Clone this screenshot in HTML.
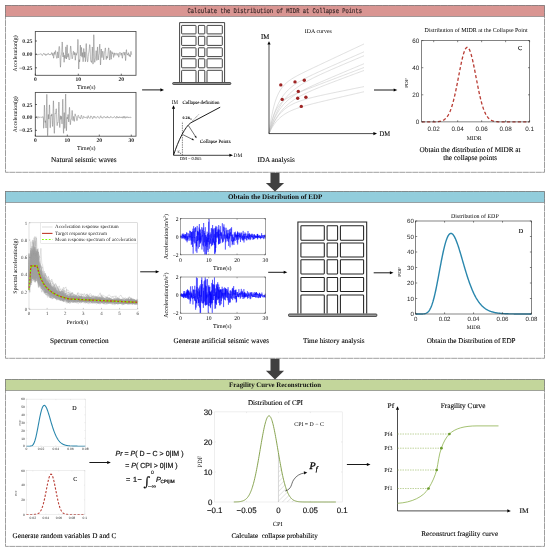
<!DOCTYPE html>
<html><head><meta charset="utf-8"><title>Fragility workflow</title>
<style>html,body{margin:0;padding:0;background:#fff}svg{display:block;text-rendering:geometricPrecision}</style></head>
<body><svg width="550" height="553" viewBox="0 0 550 553">
<rect x="5.5" y="5.5" width="539" height="166.8" fill="#fff" stroke="#8c8c8c" stroke-width="0.85" stroke-dasharray="6 0.5"/>
<rect x="5.5" y="5.5" width="539" height="10.9" fill="#d99592" stroke="#707070" stroke-width="0.6" />
<text x="187.5" y="13.2" font-size="7" font-family="'Liberation Mono', monospace" fill="#2b1f1f" textLength="174.5" lengthAdjust="spacingAndGlyphs" stroke="#2b1f1f" stroke-width="0.15">Calculate the Distribution of MIDR at Collapse Points</text>
<rect x="5.5" y="191.6" width="539" height="166.7" fill="#fff" stroke="#8c8c8c" stroke-width="0.85" stroke-dasharray="6 0.5"/>
<rect x="5.5" y="191.6" width="539" height="10.8" fill="#92cddc" stroke="#707070" stroke-width="0.6" />
<text x="228" y="199.4" font-size="7.05" font-family="'Liberation Serif', serif" font-weight="bold" fill="#111" textLength="94.4" lengthAdjust="spacingAndGlyphs" >Obtain the Distribution of EDP</text>
<rect x="5.5" y="379.6" width="539" height="166.8" fill="#fff" stroke="#8c8c8c" stroke-width="0.85" stroke-dasharray="6 0.5"/>
<rect x="5.5" y="379.6" width="539" height="10.8" fill="#c3d69b" stroke="#707070" stroke-width="0.6" />
<text x="229" y="387.1" font-size="6.87" font-family="'Liberation Serif', serif" font-weight="bold" fill="#111" textLength="92" lengthAdjust="spacingAndGlyphs" >Fragility Curve Reconstruction</text>
<polygon points="270.5,172.8 279.5,172.8 279.5,183 284.1,183 275,191.4 265.9,183 270.5,183" fill="#404040"/>
<polygon points="270.5,358.8 279.5,358.8 279.5,370.8 284.1,370.8 275,379.4 265.9,370.8 270.5,370.8" fill="#404040"/>
<path d="M179.6,82.2 V22.6 H224.6 V82.2" fill="none" stroke="#222" stroke-width="0.85"/>
<rect x="181.6" y="25.4" width="14.4" height="8.5" fill="none" stroke="#222" stroke-width="0.85" rx="0.6"/>
<rect x="198.4" y="25.4" width="6.4" height="8.5" fill="none" stroke="#222" stroke-width="0.85" rx="0.6"/>
<rect x="207" y="25.4" width="15.3" height="8.5" fill="none" stroke="#222" stroke-width="0.85" rx="0.6"/>
<rect x="181.6" y="36.3" width="14.4" height="9.1" fill="none" stroke="#222" stroke-width="0.85" rx="0.6"/>
<rect x="198.4" y="36.3" width="6.4" height="9.1" fill="none" stroke="#222" stroke-width="0.85" rx="0.6"/>
<rect x="207" y="36.3" width="15.3" height="9.1" fill="none" stroke="#222" stroke-width="0.85" rx="0.6"/>
<rect x="181.6" y="47.8" width="14.4" height="8.8" fill="none" stroke="#222" stroke-width="0.85" rx="0.6"/>
<rect x="198.4" y="47.8" width="6.4" height="8.8" fill="none" stroke="#222" stroke-width="0.85" rx="0.6"/>
<rect x="207" y="47.8" width="15.3" height="8.8" fill="none" stroke="#222" stroke-width="0.85" rx="0.6"/>
<rect x="181.6" y="58.8" width="14.4" height="9" fill="none" stroke="#222" stroke-width="0.85" rx="0.6"/>
<rect x="198.4" y="58.8" width="6.4" height="9" fill="none" stroke="#222" stroke-width="0.85" rx="0.6"/>
<rect x="207" y="58.8" width="15.3" height="9" fill="none" stroke="#222" stroke-width="0.85" rx="0.6"/>
<path d="M181.6,82.2 V71.1 Q181.6,70.3 182.4,70.3 H195.2 Q196,70.3 196,71.1 V82.2" fill="none" stroke="#222" stroke-width="0.85"/>
<path d="M198.4,82.2 V71.1 Q198.4,70.3 199.2,70.3 H204 Q204.8,70.3 204.8,71.1 V82.2" fill="none" stroke="#222" stroke-width="0.85"/>
<path d="M207,82.2 V71.1 Q207,70.3 207.8,70.3 H221.5 Q222.3,70.3 222.3,71.1 V82.2" fill="none" stroke="#222" stroke-width="0.85"/>
<rect x="172.7" y="82.6" width="58.1" height="1.8" fill="#a6a6a6" stroke="#2a2a2a" stroke-width="0.85" rx="0.6"/>
<path d="M297.9,313.6 V222 H366.7 V313.6" fill="none" stroke="#222" stroke-width="1.05"/>
<rect x="300.9" y="225.8" width="23.4" height="14.4" fill="none" stroke="#222" stroke-width="1.05" rx="0.6"/>
<rect x="327.1" y="225.8" width="10.5" height="14.4" fill="none" stroke="#222" stroke-width="1.05" rx="0.6"/>
<rect x="340.4" y="225.8" width="23.2" height="14.4" fill="none" stroke="#222" stroke-width="1.05" rx="0.6"/>
<rect x="300.9" y="242.9" width="23.4" height="14.1" fill="none" stroke="#222" stroke-width="1.05" rx="0.6"/>
<rect x="327.1" y="242.9" width="10.5" height="14.1" fill="none" stroke="#222" stroke-width="1.05" rx="0.6"/>
<rect x="340.4" y="242.9" width="23.2" height="14.1" fill="none" stroke="#222" stroke-width="1.05" rx="0.6"/>
<rect x="300.9" y="259.7" width="23.4" height="14.2" fill="none" stroke="#222" stroke-width="1.05" rx="0.6"/>
<rect x="327.1" y="259.7" width="10.5" height="14.2" fill="none" stroke="#222" stroke-width="1.05" rx="0.6"/>
<rect x="340.4" y="259.7" width="23.2" height="14.2" fill="none" stroke="#222" stroke-width="1.05" rx="0.6"/>
<rect x="300.9" y="277.4" width="23.4" height="14.1" fill="none" stroke="#222" stroke-width="1.05" rx="0.6"/>
<rect x="327.1" y="277.4" width="10.5" height="14.1" fill="none" stroke="#222" stroke-width="1.05" rx="0.6"/>
<rect x="340.4" y="277.4" width="23.2" height="14.1" fill="none" stroke="#222" stroke-width="1.05" rx="0.6"/>
<path d="M300.9,313.6 V295.8 Q300.9,295 301.7,295 H323.5 Q324.3,295 324.3,295.8 V313.6" fill="none" stroke="#222" stroke-width="1.05"/>
<path d="M327.1,313.6 V295.8 Q327.1,295 327.9,295 H336.8 Q337.6,295 337.6,295.8 V313.6" fill="none" stroke="#222" stroke-width="1.05"/>
<path d="M340.4,313.6 V295.8 Q340.4,295 341.2,295 H362.8 Q363.6,295 363.6,295.8 V313.6" fill="none" stroke="#222" stroke-width="1.05"/>
<rect x="288.6" y="314" width="88.2" height="2.4" fill="#a6a6a6" stroke="#2a2a2a" stroke-width="0.85" rx="0.6"/>
<polyline points="35.3,54.01 35.52,53.91 35.73,54.07 35.95,54.36 36.16,54.46 36.38,54.25 36.59,53.92 36.8,53.8 37.02,54.03 37.23,54.42 37.45,54.73 37.66,54.84 37.88,54.83 38.09,54.79 38.31,54.66 38.52,54.39 38.74,54.1 38.95,53.98 39.17,54.11 39.38,54.3 39.6,54.29 39.81,54.03 40.03,53.74 40.24,53.69 40.46,53.9 40.67,54.15 40.89,54.22 41.1,54.1 41.32,54.03 41.53,54.21 41.75,54.67 41.96,55.2 42.18,55.53 42.39,55.51 42.61,55.18 42.82,54.71 43.04,54.27 43.25,53.9 43.47,53.55 43.68,53.21 43.9,53.09 44.11,53.32 44.33,53.92 44.54,54.49 44.76,54.61 44.97,54.24 45.19,53.89 45.41,54.09 45.62,54.84 45.83,55.5 46.05,55.49 46.27,54.87 46.48,54.28 46.7,54.25 46.91,54.62 47.12,54.85 47.34,54.6 47.55,54.03 47.77,53.52 47.98,53.27 48.2,53.23 48.41,53.41 48.63,53.87 48.84,54.52 49.06,54.97 49.27,54.94 49.49,54.59 49.7,54.44 49.92,54.7 50.13,55.03 50.35,54.94 50.56,54.47 50.78,54.13 50.99,54.17 51.21,54.15 51.42,53.53 51.64,52.65 51.85,52.53 52.07,53.67 52.28,55.14 52.5,55.44 52.71,54.29 52.93,53.22 53.14,53.99 53.36,56.41 53.57,58.23 53.79,57.48 54,54.66 54.22,52.26 54.44,52.15 54.65,53.63 54.86,54.49 55.08,53.44 55.3,51.42 55.51,50.58 55.72,51.83 55.94,54.02 56.16,55.63 56.37,56.5 56.58,57.43 56.8,58.39 57.02,58.05 57.23,55.66 57.44,52.68 57.66,51.84 57.88,54.11 58.09,57.28 58.3,58 58.52,55.14 58.73,50.7 58.95,47.39 59.16,46.33 59.38,46.54 59.59,47.87 59.81,51.46 60.02,57.66 60.24,64.17 60.45,67.2 60.67,65.06 60.88,60.04 61.1,56.18 61.31,55.1 61.53,54.54 61.74,51.39 61.96,45.85 62.17,41.95 62.39,43.47 62.6,49.68 62.82,55.63 63.03,57.01 63.25,54.47 63.47,52.61 63.68,54.82 63.89,59.57 64.11,62.27 64.32,60.5 64.54,56.72 64.75,55.24 64.97,57 65.19,58.43 65.4,55.8 65.61,50.17 65.83,46.83 66.05,49.49 66.26,55.69 66.47,58.98 66.69,55.63 66.91,48.72 67.12,44.88 67.33,47.46 67.55,53.44 67.77,57.21 67.98,56.49 68.19,53.99 68.41,53.59 68.62,56 68.84,58.79 69.06,59.8 69.27,59.46 69.48,59.35 69.7,59.53 69.91,58.25 70.13,54.42 70.34,49.47 70.56,46.17 70.78,46.02 70.99,48.09 71.2,50.6 71.42,52.75 71.63,54.84 71.85,57.01 72.06,58.58 72.28,58.85 72.5,57.92 72.71,56.4 72.92,54.63 73.14,52.73 73.35,51.28 73.57,51.28 73.78,52.92 74,54.74 74.22,54.99 74.43,53.49 74.64,52.43 74.86,54.08 75.07,57.8 75.29,60.23 75.5,58.91 75.72,55.21 75.94,52.78 76.15,53.34 76.37,55.02 76.58,55.25 76.79,54.07 77.01,53.39 77.22,53.18 77.44,50.72 77.66,44.75 77.87,39.35 78.09,41.18 78.3,51.79 78.52,64.07 78.73,69.03 78.94,65.51 79.16,60.33 79.38,59.67 79.59,61.89 79.81,60.47 80.02,53.18 80.23,45.71 80.45,45.05 80.66,50.91 80.88,55.93 81.09,54.5 81.31,49.28 81.53,47.42 81.74,51.51 81.95,56.69 82.17,57.19 82.38,53.79 82.6,52.56 82.81,56.64 83.03,61.77 83.25,61.32 83.46,54.72 83.67,48.47 83.89,48.63 84.11,53.86 84.32,57.44 84.53,55.64 84.75,51.89 84.97,52.17 85.18,57.33 85.39,61.76 85.61,59.87 85.82,52.29 86.04,45.13 86.25,43.56 86.47,47.35 86.69,52.59 86.9,56.3 87.11,58.52 87.33,60.4 87.54,61.83 87.76,61.68 87.97,59.58 88.19,56.67 88.41,54.43 88.62,53.25 88.84,52.42 89.05,51.09 89.27,48.98 89.48,46.46 89.69,44.61 89.91,44.96 90.12,48.44 90.34,54.05 90.56,59.06 90.77,61.26 90.98,61.11 91.2,61.03 91.41,62.18 91.63,62.52 91.84,59.05 92.06,52.2 92.27,46.97 92.49,48.58 92.7,56.6 92.92,64.11 93.13,63.55 93.35,53.72 93.56,41.2 93.78,34.73 94,38.13 94.21,47.97 94.42,57.5 94.64,62.21 94.86,62.3 95.07,60.67 95.28,59.4 95.5,58.23 95.72,55.9 95.93,52.62 96.14,50.66 96.36,52.27 96.57,56.83 96.79,60.49 97,59.32 97.22,53.46 97.44,47.61 97.65,46.92 97.86,51.98 98.08,57.88 98.29,59.91 98.51,57.89 98.72,55.25 98.94,54.26 99.16,53.42 99.37,50.22 99.58,45.58 99.8,44.12 100.02,49.2 100.23,58.39 100.44,64.94 100.66,63.98 100.88,57.13 101.09,50.56 101.31,49.05 101.52,52.24 101.73,56.19 101.95,57.62 102.16,56.32 102.38,53.79 102.59,51.74 102.81,51.09 103.02,52.2 103.24,54.91 103.45,58.1 103.67,59.86 103.89,58.9 104.1,55.88 104.31,52.97 104.53,51.63 104.75,51.32 104.96,50.47 105.17,48.76 105.39,47.9 105.61,49.73 105.82,53.95 106.03,58.03 106.25,59.54 106.47,58.37 106.68,56.55 106.9,56.06 107.11,57.07 107.32,58.2 107.54,58.08 107.75,56.46 107.97,54 108.18,51.41 108.4,49.17 108.61,47.83 108.83,48.13 109.05,50.59 109.26,54.66 109.47,58.55 109.69,60.06 109.91,58.17 110.12,54.07 110.33,50.65 110.55,50.46 110.77,53.64 110.98,57.63 111.2,59.27 111.41,57.45 111.62,53.97 111.84,51.67 112.06,51.76 112.27,53.07 112.48,53.67 112.7,53.16 112.91,52.81 113.13,53.93 113.34,56.08 113.56,57.41 113.77,56.62 113.99,54.43 114.2,52.8 114.42,52.94 114.63,54.29 114.85,55.35 115.06,55.29 115.28,54.45 115.5,53.67 115.71,53.28 115.92,53.11 116.14,53.04 116.36,53.24 116.57,53.87 116.78,54.71 117,55.32 117.22,55.39 117.43,54.9 117.64,54.1 117.86,53.35 118.07,53.2 118.29,54.1 118.5,55.79 118.72,57.2 118.94,57.19 119.15,55.64 119.36,53.67 119.58,52.57 119.8,52.57 120.01,52.85 120.22,52.77 120.44,52.71 120.66,53.42 120.87,54.7 121.09,55.33 121.3,54.52 121.52,53.12 121.73,52.97 121.95,54.82 122.16,57.31 122.38,58.25 122.59,56.88 122.8,54.45 123.02,52.72 123.23,52.22 123.45,52.31 123.66,52.51 123.88,53.15 124.09,54.35 124.31,55.21 124.52,54.55 124.74,52.78 124.95,52.08 125.17,54.23 125.39,58.22 125.6,60.62 125.81,58.93 126.03,54.24 126.25,50.25 126.46,49.67 126.67,51.84 126.89,54.01 127.11,54.46 127.32,53.93 127.54,54.01 127.75,54.86 127.97,55.19 128.18,54.18 128.39,52.8 128.61,52.73 128.82,54.31 129.04,56.01 129.25,56.26 129.47,55.24 129.69,54.6 129.9,55.38 130.12,56.73 130.33,56.81 130.55,54.91 130.76,52.27 130.97,51.36 131.19,52.32 131.41,53.74 131.62,54.44 131.84,54.41 132.05,54.26" fill="none" stroke="#6a6a6a" stroke-width="0.45" />
<rect x="35.3" y="31.5" width="100.7" height="43.8" fill="none" stroke="#4a4a4a" stroke-width="0.85" />
<line x1="35.3" y1="41" x2="36.9" y2="41" stroke="#111" stroke-width="0.7" />
<text x="32.5" y="43" font-size="5.8" font-family="'Liberation Serif', serif" text-anchor="end" font-weight="bold" fill="#333" >0.25</text>
<line x1="35.3" y1="54.3" x2="36.9" y2="54.3" stroke="#111" stroke-width="0.7" />
<text x="32.5" y="56.3" font-size="5.8" font-family="'Liberation Serif', serif" text-anchor="end" font-weight="bold" fill="#333" >0.00</text>
<line x1="35.3" y1="67.8" x2="36.9" y2="67.8" stroke="#111" stroke-width="0.7" />
<text x="32.5" y="69.8" font-size="5.8" font-family="'Liberation Serif', serif" text-anchor="end" font-weight="bold" fill="#333" >&#8722;0.25</text>
<line x1="35.3" y1="75.3" x2="35.3" y2="73.7" stroke="#111" stroke-width="0.6" />
<text x="35.3" y="81.4" font-size="5.5" font-family="'Liberation Serif', serif" text-anchor="middle" font-weight="bold" fill="#222" >0</text>
<line x1="78.3" y1="75.3" x2="78.3" y2="73.7" stroke="#111" stroke-width="0.6" />
<text x="78.3" y="81.4" font-size="5.5" font-family="'Liberation Serif', serif" text-anchor="middle" font-weight="bold" fill="#222" >10</text>
<line x1="121.3" y1="75.3" x2="121.3" y2="73.7" stroke="#111" stroke-width="0.6" />
<text x="121.3" y="81.4" font-size="5.5" font-family="'Liberation Serif', serif" text-anchor="middle" font-weight="bold" fill="#222" >20</text>
<text x="77" y="89" font-size="5.94" font-family="'Liberation Serif', serif" textLength="18.6" lengthAdjust="spacingAndGlyphs" >Time(s)</text>
<text x="17.4" y="53.4" font-size="5.74" font-family="'Liberation Serif', serif" text-anchor="middle" textLength="36" lengthAdjust="spacingAndGlyphs" transform="rotate(-90 17.4 53.4)" >Acceleration(g)</text>
<polyline points="35.3,117.69 35.46,117.73 35.62,117.73 35.78,117.72 35.94,117.7 36.1,117.61 36.26,117.41 36.42,117.09 36.58,116.71 36.74,116.39 36.9,116.25 37.06,116.37 37.22,116.76 37.38,117.3 37.54,117.85 37.7,118.25 37.86,118.4 38.02,118.28 38.18,117.95 38.34,117.52 38.5,117.09 38.66,116.77 38.82,116.62 38.98,116.65 39.14,116.83 39.3,117.1 39.46,117.37 39.62,117.55 39.78,117.59 39.94,117.5 40.1,117.32 40.26,117.16 40.42,117.09 40.58,117.15 40.74,117.29 40.9,117.44 41.06,117.51 41.22,117.47 41.38,117.36 41.54,117.28 41.7,117.29 41.86,117.4 42.02,117.55 42.18,117.61 42.34,117.49 42.5,117.19 42.66,116.83 42.82,116.57 42.98,116.58 43.14,116.9 43.3,117.42 43.46,117.92 43.62,128.27 43.78,127.77 43.94,122.65 44.1,114.94 44.26,108.09 44.42,105.15 44.58,107.16 44.74,112.63 44.9,118.49 45.06,122 45.22,122.44 45.38,121.43 45.54,120.73 45.7,122.91 45.86,126.22 46.02,127.99 46.18,125.54 46.34,118.06 46.5,107.55 46.66,98.19 46.82,94.33 46.98,98.25 47.14,108.82 47.3,121.93 47.46,132.43 47.62,135.7 47.78,133.82 47.94,126.6 48.1,119.06 48.26,114.64 48.42,114.45 48.58,116.93 48.74,119.09 48.9,118.44 49.06,114.48 49.22,108.99 49.38,104.96 49.54,104.87 49.7,109.28 49.86,116.5 50.02,123.56 50.18,127.71 50.34,127.77 50.5,124.55 50.66,120.17 50.82,116.74 50.98,115.32 51.14,115.53 51.3,116.13 51.46,116 51.62,114.95 51.78,113.88 51.94,114.13 52.1,116.5 52.26,120.56 52.42,124.62 52.58,126.48 52.74,124.59 52.9,118.92 53.06,111.2 53.22,104.25 53.38,100.81 53.54,102.41 53.7,108.68 53.86,117.57 54.02,126.18 54.18,131.9 54.34,133.35 54.5,130.74 54.66,125.58 54.82,119.95 54.98,115.62 55.14,113.39 55.3,112.99 55.46,113.37 55.62,113.36 55.78,112.36 55.94,110.58 56.1,109 56.26,108.78 56.42,110.66 56.58,114.45 56.74,119.1 56.9,123.16 57.06,125.45 57.22,125.68 57.38,124.52 57.54,123.15 57.7,122.51 57.86,122.72 58.02,122.86 58.18,121.6 58.34,118.01 58.5,112.36 58.66,106.3 58.82,102.19 58.98,102.01 59.14,106.24 59.3,113.52 59.46,121.16 59.62,126.37 59.78,127.57 59.94,125.1 60.1,120.84 60.26,117.19 60.42,115.73 60.58,116.53 60.74,118.31 60.9,119.43 61.06,119 61.22,117.5 61.38,116.35 61.54,116.96 61.7,119.5 61.86,122.59 62.02,123.86 62.18,121.38 62.34,114.97 62.5,106.77 62.66,100.4 62.82,99.22 62.98,104.5 63.14,114.55 63.3,125.37 63.46,132.52 63.62,133.29 63.78,128.08 63.94,120.16 64.1,113.93 64.26,112.62 64.42,116.63 64.58,123.29 64.74,128.37 64.9,128.27 65.06,122 65.22,111.75 65.38,101.8 65.54,96.45 65.7,94.08 65.86,103.46 66.02,115.63 66.18,125.79 66.34,130.77 66.5,130.16 66.66,125.96 66.82,121.15 66.98,118.06 67.14,117.34 67.3,118.08 67.46,118.72 67.62,118.2 67.78,116.56 67.94,114.88 68.1,114.46 68.26,115.89 68.42,118.64 68.58,121.21 68.74,121.99 68.9,120.11 69.06,116.01 69.22,111.26 69.38,107.87 69.54,107.31 69.7,109.88 69.86,114.57 70.02,119.6 70.18,123.28 70.34,124.69 70.5,123.98 70.66,122.14 70.82,120.37 70.98,119.45 71.14,119.35 71.3,119.44 71.46,118.87 71.62,117.17 71.78,114.58 71.94,111.96 72.1,110.41 72.26,110.67 72.42,112.75 72.58,115.87 72.74,118.82 72.9,120.52 73.06,120.54 73.22,119.23 73.38,117.54 73.54,116.49 73.7,116.7 73.86,118.09 74.02,119.93 74.18,121.28 74.34,121.41 74.5,120.18 74.66,118.06 74.82,115.86 74.98,114.33 75.14,113.83 75.3,114.21 75.46,115.01 75.62,115.69 75.78,116.02 75.94,116.06 76.1,116.15 76.26,116.62 76.42,117.58 76.58,118.83 76.74,119.99 76.9,120.65 77.06,120.6 77.22,119.88 77.38,118.76 77.54,117.58 77.7,116.59 77.86,115.89 78.02,115.47 78.18,115.27 78.34,115.28 78.5,115.52 78.66,116 78.82,116.67 78.98,117.37 79.14,117.89 79.3,118.09 79.46,117.98 79.62,117.72 79.78,117.56 79.94,117.67 80.1,118.08 80.26,118.6 80.42,118.93 80.58,118.83 80.74,118.22 80.9,117.25 81.06,116.22 81.22,115.46 81.38,115.18 81.54,115.39 81.7,115.93 81.86,116.6 82.02,117.2 82.18,117.67 82.34,118.04 82.5,118.35 82.66,118.59 82.82,118.7 82.98,118.58 83.14,118.19 83.3,117.58 83.46,116.92 83.62,116.4 83.78,116.19 83.94,116.32 84.1,116.69 84.26,117.11 84.42,117.41 84.58,117.51 84.74,117.44 84.9,117.3 85.06,117.23 85.22,117.27 85.38,117.4 85.54,117.54 85.7,117.58 85.86,117.47 86.02,117.23 86.18,116.98 86.34,116.83 86.5,116.9 86.66,117.2 86.82,117.67 86.98,118.16 87.14,118.47 87.3,118.47 87.46,118.1 87.62,117.44 87.78,116.66 87.94,116 88.1,115.67 88.26,115.75 88.42,116.2 88.58,116.84 88.74,117.44 88.9,117.83 89.06,117.96 89.22,117.91 89.38,117.84 89.54,117.88 89.7,118.07 89.86,118.31 90.02,118.41 90.18,118.22 90.34,117.72 90.5,117.02 90.66,116.35 90.82,115.93 90.98,115.86 91.14,116.1 91.3,116.48 91.46,116.82 91.62,117.01 91.78,117.11 91.94,117.25 92.1,117.54 92.26,118.01 92.42,118.5 92.58,118.81 92.74,118.74 92.9,118.27 93.06,117.54 93.22,116.83 93.38,116.43 93.54,116.45 93.7,116.8 93.86,117.25 94.02,117.53 94.18,117.47 94.34,117.12 94.5,116.66 94.66,116.35 94.82,116.34 94.98,116.64 95.14,117.11 95.3,117.55 95.46,117.82 95.62,117.9 95.78,117.86 95.94,117.84 96.1,117.89 96.26,118 96.42,118.07 96.58,117.99 96.74,117.73 96.9,117.34 97.06,116.94 97.22,116.66 97.38,116.53 97.54,116.52 97.7,116.57 97.86,116.59 98.02,116.59 98.18,116.62 98.34,116.76 98.5,117.05 98.66,117.46 98.82,117.88 98.98,118.2 99.14,118.36 99.3,118.37 99.46,118.28 99.62,118.16 99.78,118.01 99.94,117.79 100.1,117.43 100.26,116.92 100.42,116.37 100.58,115.94 100.74,115.78 100.9,115.99 101.06,116.5 101.22,117.11 101.38,117.6 101.54,117.81 101.7,117.74 101.86,117.53 102.02,117.38 102.18,117.44 102.34,117.7 102.5,118.04 102.66,118.26 102.82,118.19 102.98,117.86 103.14,117.37 103.3,116.95 103.46,116.74 103.62,116.77 103.78,116.93 103.94,117.06 104.1,117.04 104.26,116.87 104.42,116.67 104.58,116.61 104.74,116.77 104.9,117.14 105.06,117.58 105.22,117.89 105.38,117.95 105.54,117.79 105.7,117.53 105.86,117.37 106.02,117.41 106.18,117.63 106.34,117.91 106.5,118.03 106.66,117.87 106.82,117.43 106.98,116.86 107.14,116.37 107.3,116.15 107.46,116.27 107.62,116.68 107.78,117.18 107.94,117.6 108.1,117.79 108.26,117.74 108.42,117.52 108.58,117.26 108.74,117.08 108.9,117.04 109.06,117.16 109.22,117.39 109.38,117.67 109.54,117.92 109.7,118.06 109.86,118.05 110.02,117.88 110.18,117.56 110.34,117.16 110.5,116.77 110.66,116.47 110.82,116.34 110.98,116.38 111.14,116.57 111.3,116.85 111.46,117.15 111.62,117.43 111.78,117.67 111.94,117.84 112.1,117.93 112.26,117.91 112.42,117.8 112.58,117.61 112.74,117.42 112.9,117.28 113.06,117.25 113.22,117.33 113.38,117.45 113.54,117.5 113.7,117.41 113.86,117.17 114.02,116.84 114.18,116.58 114.34,116.49 114.5,116.61 114.66,116.89 114.82,117.2 114.98,117.43 115.14,117.53 115.3,117.56 115.46,117.6 115.62,117.75 115.78,117.99 115.94,118.21 116.1,118.23 116.26,117.96 116.42,117.41 116.58,116.75 116.74,116.24 116.9,116.08 117.06,116.34 117.22,116.86 117.38,117.4 117.54,117.71 117.7,117.69 117.86,117.43 118.02,117.13 118.18,117.01 118.34,117.19 118.5,117.57 118.66,117.94 118.82,118.08 118.98,117.89 119.14,117.45 119.3,116.98 119.46,116.7 119.62,116.74 119.78,117.03 119.94,117.38 120.1,117.58 120.26,117.54 120.42,117.3 120.58,117.04 120.74,116.95 120.9,117.09 121.06,117.36 121.22,117.6 121.38,117.63 121.54,117.41 121.7,117.07 121.86,116.84 122.02,116.88 122.18,117.23 122.34,117.73 122.5,118.11 122.66,118.14 122.82,117.75 122.98,117.12 123.14,116.54 123.3,116.31 123.46,116.55 123.62,117.14 123.78,117.79 123.94,118.16 124.1,118.06 124.26,117.56 124.42,116.9 124.58,116.43 124.74,116.38 124.9,116.78 125.06,117.43 125.22,118.02 125.38,118.28 125.54,118.11 125.7,117.63 125.86,117.08 126.02,116.73 126.18,116.71 126.34,116.97 126.5,117.34 126.66,117.61 126.82,117.62 126.98,117.38 127.14,117.03 127.3,116.77 127.46,116.74 127.62,116.98 127.78,117.39 127.94,117.78 128.1,117.98 128.26,117.92 128.42,117.64 128.58,117.28 128.74,117 128.9,116.92 129.06,117.05 129.22,117.28 129.38,117.47 129.54,117.5 129.7,117.35 129.86,117.1 130.02,116.89 130.18,116.85 130.34,117.02 130.5,117.34 130.66,117.64 130.82,117.77 130.98,117.67 131.14,117.37 131.3,117.06" fill="none" stroke="#6a6a6a" stroke-width="0.45" />
<rect x="35.3" y="92.4" width="100.7" height="43.8" fill="none" stroke="#4a4a4a" stroke-width="0.85" />
<line x1="35.3" y1="104.5" x2="36.9" y2="104.5" stroke="#111" stroke-width="0.7" />
<text x="32.5" y="106.5" font-size="5.8" font-family="'Liberation Serif', serif" text-anchor="end" font-weight="bold" fill="#333" >0.25</text>
<line x1="35.3" y1="117.3" x2="36.9" y2="117.3" stroke="#111" stroke-width="0.7" />
<text x="32.5" y="119.3" font-size="5.8" font-family="'Liberation Serif', serif" text-anchor="end" font-weight="bold" fill="#333" >0.00</text>
<line x1="35.3" y1="130.3" x2="36.9" y2="130.3" stroke="#111" stroke-width="0.7" />
<text x="32.5" y="132.3" font-size="5.8" font-family="'Liberation Serif', serif" text-anchor="end" font-weight="bold" fill="#333" >&#8722;0.25</text>
<line x1="35.3" y1="136.2" x2="35.3" y2="134.6" stroke="#111" stroke-width="0.6" />
<text x="35.3" y="142.3" font-size="5.5" font-family="'Liberation Serif', serif" text-anchor="middle" font-weight="bold" fill="#222" >0</text>
<line x1="67.3" y1="136.2" x2="67.3" y2="134.6" stroke="#111" stroke-width="0.6" />
<text x="67.3" y="142.3" font-size="5.5" font-family="'Liberation Serif', serif" text-anchor="middle" font-weight="bold" fill="#222" >10</text>
<line x1="99.3" y1="136.2" x2="99.3" y2="134.6" stroke="#111" stroke-width="0.6" />
<text x="99.3" y="142.3" font-size="5.5" font-family="'Liberation Serif', serif" text-anchor="middle" font-weight="bold" fill="#222" >20</text>
<line x1="131.3" y1="136.2" x2="131.3" y2="134.6" stroke="#111" stroke-width="0.6" />
<text x="131.3" y="142.3" font-size="5.5" font-family="'Liberation Serif', serif" text-anchor="middle" font-weight="bold" fill="#222" >30</text>
<text x="77" y="149.9" font-size="5.94" font-family="'Liberation Serif', serif" textLength="18.6" lengthAdjust="spacingAndGlyphs" >Time(s)</text>
<text x="17.4" y="114.3" font-size="5.74" font-family="'Liberation Serif', serif" text-anchor="middle" textLength="36" lengthAdjust="spacingAndGlyphs" transform="rotate(-90 17.4 114.3)" >Acceleration(g)</text>
<text x="51.1" y="162.3" font-size="7.28" font-family="'Liberation Serif', serif" stroke="#000" stroke-width="0.1" textLength="65.5" lengthAdjust="spacingAndGlyphs" >Natural seismic waves</text>
<line x1="142.1" y1="89.9" x2="160.9" y2="89.9" stroke="#000" stroke-width="0.9" />
<polygon points="164,89.9 160.4,88.35 160.4,91.45" fill="#000"/>
<line x1="173.5" y1="155.3" x2="173.5" y2="108.2" stroke="#000" stroke-width="0.75" />
<polygon points="173.5,105.3 171.9,108.7 175.1,108.7" fill="#000"/>
<line x1="173.5" y1="155.3" x2="229.9" y2="155.3" stroke="#000" stroke-width="0.75" />
<polygon points="233,155.3 229.4,153.75 229.4,156.85" fill="#000"/>
<text x="171.8" y="104.3" font-size="5.6" font-family="'Liberation Serif', serif" textLength="6.1" lengthAdjust="spacingAndGlyphs" >IM</text>
<text x="182.4" y="103.9" font-size="4.9" font-family="'Liberation Serif', serif" stroke="#000" stroke-width="0.08" textLength="37.1" lengthAdjust="spacingAndGlyphs" >Collapse definition</text>
<text x="233.6" y="157.2" font-size="5.4" font-family="'Liberation Serif', serif" >DM</text>
<text x="179.7" y="160.1" font-size="4.63" font-family="'Liberation Serif', serif" textLength="21.8" lengthAdjust="spacingAndGlyphs" >DM = 0.065</text>
<text x="200.1" y="143.4" font-size="4.9" font-family="'Liberation Serif', serif" stroke="#000" stroke-width="0.08" textLength="30.5" lengthAdjust="spacingAndGlyphs" >Collapse Points</text>
<text x="182.4" y="119" font-size="4" font-family="'Liberation Serif', serif" font-weight="bold" >0.2K<tspan font-size="3" dy="0.8">e</tspan></text>
<path d="M173.6,155 C176,148 178.5,141 182.2,134.2 C185,129 187.5,125.2 190.8,122.8 L220.2,107.2" fill="none" stroke="#111" stroke-width="0.95"/>
<path d="M192.6,120.8 L198.8,114.4" fill="none" stroke="#111" stroke-width="0.5" stroke-dasharray="1.1 0.8"/>
<line x1="182.4" y1="155.3" x2="182.4" y2="121.6" stroke="#111" stroke-width="0.5" stroke-dasharray="1.5 0.9"/>
<line x1="188.4" y1="125.5" x2="195.52" y2="136.52" stroke="#111" stroke-width="0.6" />
<polygon points="196.6,138.2 194.46,136.73 196.14,135.64" fill="#111"/>
<line x1="183" y1="134.7" x2="192.41" y2="139.41" stroke="#111" stroke-width="0.6" />
<polygon points="194.2,140.3 191.61,140.12 192.5,138.33" fill="#111"/>
<text x="177.5" y="153.4" font-size="3.4" font-family="'Liberation Serif', serif" >K<tspan font-size="2.6" dy="0.6">e</tspan></text>
<polyline points="269,133.6 270.2,124.86 271.41,117.61 272.61,111.57 273.81,106.52 275.01,102.29 276.22,98.73 277.42,95.71 278.62,93.13 279.82,90.92 281.03,89.01 282.23,87.35 283.43,85.88 284.63,84.58 285.84,83.41 287.04,82.35 288.24,81.38 289.44,80.48 290.65,79.65 291.85,78.86 293.05,78.11 294.25,77.4 295.46,76.71 296.66,76.05 297.86,75.4 299.06,74.77 300.27,74.15 301.47,73.54 302.67,72.94 303.87,72.34 305.08,71.75 306.28,71.17 307.48,70.59 308.68,70.01 309.89,69.43 311.09,68.86 312.29,68.29 313.49,67.72 314.7,67.14 315.9,66.58 317.1,66.01 318.3,65.44 319.51,64.87 320.71,64.3 321.91,63.74 323.11,63.17 324.32,62.61 325.52,62.04 326.72,61.47 327.92,60.91 329.13,60.34 330.33,59.78 331.53,59.21 332.73,58.65 333.94,58.08 335.14,57.52 336.34,56.95 337.54,56.38 338.75,55.82 339.95,55.25 341.15,54.69 342.35,54.12 343.56,53.56 344.76,52.99 345.96,52.43 347.16,51.86 348.37,51.3 349.57,50.73 350.77,50.17 351.97,49.6 353.18,49.04 354.38,48.47 355.58,47.91 356.78,47.34 357.99,46.78 359.19,46.21 360.39,45.65 361.59,45.08 362.8,44.52 364,43.95" fill="none" stroke="#c6c6c6" stroke-width="0.55" />
<polyline points="269,133.6 270.2,128.07 271.41,123.16 272.61,118.8 273.81,114.92 275.01,111.46 276.22,108.37 277.42,105.59 278.62,103.1 279.82,100.86 281.03,98.82 282.23,96.98 283.43,95.3 284.63,93.76 285.84,92.35 287.04,91.05 288.24,89.85 289.44,88.73 290.65,87.69 291.85,86.71 293.05,85.78 294.25,84.91 295.46,84.08 296.66,83.28 297.86,82.52 299.06,81.79 300.27,81.08 301.47,80.4 302.67,79.73 303.87,79.09 305.08,78.45 306.28,77.83 307.48,77.22 308.68,76.63 309.89,76.04 311.09,75.45 312.29,74.88 313.49,74.31 314.7,73.74 315.9,73.18 317.1,72.63 318.3,72.07 319.51,71.52 320.71,70.98 321.91,70.43 323.11,69.89 324.32,69.35 325.52,68.81 326.72,68.27 327.92,67.73 329.13,67.19 330.33,66.66 331.53,66.12 332.73,65.59 333.94,65.06 335.14,64.52 336.34,63.99 337.54,63.46 338.75,62.93 339.95,62.4 341.15,61.87 342.35,61.34 343.56,60.81 344.76,60.27 345.96,59.74 347.16,59.21 348.37,58.68 349.57,58.15 350.77,57.62 351.97,57.1 353.18,56.57 354.38,56.04 355.58,55.51 356.78,54.98 357.99,54.45 359.19,53.92 360.39,53.39 361.59,52.86 362.8,52.33 364,51.8" fill="none" stroke="#c6c6c6" stroke-width="0.55" />
<polyline points="269,133.6 270.2,129.47 271.41,125.69 272.61,122.22 273.81,119.03 275.01,116.1 276.22,113.4 277.42,110.91 278.62,108.61 279.82,106.47 281.03,104.5 282.23,102.66 283.43,100.96 284.63,99.36 285.84,97.87 287.04,96.48 288.24,95.17 289.44,93.93 290.65,92.77 291.85,91.66 293.05,90.62 294.25,89.63 295.46,88.68 296.66,87.77 297.86,86.91 299.06,86.08 300.27,85.28 301.47,84.5 302.67,83.76 303.87,83.03 305.08,82.33 306.28,81.64 307.48,80.98 308.68,80.32 309.89,79.69 311.09,79.06 312.29,78.45 313.49,77.84 314.7,77.25 315.9,76.67 317.1,76.09 318.3,75.52 319.51,74.95 320.71,74.39 321.91,73.84 323.11,73.29 324.32,72.75 325.52,72.2 326.72,71.67 327.92,71.13 329.13,70.6 330.33,70.07 331.53,69.54 332.73,69.02 333.94,68.5 335.14,67.98 336.34,67.46 337.54,66.94 338.75,66.42 339.95,65.9 341.15,65.39 342.35,64.88 343.56,64.36 344.76,63.85 345.96,63.34 347.16,62.83 348.37,62.32 349.57,61.81 350.77,61.3 351.97,60.79 353.18,60.28 354.38,59.77 355.58,59.26 356.78,58.76 357.99,58.25 359.19,57.74 360.39,57.23 361.59,56.73 362.8,56.22 364,55.71" fill="none" stroke="#c6c6c6" stroke-width="0.55" />
<polyline points="269,133.6 270.2,129.7 271.41,126.18 272.61,123 273.81,120.12 275.01,117.52 276.22,115.15 277.42,112.99 278.62,111.02 279.82,109.22 281.03,107.56 282.23,106.04 283.43,104.63 284.63,103.32 285.84,102.1 287.04,100.96 288.24,99.9 289.44,98.9 290.65,97.95 291.85,97.06 293.05,96.21 294.25,95.39 295.46,94.62 296.66,93.87 297.86,93.15 299.06,92.46 300.27,91.78 301.47,91.13 302.67,90.49 303.87,89.87 305.08,89.26 306.28,88.66 307.48,88.08 308.68,87.5 309.89,86.93 311.09,86.37 312.29,85.81 313.49,85.26 314.7,84.72 315.9,84.18 317.1,83.64 318.3,83.11 319.51,82.58 320.71,82.05 321.91,81.53 323.11,81.01 324.32,80.49 325.52,79.97 326.72,79.45 327.92,78.93 329.13,78.42 330.33,77.91 331.53,77.39 332.73,76.88 333.94,76.37 335.14,75.86 336.34,75.35 337.54,74.84 338.75,74.33 339.95,73.83 341.15,73.32 342.35,72.81 343.56,72.3 344.76,71.8 345.96,71.29 347.16,70.78 348.37,70.28 349.57,69.77 350.77,69.26 351.97,68.76 353.18,68.25 354.38,67.75 355.58,67.24 356.78,66.74 357.99,66.23 359.19,65.72 360.39,65.22 361.59,64.71 362.8,64.21 364,63.7" fill="none" stroke="#c6c6c6" stroke-width="0.55" />
<polyline points="269,133.6 270.2,127.69 271.41,122.78 272.61,118.67 273.81,115.23 275.01,112.33 276.22,109.87 277.42,107.78 278.62,105.98 279.82,104.43 281.03,103.07 282.23,101.88 283.43,100.82 284.63,99.88 285.84,99.02 287.04,98.23 288.24,97.5 289.44,96.83 290.65,96.19 291.85,95.58 293.05,95.01 294.25,94.45 295.46,93.91 296.66,93.39 297.86,92.88 299.06,92.38 300.27,91.88 301.47,91.4 302.67,90.91 303.87,90.44 305.08,89.96 306.28,89.49 307.48,89.03 308.68,88.56 309.89,88.1 311.09,87.63 312.29,87.17 313.49,86.71 314.7,86.25 315.9,85.79 317.1,85.33 318.3,84.87 319.51,84.41 320.71,83.96 321.91,83.5 323.11,83.04 324.32,82.58 325.52,82.13 326.72,81.67 327.92,81.21 329.13,80.75 330.33,80.3 331.53,79.84 332.73,79.38 333.94,78.92 335.14,78.47 336.34,78.01 337.54,77.55 338.75,77.1 339.95,76.64 341.15,76.18 342.35,75.73 343.56,75.27 344.76,74.81 345.96,74.35 347.16,73.9 348.37,73.44 349.57,72.98 350.77,72.53 351.97,72.07 353.18,71.61 354.38,71.16 355.58,70.7 356.78,70.24 357.99,69.78 359.19,69.33 360.39,68.87 361.59,68.41 362.8,67.96 364,67.5" fill="none" stroke="#c6c6c6" stroke-width="0.55" />
<polyline points="269,133.6 270.2,130.46 271.41,127.62 272.61,125.05 273.81,122.72 275.01,120.61 276.22,118.69 277.42,116.94 278.62,115.35 279.82,113.9 281.03,112.58 282.23,111.37 283.43,110.25 284.63,109.23 285.84,108.29 287.04,107.42 288.24,106.62 289.44,105.88 290.65,105.18 291.85,104.54 293.05,103.93 294.25,103.37 295.46,102.84 296.66,102.33 297.86,101.86 299.06,101.41 300.27,100.98 301.47,100.57 302.67,100.18 303.87,99.8 305.08,99.44 306.28,99.09 307.48,98.75 308.68,98.42 309.89,98.1 311.09,97.79 312.29,97.49 313.49,97.19 314.7,96.9 315.9,96.61 317.1,96.33 318.3,96.06 319.51,95.78 320.71,95.51 321.91,95.25 323.11,94.98 324.32,94.72 325.52,94.46 326.72,94.2 327.92,93.95 329.13,93.69 330.33,93.44 331.53,93.19 332.73,92.94 333.94,92.69 335.14,92.44 336.34,92.19 337.54,91.95 338.75,91.7 339.95,91.45 341.15,91.21 342.35,90.96 343.56,90.72 344.76,90.48 345.96,90.23 347.16,89.99 348.37,89.75 349.57,89.5 350.77,89.26 351.97,89.02 353.18,88.78 354.38,88.54 355.58,88.29 356.78,88.05 357.99,87.81 359.19,87.57 360.39,87.33 361.59,87.09 362.8,86.85 364,86.6" fill="none" stroke="#c6c6c6" stroke-width="0.55" />
<polyline points="269,133.6 270.2,131.06 271.41,128.77 272.61,126.71 273.81,124.86 275.01,123.18 276.22,121.66 277.42,120.28 278.62,119.03 279.82,117.89 281.03,116.84 282.23,115.89 283.43,115.01 284.63,114.19 285.84,113.44 287.04,112.74 288.24,112.09 289.44,111.49 290.65,110.92 291.85,110.38 293.05,109.87 294.25,109.39 295.46,108.93 296.66,108.5 297.86,108.08 299.06,107.67 300.27,107.29 301.47,106.91 302.67,106.55 303.87,106.19 305.08,105.84 306.28,105.51 307.48,105.18 308.68,104.85 309.89,104.53 311.09,104.22 312.29,103.91 313.49,103.6 314.7,103.3 315.9,103 317.1,102.7 318.3,102.4 319.51,102.11 320.71,101.82 321.91,101.53 323.11,101.24 324.32,100.96 325.52,100.67 326.72,100.39 327.92,100.1 329.13,99.82 330.33,99.54 331.53,99.26 332.73,98.98 333.94,98.69 335.14,98.41 336.34,98.14 337.54,97.86 338.75,97.58 339.95,97.3 341.15,97.02 342.35,96.74 343.56,96.46 344.76,96.19 345.96,95.91 347.16,95.63 348.37,95.35 349.57,95.08 350.77,94.8 351.97,94.52 353.18,94.24 354.38,93.97 355.58,93.69 356.78,93.41 357.99,93.14 359.19,92.86 360.39,92.58 361.59,92.31 362.8,92.03 364,91.75" fill="none" stroke="#c6c6c6" stroke-width="0.55" />
<polyline points="269,133.6 270.2,130.49 271.41,127.62 272.61,124.99 273.81,122.57 275.01,120.34 276.22,118.28 277.42,116.37 278.62,114.6 279.82,112.96 281.03,111.43 282.23,110 283.43,108.67 284.63,107.43 285.84,106.26 287.04,105.15 288.24,104.12 289.44,103.13 290.65,102.2 291.85,101.32 293.05,100.47 294.25,99.67 295.46,98.9 296.66,98.16 297.86,97.45 299.06,96.76 300.27,96.1 301.47,95.46 302.67,94.83 303.87,94.23 305.08,93.64 306.28,93.06 307.48,92.5 308.68,91.94 309.89,91.4 311.09,90.87 312.29,90.34 313.49,89.82 314.7,89.31 315.9,88.81 317.1,88.31 318.3,87.82 319.51,87.33 320.71,86.84 321.91,86.36 323.11,85.89 324.32,85.41 325.52,84.94 326.72,84.47 327.92,84 329.13,83.54 330.33,83.08 331.53,82.62 332.73,82.16 333.94,81.7 335.14,81.24 336.34,80.79 337.54,80.33 338.75,79.88 339.95,79.42 341.15,78.97 342.35,78.52 343.56,78.07 344.76,77.62 345.96,77.17 347.16,76.72 348.37,76.27 349.57,75.82 350.77,75.38 351.97,74.93 353.18,74.48 354.38,74.03 355.58,73.59 356.78,73.14 357.99,72.69 359.19,72.24 360.39,71.8 361.59,71.35 362.8,70.91 364,70.46" fill="none" stroke="#c6c6c6" stroke-width="0.55" />
<line x1="269" y1="133.6" x2="269" y2="44.1" stroke="#000" stroke-width="0.7" />
<polygon points="269,41.2 267.4,44.6 270.6,44.6" fill="#000"/>
<line x1="269" y1="133.6" x2="373.9" y2="133.6" stroke="#000" stroke-width="0.7" />
<polygon points="377,133.6 373.4,132.05 373.4,135.15" fill="#000"/>
<text x="261.1" y="38.9" font-size="6.71" font-family="'Liberation Serif', serif" stroke="#000" stroke-width="0.1" textLength="8.2" lengthAdjust="spacingAndGlyphs" >IM</text>
<text x="379.6" y="135.7" font-size="7.2" font-family="'Liberation Serif', serif" stroke="#000" stroke-width="0.1" textLength="10.6" lengthAdjust="spacingAndGlyphs" >DM</text>
<text x="304.8" y="33.2" font-size="5.89" font-family="'Liberation Serif', serif" textLength="27" lengthAdjust="spacingAndGlyphs" >IDA curves</text>
<circle cx="280.8" cy="84.9" r="1.7" fill="#9e2424"/>
<circle cx="295" cy="81.9" r="1.7" fill="#9e2424"/>
<circle cx="304.3" cy="80.3" r="1.7" fill="#9e2424"/>
<circle cx="298.3" cy="91.4" r="1.7" fill="#9e2424"/>
<circle cx="282.2" cy="99.4" r="1.7" fill="#9e2424"/>
<circle cx="297.7" cy="98.3" r="1.7" fill="#9e2424"/>
<circle cx="305.9" cy="97.2" r="1.7" fill="#9e2424"/>
<circle cx="301.3" cy="106.4" r="1.7" fill="#9e2424"/>
<line x1="374" y1="90" x2="394.2" y2="90" stroke="#000" stroke-width="0.9" />
<polygon points="397.3,90 393.7,88.45 393.7,91.55" fill="#000"/>
<text x="257.4" y="161.7" font-size="7.18" font-family="'Liberation Serif', serif" stroke="#000" stroke-width="0.1" textLength="37.3" lengthAdjust="spacingAndGlyphs" >IDA analysis</text>
<polyline points="421.7,121.9 422.24,121.9 422.78,121.9 423.33,121.9 423.87,121.9 424.41,121.9 424.95,121.9 425.5,121.9 426.04,121.9 426.58,121.9 427.12,121.9 427.66,121.9 428.21,121.9 428.75,121.9 429.29,121.89 429.83,121.89 430.38,121.89 430.92,121.89 431.46,121.88 432,121.88 432.54,121.87 433.09,121.87 433.63,121.86 434.17,121.85 434.71,121.83 435.26,121.82 435.8,121.79 436.34,121.77 436.88,121.73 437.42,121.69 437.97,121.65 438.51,121.59 439.05,121.51 439.59,121.43 440.14,121.33 440.68,121.21 441.22,121.06 441.76,120.89 442.3,120.69 442.85,120.46 443.39,120.18 443.93,119.87 444.47,119.5 445.02,119.08 445.56,118.6 446.1,118.05 446.64,117.42 447.18,116.72 447.73,115.93 448.27,115.04 448.81,114.06 449.35,112.97 449.89,111.76 450.44,110.44 450.98,108.99 451.52,107.42 452.06,105.72 452.61,103.89 453.15,101.93 453.69,99.85 454.23,97.64 454.77,95.31 455.32,92.88 455.86,90.34 456.4,87.72 456.94,85.02 457.49,82.27 458.03,79.47 458.57,76.65 459.11,73.84 459.65,71.04 460.2,68.29 460.74,65.62 461.28,63.04 461.82,60.58 462.37,58.26 462.91,56.11 463.45,54.16 463.99,52.42 464.53,50.91 465.08,49.65 465.62,48.65 466.16,47.93 466.7,47.49 467.25,47.34 467.79,47.48 468.33,47.9 468.87,48.61 469.41,49.6 469.96,50.85 470.5,52.35 471.04,54.08 471.58,56.02 472.13,58.16 472.67,60.47 473.21,62.92 473.75,65.5 474.29,68.17 474.84,70.92 475.38,73.71 475.92,76.53 476.46,79.35 477.01,82.14 477.55,84.9 478.09,87.6 478.63,90.23 479.17,92.77 479.72,95.21 480.26,97.54 480.8,99.75 481.34,101.84 481.89,103.81 482.43,105.64 482.97,107.35 483.51,108.92 484.05,110.38 484.6,111.7 485.14,112.91 485.68,114.01 486.22,115 486.77,115.89 487.31,116.69 487.85,117.39 488.39,118.02 488.93,118.57 489.48,119.06 490.02,119.48 490.56,119.85 491.1,120.17 491.65,120.44 492.19,120.68 492.73,120.88 493.27,121.05 493.81,121.2 494.36,121.32 494.9,121.43 495.44,121.51 495.98,121.58 496.53,121.64 497.07,121.69 497.61,121.73 498.15,121.77 498.69,121.79 499.24,121.81 499.78,121.83 500.32,121.85 500.86,121.86 501.41,121.87 501.95,121.87 502.49,121.88 503.03,121.88 503.57,121.89 504.12,121.89 504.66,121.89 505.2,121.89 505.74,121.9 506.28,121.9 506.83,121.9 507.37,121.9 507.91,121.9 508.45,121.9 509,121.9 509.54,121.9 510.08,121.9 510.62,121.9 511.16,121.9 511.71,121.9 512.25,121.9 512.79,121.9 513.33,121.9 513.88,121.9 514.42,121.9 514.96,121.9 515.5,121.9 516.04,121.9 516.59,121.9 517.13,121.9 517.67,121.9 518.21,121.9 518.76,121.9 519.3,121.9 519.84,121.9 520.38,121.9 520.92,121.9 521.47,121.9 522.01,121.9 522.55,121.9 523.09,121.9 523.64,121.9 524.18,121.9 524.72,121.9 525.26,121.9 525.8,121.9 526.35,121.9 526.89,121.9 527.43,121.9 527.97,121.9 528.52,121.9 529.06,121.9 529.6,121.9" fill="none" stroke="#b83a32" stroke-width="1.3" stroke-dasharray="3.2 2.2" stroke-linejoin="round"/>
<rect x="421.7" y="40.6" width="107.9" height="81.3" fill="none" stroke="#333" stroke-width="0.6" />
<line x1="421.7" y1="121.9" x2="423.3" y2="121.9" stroke="#333" stroke-width="0.6" />
<line x1="529.6" y1="121.9" x2="528" y2="121.9" stroke="#333" stroke-width="0.6" />
<text x="419.3" y="124.17" font-size="6.3" font-family="'Liberation Sans', sans-serif" text-anchor="end" fill="#222" >0</text>
<line x1="421.7" y1="94.8" x2="423.3" y2="94.8" stroke="#333" stroke-width="0.6" />
<line x1="529.6" y1="94.8" x2="528" y2="94.8" stroke="#333" stroke-width="0.6" />
<text x="419.3" y="97.07" font-size="6.3" font-family="'Liberation Sans', sans-serif" text-anchor="end" fill="#222" >20</text>
<line x1="421.7" y1="67.7" x2="423.3" y2="67.7" stroke="#333" stroke-width="0.6" />
<line x1="529.6" y1="67.7" x2="528" y2="67.7" stroke="#333" stroke-width="0.6" />
<text x="419.3" y="69.97" font-size="6.3" font-family="'Liberation Sans', sans-serif" text-anchor="end" fill="#222" >40</text>
<line x1="421.7" y1="40.6" x2="423.3" y2="40.6" stroke="#333" stroke-width="0.6" />
<line x1="529.6" y1="40.6" x2="528" y2="40.6" stroke="#333" stroke-width="0.6" />
<text x="419.3" y="42.87" font-size="6.3" font-family="'Liberation Sans', sans-serif" text-anchor="end" fill="#222" >60</text>
<line x1="433.69" y1="121.9" x2="433.69" y2="120.3" stroke="#333" stroke-width="0.6" />
<line x1="433.69" y1="40.6" x2="433.69" y2="42.2" stroke="#333" stroke-width="0.6" />
<text x="433.69" y="130.9" font-size="6.3" font-family="'Liberation Sans', sans-serif" text-anchor="middle" fill="#222" >0.02</text>
<line x1="457.67" y1="121.9" x2="457.67" y2="120.3" stroke="#333" stroke-width="0.6" />
<line x1="457.67" y1="40.6" x2="457.67" y2="42.2" stroke="#333" stroke-width="0.6" />
<text x="457.67" y="130.9" font-size="6.3" font-family="'Liberation Sans', sans-serif" text-anchor="middle" fill="#222" >0.04</text>
<line x1="481.64" y1="121.9" x2="481.64" y2="120.3" stroke="#333" stroke-width="0.6" />
<line x1="481.64" y1="40.6" x2="481.64" y2="42.2" stroke="#333" stroke-width="0.6" />
<text x="481.64" y="130.9" font-size="6.3" font-family="'Liberation Sans', sans-serif" text-anchor="middle" fill="#222" >0.06</text>
<line x1="505.62" y1="121.9" x2="505.62" y2="120.3" stroke="#333" stroke-width="0.6" />
<line x1="505.62" y1="40.6" x2="505.62" y2="42.2" stroke="#333" stroke-width="0.6" />
<text x="505.62" y="130.9" font-size="6.3" font-family="'Liberation Sans', sans-serif" text-anchor="middle" fill="#222" >0.08</text>
<line x1="529.6" y1="121.9" x2="529.6" y2="120.3" stroke="#333" stroke-width="0.6" />
<line x1="529.6" y1="40.6" x2="529.6" y2="42.2" stroke="#333" stroke-width="0.6" />
<text x="529.6" y="130.9" font-size="6.3" font-family="'Liberation Sans', sans-serif" text-anchor="middle" fill="#222" >0.1</text>
<text x="424.6" y="31.8" font-size="5.94" font-family="'Liberation Serif', serif" textLength="103" lengthAdjust="spacingAndGlyphs" >Distribution of MIDR at the Collapse Point</text>
<text x="520" y="50.4" font-size="6" font-family="'Liberation Serif', serif" stroke="#000" stroke-width="0.15" text-anchor="middle" >C</text>
<text x="466.8" y="140" font-size="5.63" font-family="'Liberation Serif', serif" textLength="14.7" lengthAdjust="spacingAndGlyphs" >MIDR</text>
<text x="407.8" y="83" font-size="4.4" font-family="'Liberation Serif', serif" text-anchor="middle" textLength="9.7" lengthAdjust="spacingAndGlyphs" transform="rotate(-90 407.8 83)" >PDF</text>
<text x="419.6" y="151.9" font-size="7.23" font-family="'Liberation Serif', serif" stroke="#000" stroke-width="0.1" textLength="101" lengthAdjust="spacingAndGlyphs" >Obtain the distribution of MIDR at</text>
<text x="443.2" y="159.9" font-size="7.23" font-family="'Liberation Serif', serif" stroke="#000" stroke-width="0.1" textLength="53.8" lengthAdjust="spacingAndGlyphs" >the collapse points</text>
<polygon points="29,255.96 29.31,282.73 29.62,276.48 29.94,271.1 30.25,266.07 30.56,259.61 30.87,258.5 31.19,260.03 31.5,259.16 31.81,258.62 32.12,256.56 32.44,258.41 32.75,255.77 33.06,259.03 33.37,256.91 33.69,255.81 34,255.38 34.31,255.67 34.62,256.18 34.93,257.34 35.25,258 35.56,257.26 35.87,257.12 36.18,258.78 36.5,256.64 36.81,257.06 37.12,257.04 37.43,260.06 37.75,262.89 38.06,261.69 38.42,261.61 39.25,266.3 40.09,268.52 40.92,270.92 41.76,272.93 42.59,276.81 43.43,277.22 44.26,277.86 45.09,278.66 45.93,280.02 46.76,282.21 47.6,283.23 48.43,282.85 49.27,284.83 50.1,284.75 50.93,286.52 51.77,287.33 52.6,287.88 53.44,288.86 54.27,289.63 55.11,289.01 55.94,290.5 56.77,290.68 57.61,292.39 58.44,292.62 59.28,292.39 60.11,292.76 60.95,292.87 61.78,293.88 62.61,293 63.45,293.46 64.28,294.47 65.12,295.03 65.95,295.44 66.79,295.95 67.62,296.37 68.45,296.49 69.29,296.16 70.12,296.14 70.96,295.54 71.79,296.44 72.63,296.42 73.46,296.51 74.29,296.61 75.13,296.86 75.96,296.97 76.8,296.7 77.63,297.24 78.47,297.38 79.3,296.65 80.13,297.35 80.97,296.74 81.8,296.96 82.64,298 83.47,298.14 84.31,298.16 85.14,297.88 85.97,297.74 86.81,297.45 87.64,297.34 88.48,297.42 89.31,297.86 90.15,297.93 90.98,297.99 91.81,298.29 92.65,298.14 93.48,298.35 94.32,298.49 95.15,298.25 95.99,298.18 96.82,298.04 97.65,298.4 98.49,298.52 99.32,298.21 100.16,298.48 100.99,298.07 101.83,298.31 102.66,298.67 103.49,299 104.33,299.02 105.16,299.4 106,298.83 106.83,299.04 107.67,298.93 108.5,299.19 109.33,298.93 110.17,298.96 111,299.32 111.84,299.74 112.67,299.89 113.51,299.82 114.34,299.92 115.17,300.01 116.01,299.79 116.84,299.32 117.68,299.44 118.51,299.73 119.35,299.69 120.18,299.94 121.01,300.04 121.85,300.29 122.68,300.34 123.52,300.25 124.35,300.57 125.19,300.03 126.02,300.09 126.85,300 127.69,300.02 128.52,299.65 129.36,300.11 130.19,299.67 131.03,299.81 131.86,299.73 132.69,300.52 133.53,300.29 134.36,300.24 135.2,300.8 136.03,300.85 136.87,300.55 137.7,300.81 137.7,303.81 136.87,303.46 136.03,303.59 135.2,303.45 134.36,303.25 133.53,303.5 132.69,303.24 131.86,303.18 131.03,303.08 130.19,303.2 129.36,303.26 128.52,303.24 127.69,303.27 126.85,303 126.02,303.06 125.19,303.06 124.35,303.08 123.52,303.15 122.68,303.13 121.85,302.81 121.01,303.04 120.18,302.94 119.35,302.76 118.51,302.93 117.68,302.98 116.84,302.88 116.01,302.73 115.17,302.93 114.34,302.86 113.51,302.59 112.67,302.71 111.84,302.51 111,302.36 110.17,302.43 109.33,302.59 108.5,302.55 107.67,302.34 106.83,302.56 106,302.31 105.16,302.45 104.33,302.28 103.49,302.02 102.66,302.12 101.83,301.99 100.99,302.05 100.16,301.85 99.32,302.07 98.49,302.07 97.65,302.21 96.82,301.99 95.99,301.88 95.15,301.7 94.32,301.74 93.48,301.58 92.65,301.64 91.81,302.09 90.98,301.47 90.15,301.53 89.31,301.4 88.48,301.53 87.64,301.35 86.81,301.37 85.97,301.58 85.14,301.72 84.31,300.96 83.47,301.08 82.64,301.1 81.8,301.28 80.97,301.25 80.13,301.14 79.3,301.25 78.47,300.95 77.63,301.14 76.8,300.98 75.96,301.08 75.13,301.15 74.29,301.22 73.46,301.24 72.63,301.06 71.79,300.82 70.96,300.82 70.12,300.83 69.29,301.45 68.45,301.5 67.62,300.78 66.79,300.59 65.95,299.78 65.12,299.7 64.28,299.68 63.45,300.4 62.61,300.03 61.78,299.6 60.95,299.26 60.11,299.09 59.28,298.17 58.44,297.93 57.61,297.5 56.77,297.78 55.94,297.78 55.11,296.77 54.27,296.97 53.44,296.48 52.6,296.36 51.77,295.52 50.93,295.83 50.1,294.86 49.27,294.13 48.43,293.64 47.6,292.21 46.76,291.89 45.93,292.32 45.09,291.16 44.26,289.56 43.43,288.1 42.59,287.66 41.76,286.53 40.92,285.16 40.09,283.73 39.25,281.47 38.42,281.13 38.06,278.63 37.75,273.56 37.43,275.59 37.12,273.09 36.81,273.45 36.5,274.3 36.18,273.69 35.87,274.28 35.56,271.78 35.25,275.83 34.93,275.05 34.62,271.82 34.31,274.19 34,274.14 33.69,274.55 33.37,274.16 33.06,273.88 32.75,275.47 32.44,272.47 32.12,276.24 31.81,274.49 31.5,274.58 31.19,274.25 30.87,273.98 30.56,275.85 30.25,279.24 29.94,282.66 29.62,285.79 29.31,289 29,285.13" fill="#9d9d9d" stroke="none"/>
<polyline points="29,277.24 29.31,284.39 29.62,275.32 29.94,270.22 30.25,257.53 30.56,252.63 30.87,241.41 31.19,270.72 31.5,257.67 31.81,262.49 32.12,259.38 32.44,252.34 32.75,249.03 33.06,248.26 33.37,250.71 33.69,240.2 34,254.73 34.31,253.9 34.62,247.36 34.93,254.24 35.25,240.74 35.56,246.51 35.87,236.62 36.18,253.01 36.5,259.63 36.81,254.33 37.12,249.32 37.43,260.1 37.75,253.43 38.06,263.36 38.42,257.14 39.25,272.49 40.09,279.48 40.92,282.22 41.76,275.53 42.59,280.92 43.43,282.64 44.26,280.29 45.09,282.36 45.93,282.06 46.76,280.61 47.6,278.83 48.43,277.36 49.27,278.92 50.1,284.97 50.93,286.1 51.77,286.16 52.6,289.14 53.44,290.63 54.27,289.44 55.11,294.2 55.94,294.49 56.77,294.06 57.61,295.43 58.44,295.96 59.28,294.61 60.11,294.89 60.95,297.78 61.78,297.38 62.61,297.03 63.45,295.09 64.28,298.26 65.12,297.09 65.95,296.1 66.79,297.64 67.62,297.47 68.45,296.77 69.29,296.14 70.12,297.64 70.96,295.67 71.79,297.36 72.63,296.6 73.46,298.57 74.29,296.18 75.13,296.8 75.96,296.18 76.8,294.83 77.63,292.73 78.47,295.19 79.3,296.65 80.13,297.95 80.97,297.82 81.8,299.18 82.64,299.19 83.47,298.9 84.31,298.21 85.14,298.83 85.97,298.72 86.81,299.54 87.64,299.37 88.48,298.73 89.31,298.65 90.15,297.59 90.98,296.48 91.81,296.28 92.65,297.55 93.48,297.55 94.32,298.37 95.15,298.08 95.99,298.43 96.82,297.89 97.65,298.39 98.49,295.69 99.32,294.44 100.16,292.81 100.99,295.51 101.83,296.09 102.66,298.67 103.49,299.39 104.33,301.64 105.16,299.84 106,298.95 106.83,299.47 107.67,300.46 108.5,299.58 109.33,300.34 110.17,300.63 111,298.49 111.84,297.97 112.67,296.76 113.51,296.73 114.34,295.81 115.17,297.01 116.01,295.7 116.84,297.36 117.68,297.69 118.51,299.59 119.35,299.13 120.18,299.65 121.01,299.19 121.85,299.41 122.68,298.57 123.52,300.1 124.35,301.07 125.19,300.67 126.02,298.85 126.85,299.41 127.69,299.36 128.52,299.58 129.36,300.74 130.19,301.82 131.03,301.3 131.86,301.03 132.69,300.2 133.53,299.33 134.36,299.64 135.2,301.11 136.03,301.41 136.87,301.57 137.7,302.06" fill="none" stroke="#a0a0a0" stroke-width="0.3" />
<polyline points="29,278.34 29.31,280.4 29.62,274.94 29.94,271.15 30.25,268.14 30.56,271.23 30.87,261.75 31.19,273.23 31.5,268.52 31.81,268.11 32.12,270.83 32.44,258.73 32.75,250.33 33.06,259.44 33.37,258.92 33.69,246.89 34,249.51 34.31,263.64 34.62,258.53 34.93,257.84 35.25,265.31 35.56,260.13 35.87,262.01 36.18,254.89 36.5,256.45 36.81,255.82 37.12,252.13 37.43,253.64 37.75,260.9 38.06,265.88 38.42,251.79 39.25,266.21 40.09,265.17 40.92,265.8 41.76,275.11 42.59,275.69 43.43,275.73 44.26,271.16 45.09,276.2 45.93,277.94 46.76,278.96 47.6,282.36 48.43,287.29 49.27,287.3 50.1,284.25 50.93,287.64 51.77,287.84 52.6,292.73 53.44,294.49 54.27,294.5 55.11,294.95 55.94,296.01 56.77,294.92 57.61,293.56 58.44,295.53 59.28,296.4 60.11,295.26 60.95,293.88 61.78,294.02 62.61,295.3 63.45,292.02 64.28,292.73 65.12,293.55 65.95,295.35 66.79,295.19 67.62,296.4 68.45,297.3 69.29,296.36 70.12,295.34 70.96,293.53 71.79,293.64 72.63,293.45 73.46,296.84 74.29,297.24 75.13,297.73 75.96,298.27 76.8,297.85 77.63,296.73 78.47,297.34 79.3,298.7 80.13,297.86 80.97,298.21 81.8,298.27 82.64,298.99 83.47,298.48 84.31,298.46 85.14,298.29 85.97,298.5 86.81,296.35 87.64,294.95 88.48,295.45 89.31,295.2 90.15,293.36 90.98,294.35 91.81,295.06 92.65,296.71 93.48,296.15 94.32,297 95.15,295.76 95.99,298.15 96.82,297.04 97.65,297.51 98.49,298.01 99.32,299.19 100.16,297.15 100.99,297.31 101.83,298.53 102.66,298.43 103.49,298.06 104.33,297.71 105.16,298.13 106,297.71 106.83,297.49 107.67,297.53 108.5,299.29 109.33,300.25 110.17,300.26 111,301.06 111.84,301.95 112.67,301.4 113.51,300.42 114.34,301.15 115.17,300.08 116.01,300.83 116.84,300.61 117.68,301.77 118.51,301.91 119.35,302.02 120.18,301.36 121.01,302.08 121.85,301.55 122.68,300.64 123.52,301.08 124.35,300.91 125.19,299.85 126.02,300.07 126.85,300.68 127.69,300.99 128.52,300.34 129.36,300.42 130.19,299.2 131.03,298.95 131.86,298.75 132.69,299.03 133.53,300 134.36,300.33 135.2,299.91 136.03,300.3 136.87,300.89 137.7,300.79" fill="none" stroke="#a0a0a0" stroke-width="0.3" />
<polyline points="29,280.5 29.31,284.73 29.62,281.65 29.94,281.82 30.25,279.3 30.56,261.02 30.87,260.33 31.19,269.37 31.5,259.07 31.81,262.01 32.12,259.33 32.44,261.87 32.75,265.79 33.06,264 33.37,262.36 33.69,268.11 34,275.58 34.31,280.24 34.62,270.06 34.93,274.23 35.25,264.96 35.56,260.52 35.87,266.95 36.18,271.58 36.5,270.16 36.81,266.59 37.12,275.41 37.43,268.49 37.75,269.03 38.06,274.81 38.42,263.95 39.25,267.22 40.09,265.78 40.92,268.16 41.76,271.45 42.59,281.42 43.43,285.58 44.26,291.98 45.09,293.5 45.93,292.59 46.76,288.86 47.6,287.52 48.43,286.21 49.27,285.08 50.1,288.66 50.93,290.59 51.77,292.69 52.6,290.86 53.44,288.2 54.27,285.84 55.11,283.6 55.94,283.73 56.77,286.67 57.61,289.33 58.44,288.55 59.28,293.22 60.11,293.73 60.95,295.37 61.78,297.25 62.61,298.27 63.45,298.1 64.28,298.89 65.12,299.08 65.95,298.82 66.79,299.1 67.62,298.74 68.45,298.24 69.29,298.33 70.12,297.2 70.96,298.04 71.79,298.72 72.63,298.36 73.46,299.14 74.29,300.36 75.13,300.45 75.96,300.17 76.8,299.82 77.63,298.03 78.47,299.33 79.3,299.51 80.13,299.66 80.97,300.44 81.8,301.46 82.64,301.4 83.47,300.95 84.31,300.91 85.14,301.04 85.97,301.31 86.81,299.28 87.64,301.39 88.48,301.78 89.31,300.68 90.15,299.76 90.98,300.73 91.81,299.73 92.65,298.59 93.48,300.81 94.32,300.61 95.15,300.71 95.99,300.67 96.82,300.98 97.65,301.08 98.49,301.62 99.32,301.73 100.16,301.44 100.99,301.69 101.83,300.44 102.66,300.24 103.49,300.59 104.33,300.69 105.16,301.2 106,301.3 106.83,301.29 107.67,300.81 108.5,300.6 109.33,300.92 110.17,300.93 111,301.41 111.84,301.66 112.67,300.85 113.51,301.03 114.34,301.56 115.17,301.87 116.01,302.16 116.84,303.48 117.68,303.22 118.51,303.44 119.35,302.76 120.18,301.82 121.01,300.91 121.85,300.36 122.68,300.11 123.52,300.39 124.35,301.76 125.19,302.78 126.02,303.06 126.85,302.36 127.69,302.05 128.52,301.95 129.36,300.08 130.19,300.43 131.03,301.72 131.86,302.56 132.69,302.79 133.53,303.6 134.36,302.63 135.2,302.48 136.03,302.43 136.87,302.31 137.7,302.33" fill="none" stroke="#a0a0a0" stroke-width="0.3" />
<polyline points="29,282.41 29.31,280.3 29.62,272.73 29.94,272.82 30.25,256.99 30.56,258.75 30.87,247.97 31.19,250.29 31.5,251.06 31.81,256.16 32.12,251.93 32.44,253.66 32.75,263.02 33.06,264.23 33.37,251.34 33.69,254.81 34,268 34.31,265.9 34.62,257.56 34.93,262.79 35.25,259.15 35.56,264.67 35.87,259.18 36.18,267.27 36.5,258.28 36.81,251.05 37.12,259.54 37.43,249.58 37.75,252.8 38.06,248.53 38.42,254.56 39.25,256.41 40.09,263.15 40.92,268.14 41.76,268.23 42.59,266.89 43.43,273.21 44.26,276.51 45.09,277.61 45.93,283.04 46.76,283.62 47.6,285.55 48.43,288.72 49.27,284.74 50.1,284.98 50.93,287.93 51.77,289.68 52.6,287.65 53.44,290.01 54.27,289.9 55.11,288.19 55.94,290.04 56.77,292.08 57.61,294.35 58.44,295.01 59.28,295.78 60.11,296.66 60.95,293.01 61.78,293.88 62.61,293.81 63.45,293.74 64.28,290.14 65.12,294.39 65.95,296.88 66.79,298.44 67.62,298.71 68.45,300.28 69.29,301.31 70.12,301.06 70.96,299.46 71.79,299.69 72.63,299.72 73.46,299.04 74.29,297.21 75.13,299.02 75.96,299.59 76.8,298.86 77.63,298.42 78.47,297.43 79.3,296.54 80.13,296.76 80.97,296.69 81.8,297.71 82.64,299.56 83.47,298.85 84.31,298.84 85.14,299.08 85.97,298.21 86.81,298.15 87.64,298.57 88.48,298 89.31,298.22 90.15,298.45 90.98,298.24 91.81,300.21 92.65,300.69 93.48,301.18 94.32,300.95 95.15,300.4 95.99,299.38 96.82,299.2 97.65,297.59 98.49,297.43 99.32,297.4 100.16,296.67 100.99,297 101.83,298.22 102.66,298.67 103.49,299.06 104.33,299.2 105.16,299.8 106,300.77 106.83,302.02 107.67,302.21 108.5,301.74 109.33,300.52 110.17,300.15 111,300.11 111.84,299.37 112.67,299.97 113.51,301.48 114.34,300.37 115.17,299.31 116.01,299 116.84,299.14 117.68,297.52 118.51,298.15 119.35,299.02 120.18,300.09 121.01,300.74 121.85,300.82 122.68,301.58 123.52,301.91 124.35,301.49 125.19,300.51 126.02,300.19 126.85,298.87 127.69,298.91 128.52,299.88 129.36,300.94 130.19,301.77 131.03,303.27 131.86,302.68 132.69,302.27 133.53,302.49 134.36,302.47 135.2,300.8 136.03,300.81 136.87,300.41 137.7,299.21" fill="none" stroke="#a0a0a0" stroke-width="0.3" />
<polyline points="29,279.56 29.31,282.34 29.62,276.21 29.94,269.34 30.25,268.17 30.56,270.26 30.87,265.01 31.19,271.51 31.5,270.06 31.81,270.47 32.12,266.69 32.44,260.64 32.75,261.4 33.06,263.05 33.37,265.04 33.69,267.84 34,270.16 34.31,270.1 34.62,257.67 34.93,264.22 35.25,264.34 35.56,268.45 35.87,270.07 36.18,267.96 36.5,270.22 36.81,271.62 37.12,269.91 37.43,266.65 37.75,265.62 38.06,263.28 38.42,261.82 39.25,275.84 40.09,279.36 40.92,279.71 41.76,279.94 42.59,279.66 43.43,277.19 44.26,275.45 45.09,273.3 45.93,279.6 46.76,280.52 47.6,285.44 48.43,291.62 49.27,293.33 50.1,292.61 50.93,294.66 51.77,292.45 52.6,291.97 53.44,294.51 54.27,293.73 55.11,292.2 55.94,293.38 56.77,294.86 57.61,294.96 58.44,295.85 59.28,295.42 60.11,295.36 60.95,292.82 61.78,290.63 62.61,291.27 63.45,293.59 64.28,294.4 65.12,296.68 65.95,298.08 66.79,297.51 67.62,299.08 68.45,299.02 69.29,297.72 70.12,296.87 70.96,298.16 71.79,297.11 72.63,296.52 73.46,296.54 74.29,298.43 75.13,297.72 75.96,296.69 76.8,297.97 77.63,298.33 78.47,295.6 79.3,295.89 80.13,297.26 80.97,298.04 81.8,298.84 82.64,299.62 83.47,299.73 84.31,300.43 85.14,300.43 85.97,300.06 86.81,300.54 87.64,300.93 88.48,299.83 89.31,299.58 90.15,299.4 90.98,299.61 91.81,298.73 92.65,299.56 93.48,299.4 94.32,299.35 95.15,300.53 95.99,300.83 96.82,300.32 97.65,299.6 98.49,300 99.32,299.32 100.16,299.39 100.99,300.24 101.83,301.01 102.66,300.8 103.49,300.58 104.33,301.28 105.16,301.1 106,302.12 106.83,301.97 107.67,302.39 108.5,301.81 109.33,302.23 110.17,301.24 111,301.47 111.84,300.68 112.67,301.6 113.51,300.57 114.34,300.66 115.17,301.39 116.01,301.69 116.84,301.17 117.68,301.81 118.51,302.11 119.35,301.65 120.18,301.91 121.01,301.89 121.85,302.25 122.68,302.2 123.52,302.15 124.35,301.57 125.19,301.54 126.02,300.25 126.85,299.99 127.69,300.92 128.52,301.32 129.36,301.85 130.19,302.37 131.03,301.89 131.86,301.54 132.69,301.94 133.53,300.09 134.36,300.24 135.2,300.76 136.03,300.17 136.87,300.22 137.7,301.7" fill="none" stroke="#a0a0a0" stroke-width="0.3" />
<polyline points="29,270.42 29.31,283.54 29.62,280.98 29.94,276.76 30.25,274.77 30.56,271.12 30.87,268.69 31.19,264.22 31.5,265.03 31.81,274.4 32.12,251.51 32.44,261.93 32.75,266.39 33.06,261.19 33.37,254.03 33.69,260.12 34,256.35 34.31,260.33 34.62,259.87 34.93,270.01 35.25,268.49 35.56,266.49 35.87,265.09 36.18,258.59 36.5,260.89 36.81,267.46 37.12,262.98 37.43,269.24 37.75,272.63 38.06,279.16 38.42,270.25 39.25,280.18 40.09,281.12 40.92,281.52 41.76,283.55 42.59,286.25 43.43,286.3 44.26,288.59 45.09,287.57 45.93,287.45 46.76,285.07 47.6,284.5 48.43,282.67 49.27,285.45 50.1,290.2 50.93,292.6 51.77,292.68 52.6,291.22 53.44,294.18 54.27,293.33 55.11,294.2 55.94,297.22 56.77,298.84 57.61,296.8 58.44,296.89 59.28,296.89 60.11,297.7 60.95,298.97 61.78,299.92 62.61,299.04 63.45,300.45 64.28,299.64 65.12,298.44 65.95,297.92 66.79,298.22 67.62,297.56 68.45,297.18 69.29,297.28 70.12,295.07 70.96,295.22 71.79,292.75 72.63,293.36 73.46,294.4 74.29,295.85 75.13,296.03 75.96,296.09 76.8,295.51 77.63,293.55 78.47,292.72 79.3,294.29 80.13,293.9 80.97,294.24 81.8,295.87 82.64,298 83.47,296.8 84.31,299.1 85.14,299.91 85.97,300.69 86.81,300.49 87.64,300.4 88.48,299.26 89.31,298.54 90.15,298.46 90.98,299.89 91.81,300.25 92.65,300.64 93.48,300.68 94.32,299.47 95.15,298.41 95.99,298.89 96.82,300.52 97.65,300.44 98.49,301.31 99.32,301.64 100.16,301.36 100.99,300.7 101.83,301.35 102.66,300.24 103.49,299.33 104.33,299 105.16,297.74 106,296.84 106.83,298.29 107.67,297.15 108.5,298 109.33,298.06 110.17,298.75 111,299.18 111.84,301.97 112.67,302.86 113.51,302.53 114.34,301.75 115.17,301.83 116.01,300.56 116.84,298.99 117.68,300.66 118.51,300.54 119.35,300.93 120.18,301.35 121.01,302.99 121.85,301.88 122.68,302.72 123.52,301.47 124.35,301.66 125.19,299.94 126.02,300.85 126.85,300.82 127.69,300.6 128.52,298.52 129.36,297.8 130.19,298.22 131.03,297.76 131.86,298.37 132.69,299.61 133.53,300.18 134.36,299.68 135.2,300.82 136.03,301.47 136.87,300.94 137.7,301.82" fill="none" stroke="#a0a0a0" stroke-width="0.3" />
<polyline points="29,279.44 29.31,283.07 29.62,278.29 29.94,275.63 30.25,272.75 30.56,270.98 30.87,273.09 31.19,264.2 31.5,267.4 31.81,266.5 32.12,262.8 32.44,265.2 32.75,268.11 33.06,270.82 33.37,272.69 33.69,273.1 34,270.16 34.31,271.69 34.62,271.82 34.93,267.44 35.25,254.82 35.56,253.84 35.87,262.77 36.18,258.77 36.5,259.53 36.81,264.46 37.12,265.98 37.43,264.15 37.75,264.39 38.06,268.68 38.42,272.74 39.25,266.53 40.09,275.34 40.92,278.8 41.76,281.92 42.59,279.34 43.43,283.32 44.26,284.18 45.09,283.25 45.93,283.57 46.76,287.05 47.6,287.56 48.43,286.14 49.27,289.91 50.1,290.24 50.93,287.63 51.77,287.26 52.6,290.72 53.44,292.06 54.27,293.01 55.11,297.09 55.94,299.16 56.77,299.42 57.61,299.6 58.44,299.28 59.28,299.71 60.11,297.26 60.95,297.54 61.78,296.65 62.61,297.13 63.45,295.7 64.28,296.88 65.12,297.36 65.95,299.62 66.79,300.45 67.62,301.84 68.45,302.7 69.29,301.75 70.12,300.52 70.96,300.82 71.79,300.48 72.63,300.32 73.46,301.11 74.29,301.63 75.13,301.19 75.96,301.19 76.8,300.95 77.63,301.14 78.47,299.63 79.3,299.3 80.13,298.59 80.97,298.87 81.8,298.27 82.64,298.02 83.47,297.9 84.31,297.82 85.14,297.53 85.97,296.62 86.81,298.99 87.64,299.38 88.48,300.09 89.31,299.45 90.15,300.76 90.98,299.88 91.81,300.88 92.65,300.38 93.48,300.74 94.32,299.42 95.15,300.19 95.99,299.82 96.82,297.02 97.65,296.94 98.49,298.3 99.32,296.93 100.16,298.69 100.99,300.25 101.83,300.74 102.66,301.56 103.49,301.25 104.33,300.1 105.16,301.63 106,301.47 106.83,300.48 107.67,301.43 108.5,301.17 109.33,301.37 110.17,302.39 111,302.19 111.84,301.32 112.67,301.09 113.51,300.12 114.34,299.5 115.17,300.2 116.01,301.52 116.84,300.83 117.68,301.39 118.51,300.99 119.35,300.96 120.18,301.26 121.01,301.2 121.85,301.14 122.68,301.8 123.52,301.78 124.35,301.56 125.19,302.53 126.02,302.82 126.85,302.25 127.69,302.32 128.52,302.57 129.36,302.14 130.19,301.6 131.03,302.45 131.86,302.35 132.69,301.5 133.53,301.1 134.36,301.7 135.2,300.68 136.03,300.98 136.87,300.92 137.7,302.08" fill="none" stroke="#a0a0a0" stroke-width="0.3" />
<polyline points="29,276.24 29.31,284.5 29.62,280.39 29.94,275.25 30.25,280.77 30.56,277.7 30.87,272.58 31.19,283.03 31.5,278.44 31.81,270.49 32.12,277.96 32.44,275.01 32.75,268.12 33.06,270.53 33.37,271.04 33.69,268.36 34,271.04 34.31,266.7 34.62,266.03 34.93,255 35.25,263.85 35.56,271.31 35.87,268.34 36.18,267.92 36.5,274.43 36.81,271.59 37.12,258.19 37.43,273.24 37.75,273.56 38.06,269.49 38.42,268.92 39.25,278.57 40.09,283.19 40.92,278.55 41.76,278.79 42.59,281.88 43.43,283.05 44.26,287.45 45.09,293.26 45.93,294.98 46.76,293.73 47.6,296.1 48.43,294.49 49.27,290.7 50.1,289.99 50.93,291.9 51.77,287.5 52.6,287.2 53.44,291.16 54.27,291.63 55.11,291.53 55.94,294.87 56.77,293.29 57.61,295.53 58.44,297.3 59.28,295.33 60.11,295.05 60.95,296.32 61.78,295.84 62.61,295.74 63.45,299.48 64.28,299.6 65.12,299.8 65.95,297.72 66.79,296.82 67.62,294.63 68.45,295.03 69.29,294.37 70.12,295.87 70.96,295.38 71.79,297.45 72.63,297.24 73.46,297.38 74.29,297.81 75.13,298.79 75.96,299.02 76.8,298.97 77.63,299.61 78.47,299.58 79.3,300.05 80.13,299.88 80.97,299.58 81.8,300.61 82.64,300.53 83.47,300.24 84.31,300.17 85.14,301.8 85.97,302.08 86.81,303.01 87.64,303.28 88.48,303.69 89.31,302.58 90.15,301.8 90.98,301.44 91.81,302.21 92.65,300.95 93.48,301.35 94.32,301.14 95.15,301.39 95.99,300.27 96.82,300.73 97.65,300.47 98.49,300.29 99.32,300.03 100.16,298.75 100.99,300.48 101.83,300.97 102.66,301 103.49,301.08 104.33,302.35 105.16,302.33 106,301.5 106.83,302.9 107.67,302.6 108.5,302.34 109.33,301.03 110.17,300.92 111,300.27 111.84,301.08 112.67,301.4 113.51,302.69 114.34,303 115.17,302.91 116.01,302.51 116.84,302.91 117.68,302.16 118.51,302.86 119.35,302.75 120.18,303.31 121.01,302.42 121.85,302.76 122.68,303.58 123.52,303.33 124.35,303.04 125.19,303.82 126.02,302.58 126.85,301.39 127.69,302.42 128.52,302.6 129.36,302.05 130.19,303.29 131.03,302.79 131.86,301.69 132.69,301.82 133.53,302.03 134.36,301.64 135.2,302.48 136.03,303.18 136.87,302.49 137.7,302.34" fill="none" stroke="#a0a0a0" stroke-width="0.3" />
<polyline points="29,261.21 29.31,286.54 29.62,282.3 29.94,281.42 30.25,277.59 30.56,261.86 30.87,258.64 31.19,257.18 31.5,260.76 31.81,260.26 32.12,264.32 32.44,259.96 32.75,260.83 33.06,250.65 33.37,254.47 33.69,264.02 34,259.54 34.31,264.33 34.62,262.13 34.93,270.71 35.25,265.24 35.56,259.27 35.87,266.91 36.18,265.51 36.5,263.99 36.81,273.58 37.12,268.25 37.43,271.59 37.75,273.55 38.06,270.74 38.42,272.74 39.25,275.63 40.09,279.8 40.92,279.7 41.76,280.14 42.59,281.98 43.43,287.36 44.26,287.6 45.09,291.99 45.93,292.62 46.76,290.05 47.6,290.41 48.43,290.74 49.27,288.74 50.1,289.02 50.93,291.96 51.77,290.71 52.6,291.62 53.44,289.5 54.27,289.74 55.11,288.47 55.94,291 56.77,291.6 57.61,295.18 58.44,296.38 59.28,296.91 60.11,294.79 60.95,294.82 61.78,294.11 62.61,294.42 63.45,293.4 64.28,295.88 65.12,296.71 65.95,295.73 66.79,296.13 67.62,296.91 68.45,295.29 69.29,293.23 70.12,293.73 70.96,295.49 71.79,296.43 72.63,297.08 73.46,298.2 74.29,298.84 75.13,296.06 75.96,295.1 76.8,296.52 77.63,297.78 78.47,299.6 79.3,299.75 80.13,300.56 80.97,299.98 81.8,300.61 82.64,299.66 83.47,300.53 84.31,300.75 85.14,300.95 85.97,300.45 86.81,298.94 87.64,299.67 88.48,300.39 89.31,300.52 90.15,300.41 90.98,301.63 91.81,301.52 92.65,301.39 93.48,301.27 94.32,300.91 95.15,301.67 95.99,300.47 96.82,298.66 97.65,299.82 98.49,300.34 99.32,298.79 100.16,299.28 100.99,299.27 101.83,299.34 102.66,299.87 103.49,300.84 104.33,301.32 105.16,302.76 106,301.7 106.83,300.88 107.67,300.18 108.5,301.28 109.33,300.59 110.17,300.83 111,301.35 111.84,301.06 112.67,300.51 113.51,299.76 114.34,300.22 115.17,298.83 116.01,298.62 116.84,299.04 117.68,299.82 118.51,299.25 119.35,300.96 120.18,301.47 121.01,300.71 121.85,301.42 122.68,301.56 123.52,300.54 124.35,301.12 125.19,301.85 126.02,300.5 126.85,301.16 127.69,301.49 128.52,300.81 129.36,299.93 130.19,301.94 131.03,301.64 131.86,301.91 132.69,302.58 133.53,302.68 134.36,301.55 135.2,301.34 136.03,301.15 136.87,300.48 137.7,300.14" fill="none" stroke="#a0a0a0" stroke-width="0.3" />
<polyline points="29,288.56 29.31,288.34 29.62,281.34 29.94,280 30.25,273.92 30.56,281.85 30.87,268.64 31.19,260.83 31.5,258.27 31.81,267.85 32.12,245.88 32.44,259.01 32.75,259.2 33.06,267.46 33.37,266.61 33.69,273.92 34,263.84 34.31,261.24 34.62,268.35 34.93,265.96 35.25,267.7 35.56,262.47 35.87,264.11 36.18,278.59 36.5,268.57 36.81,267.66 37.12,272.62 37.43,270.68 37.75,269.86 38.06,275 38.42,262.37 39.25,268.29 40.09,273.67 40.92,274.38 41.76,277.69 42.59,283.57 43.43,281.2 44.26,280.52 45.09,284.82 45.93,282.43 46.76,283.12 47.6,287.13 48.43,289.84 49.27,290.6 50.1,294.79 50.93,296.61 51.77,297.59 52.6,296.47 53.44,295.64 54.27,294.9 55.11,294.8 55.94,295.22 56.77,297.37 57.61,298.77 58.44,297.96 59.28,297.38 60.11,295.93 60.95,295 61.78,297.74 62.61,297.65 63.45,297.07 64.28,297.01 65.12,296.03 65.95,291.46 66.79,289.07 67.62,291.03 68.45,290.38 69.29,290.86 70.12,291.69 70.96,295.38 71.79,296.17 72.63,298.81 73.46,299.04 74.29,299.72 75.13,300.44 75.96,300.73 76.8,300.8 77.63,300.21 78.47,300.2 79.3,299.37 80.13,299.72 80.97,299.66 81.8,300.06 82.64,300.09 83.47,300.05 84.31,297.9 85.14,295.17 85.97,295.58 86.81,294.93 87.64,294.97 88.48,297 89.31,297.11 90.15,298.68 90.98,299.14 91.81,300.6 92.65,301.21 93.48,302.11 94.32,301.25 95.15,301.05 95.99,300.11 96.82,299.79 97.65,300.43 98.49,300.97 99.32,300.56 100.16,299.45 100.99,298.67 101.83,298.72 102.66,299.17 103.49,299.75 104.33,300.86 105.16,302.12 106,301.14 106.83,300.63 107.67,301.04 108.5,301.44 109.33,300.94 110.17,301.25 111,301.79 111.84,301.61 112.67,300.8 113.51,299.07 114.34,299.33 115.17,298.73 116.01,299.17 116.84,299.06 117.68,299.69 118.51,300.4 119.35,300.06 120.18,299.91 121.01,301.44 121.85,302.5 122.68,301.93 123.52,301.52 124.35,301.1 125.19,300.3 126.02,300.16 126.85,300.38 127.69,301.09 128.52,302.34 129.36,301.95 130.19,301.99 131.03,301.96 131.86,301.89 132.69,300.62 133.53,300.42 134.36,299.55 135.2,300.7 136.03,301.63 136.87,301.5 137.7,301.86" fill="none" stroke="#a0a0a0" stroke-width="0.3" />
<polyline points="29,271.68 29.31,287.2 29.62,279.64 29.94,268.2 30.25,262.98 30.56,259.04 30.87,263.53 31.19,264.15 31.5,270.17 31.81,265.39 32.12,263.55 32.44,267.54 32.75,262.35 33.06,265.17 33.37,259.68 33.69,261.92 34,271.3 34.31,270.51 34.62,266.81 34.93,258.93 35.25,269.17 35.56,270.43 35.87,272.4 36.18,266.91 36.5,269.25 36.81,272.78 37.12,275.07 37.43,271.34 37.75,266.36 38.06,279.32 38.42,270.72 39.25,269.79 40.09,273.01 40.92,274.83 41.76,271.62 42.59,277.73 43.43,282.82 44.26,285.87 45.09,286.57 45.93,288.54 46.76,287.82 47.6,289.95 48.43,290.4 49.27,292.44 50.1,293.57 50.93,294.59 51.77,292.81 52.6,294.54 53.44,293.04 54.27,293.22 55.11,293.03 55.94,291.89 56.77,291.9 57.61,294.72 58.44,294.92 59.28,295.4 60.11,296.7 60.95,297.78 61.78,298.57 62.61,299.64 63.45,301.1 64.28,301.07 65.12,300.39 65.95,298.55 66.79,298 67.62,295.58 68.45,296.49 69.29,296.2 70.12,297.64 70.96,297.17 71.79,297.77 72.63,297.08 73.46,296.38 74.29,297.13 75.13,297.17 75.96,296.68 76.8,297.18 77.63,298.36 78.47,298.12 79.3,298.89 80.13,299.98 80.97,299.27 81.8,298.87 82.64,298.77 83.47,299 84.31,299.91 85.14,299.29 85.97,299.95 86.81,299.91 87.64,299.75 88.48,298.9 89.31,300.76 90.15,300.46 90.98,299.65 91.81,299.86 92.65,299.67 93.48,299.48 94.32,299.11 95.15,300.54 95.99,299.87 96.82,300.84 97.65,301.83 98.49,302.83 99.32,302.99 100.16,303.64 100.99,303.42 101.83,302.17 102.66,302.13 103.49,301.45 104.33,300.79 105.16,301.06 106,302.16 106.83,301.4 107.67,301.43 108.5,301.73 109.33,301.48 110.17,301.02 111,301.98 111.84,302.2 112.67,301.91 113.51,300.93 114.34,301.66 115.17,301.47 116.01,301.52 116.84,302.01 117.68,303.04 118.51,302.5 119.35,302.27 120.18,302.36 121.01,301.9 121.85,302.52 122.68,302.29 123.52,303.19 124.35,302.47 125.19,302.27 126.02,301.81 126.85,301.62 127.69,300.49 128.52,301.26 129.36,301.39 130.19,300.9 131.03,301.5 131.86,301.13 132.69,301.5 133.53,302.12 134.36,302.75 135.2,303.53 136.03,303.18 136.87,302.8 137.7,303.27" fill="none" stroke="#a0a0a0" stroke-width="0.3" />
<polyline points="29,263.29 29.31,291.25 29.62,286.35 29.94,281.26 30.25,277.7 30.56,271.82 30.87,280.29 31.19,282.87 31.5,284.93 31.81,281.05 32.12,275.78 32.44,265.08 32.75,278.09 33.06,276.74 33.37,275.5 33.69,280.49 34,276.15 34.31,277.75 34.62,276.99 34.93,273.16 35.25,277.56 35.56,281.12 35.87,272.92 36.18,277.28 36.5,277.2 36.81,275.9 37.12,271.63 37.43,278.27 37.75,276.06 38.06,278.87 38.42,281.86 39.25,280.84 40.09,283.77 40.92,284.91 41.76,285.04 42.59,286.77 43.43,286.96 44.26,288.4 45.09,288.56 45.93,289.17 46.76,290.22 47.6,291.01 48.43,292.01 49.27,295.5 50.1,296.13 50.93,298.58 51.77,298.74 52.6,298.92 53.44,297.71 54.27,297.67 55.11,296.25 55.94,298.55 56.77,298.24 57.61,297.42 58.44,298.21 59.28,296.97 60.11,296.5 60.95,298.92 61.78,299.2 62.61,300.49 63.45,301.65 64.28,300.59 65.12,298.1 65.95,299.95 66.79,299.42 67.62,299.84 68.45,300.59 69.29,301.89 70.12,300.56 70.96,299.78 71.79,299.9 72.63,301.06 73.46,299.37 74.29,301.29 75.13,302.06 75.96,301.58 76.8,300.99 77.63,302.53 78.47,302.28 79.3,302.32 80.13,302.51 80.97,303.25 81.8,302.06 82.64,301.23 83.47,300.45 84.31,300.7 85.14,300.01 85.97,300.41 86.81,300.88 87.64,300.93 88.48,300.63 89.31,301.01 90.15,300.96 90.98,301.08 91.81,301.66 92.65,302 93.48,301.14 94.32,300.9 95.15,301.72 95.99,301.19 96.82,301.59 97.65,302.58 98.49,303.39 99.32,302.86 100.16,303.24 100.99,303.18 101.83,302.98 102.66,303.37 103.49,303.78 104.33,304.02 105.16,304.34 106,304.24 106.83,304.23 107.67,303.85 108.5,303.43 109.33,302.69 110.17,302.97 111,302.02 111.84,302.04 112.67,301.99 113.51,302 114.34,302.72 115.17,303.04 116.01,302.38 116.84,302.48 117.68,302.95 118.51,301.39 119.35,301.58 120.18,301.76 121.01,302.95 121.85,302.83 122.68,303.82 123.52,303.75 124.35,303.79 125.19,302.94 126.02,303.11 126.85,304.03 127.69,303.91 128.52,303.89 129.36,303.81 130.19,303.93 131.03,302.69 131.86,302.61 132.69,302.95 133.53,302.11 134.36,302.19 135.2,303 136.03,303.26 136.87,303.04 137.7,304.04" fill="none" stroke="#a0a0a0" stroke-width="0.3" />
<polyline points="29,261.78 29.31,287.29 29.62,281.87 29.94,273.12 30.25,268.93 30.56,258.91 30.87,259.88 31.19,262.91 31.5,261.04 31.81,264.75 32.12,264.64 32.44,269.17 32.75,269.33 33.06,273.88 33.37,273.57 33.69,252.45 34,261.06 34.31,275.14 34.62,265.76 34.93,274.56 35.25,280.82 35.56,275.47 35.87,274.56 36.18,271.27 36.5,270.87 36.81,278.14 37.12,273.09 37.43,275.02 37.75,276.95 38.06,282.63 38.42,286.49 39.25,287.37 40.09,282.48 40.92,284.36 41.76,284.18 42.59,278.29 43.43,279.72 44.26,283.53 45.09,282.07 45.93,282 46.76,286.49 47.6,288.41 48.43,289.87 49.27,291.01 50.1,292.15 50.93,292.93 51.77,294.9 52.6,294.34 53.44,294.4 54.27,294.04 55.11,294.96 55.94,293.97 56.77,295.91 57.61,298.23 58.44,299.03 59.28,297.86 60.11,298.06 60.95,296.97 61.78,294.59 62.61,293.64 63.45,295.33 64.28,295.51 65.12,296.64 65.95,297.82 66.79,298.28 67.62,298.23 68.45,300.21 69.29,300.28 70.12,300.86 70.96,301.34 71.79,301.57 72.63,301.37 73.46,302.25 74.29,301.43 75.13,300.97 75.96,300.54 76.8,299.91 77.63,297.41 78.47,297.45 79.3,298.09 80.13,297.78 80.97,297.84 81.8,298.8 82.64,299.11 83.47,298.78 84.31,299.34 85.14,299.63 85.97,299.79 86.81,299.27 87.64,300.23 88.48,300.62 89.31,301.01 90.15,300.83 90.98,301.59 91.81,300.64 92.65,300.82 93.48,299.7 94.32,300.62 95.15,300.79 95.99,301.03 96.82,300.84 97.65,301.63 98.49,300.88 99.32,300.69 100.16,300.32 100.99,298.43 101.83,298.45 102.66,299.35 103.49,300.31 104.33,301.69 105.16,302.63 106,302.27 106.83,302.01 107.67,301.02 108.5,300.87 109.33,302.09 110.17,301.74 111,301.79 111.84,301.49 112.67,301.09 113.51,299.69 114.34,300.7 115.17,300.89 116.01,301.62 116.84,301.45 117.68,301.15 118.51,300.53 119.35,302.1 120.18,302.1 121.01,302.31 121.85,302.61 122.68,302.87 123.52,301.9 124.35,302.26 125.19,302.45 126.02,303.14 126.85,302.63 127.69,302.06 128.52,301.69 129.36,301.04 130.19,299.36 131.03,300.43 131.86,300.84 132.69,301.08 133.53,302.23 134.36,303.45 135.2,303.76 136.03,303.6 136.87,303.34 137.7,302.49" fill="none" stroke="#a0a0a0" stroke-width="0.3" />
<polyline points="29,273.61 29.31,288.63 29.62,285.03 29.94,279.64 30.25,274.89 30.56,272.03 30.87,270.18 31.19,256.82 31.5,261.33 31.81,258.89 32.12,262.07 32.44,266.52 32.75,277.03 33.06,270.21 33.37,259.1 33.69,270.46 34,270.86 34.31,269.97 34.62,264.91 34.93,276.88 35.25,261.57 35.56,266.41 35.87,265.19 36.18,273.62 36.5,263.85 36.81,271.03 37.12,264.19 37.43,267.7 37.75,271.02 38.06,261.6 38.42,251.87 39.25,264.22 40.09,269.65 40.92,270.66 41.76,276.25 42.59,283.07 43.43,283.43 44.26,286.14 45.09,289.69 45.93,295.09 46.76,294.9 47.6,293.48 48.43,292.11 49.27,291.13 50.1,286.12 50.93,288.39 51.77,291.06 52.6,292.52 53.44,294.03 54.27,294.4 55.11,294.61 55.94,295.4 56.77,295.14 57.61,294.24 58.44,294.74 59.28,293.49 60.11,293.81 60.95,297.22 61.78,299.88 62.61,300.33 63.45,301.74 64.28,301.67 65.12,301.26 65.95,300.45 66.79,300.85 67.62,300.77 68.45,301.64 69.29,300.99 70.12,300.77 70.96,300.79 71.79,300.2 72.63,299.42 73.46,299.59 74.29,300.11 75.13,300.23 75.96,300.65 76.8,301.26 77.63,301.15 78.47,299.17 79.3,297.94 80.13,297.59 80.97,296.74 81.8,296.35 82.64,297.55 83.47,297.36 84.31,298.15 85.14,296.93 85.97,298.09 86.81,298.95 87.64,300.41 88.48,300.86 89.31,302.83 90.15,301.55 90.98,300.84 91.81,300.95 92.65,300.66 93.48,298.63 94.32,300.53 95.15,301.14 95.99,299.39 96.82,298.13 97.65,298.17 98.49,297.32 99.32,298.95 100.16,300.76 100.99,302.11 101.83,302.67 102.66,303.33 103.49,302.61 104.33,302.51 105.16,302.04 106,301.99 106.83,301.62 107.67,302.12 108.5,301.42 109.33,301.12 110.17,302.16 111,301.38 111.84,301.72 112.67,302.13 113.51,301.89 114.34,301.32 115.17,302.35 116.01,301.87 116.84,302.19 117.68,302.95 118.51,302.5 119.35,302.43 120.18,302.65 121.01,301.89 121.85,301.75 122.68,302.88 123.52,302.69 124.35,302.4 125.19,303.01 126.02,301.77 126.85,301.32 127.69,300.58 128.52,300.11 129.36,299.25 130.19,300.64 131.03,300.55 131.86,301.43 132.69,301.76 133.53,302.03 134.36,301.18 135.2,301.96 136.03,301.36 136.87,301.36 137.7,301.87" fill="none" stroke="#a0a0a0" stroke-width="0.3" />
<polyline points="29,253.3 29.31,285.12 29.62,280.67 29.94,280.18 30.25,279.21 30.56,278.2 30.87,280.22 31.19,278.74 31.5,276.42 31.81,277.01 32.12,268.87 32.44,265.96 32.75,273.13 33.06,270.97 33.37,256.68 33.69,268.34 34,253.18 34.31,256.73 34.62,267.43 34.93,264.3 35.25,262.61 35.56,268.65 35.87,266.64 36.18,262.24 36.5,256.96 36.81,263.2 37.12,260.13 37.43,266.47 37.75,272.29 38.06,274.89 38.42,267.75 39.25,273.25 40.09,276.08 40.92,279.61 41.76,279.39 42.59,281.97 43.43,279.52 44.26,278.87 45.09,275.28 45.93,275.33 46.76,277.61 47.6,283.4 48.43,286.66 49.27,291.9 50.1,297.39 50.93,295.27 51.77,293.8 52.6,293.19 53.44,292.32 54.27,287.45 55.11,290.01 55.94,291.05 56.77,290.23 57.61,292.6 58.44,293.81 59.28,296.25 60.11,295.12 60.95,297.62 61.78,297.93 62.61,300.07 63.45,299.25 64.28,299.09 65.12,298.72 65.95,299.22 66.79,299.6 67.62,297.19 68.45,299.59 69.29,301.15 70.12,300.09 70.96,298.01 71.79,299.12 72.63,298.86 73.46,298.26 74.29,298.08 75.13,299.13 75.96,299.97 76.8,299.77 77.63,298.66 78.47,299.65 79.3,299.6 80.13,299.69 80.97,299.54 81.8,301.07 82.64,301.16 83.47,300.72 84.31,301.13 85.14,300.11 85.97,298.69 86.81,297.15 87.64,297.41 88.48,297.08 89.31,298.79 90.15,298.59 90.98,299.72 91.81,298.63 92.65,299.25 93.48,298.67 94.32,299.27 95.15,299.34 95.99,299.38 96.82,298.2 97.65,299.1 98.49,299.83 99.32,299.08 100.16,300.64 100.99,300.93 101.83,301.36 102.66,300.92 103.49,301.86 104.33,301.58 105.16,301.02 106,299.45 106.83,299.87 107.67,299.53 108.5,300.5 109.33,301.31 110.17,301.67 111,301.9 111.84,302.24 112.67,301.25 113.51,301.74 114.34,302.24 115.17,301.04 116.01,300.27 116.84,300.12 117.68,298.51 118.51,298.52 119.35,299.18 120.18,299.49 121.01,300.44 121.85,300.65 122.68,301.59 123.52,301.94 124.35,302.55 125.19,302.62 126.02,303.83 126.85,303.43 127.69,303.31 128.52,302.27 129.36,302.78 130.19,302.12 131.03,302.23 131.86,302.76 132.69,303.39 133.53,302.54 134.36,302.72 135.2,302.58 136.03,301.22 136.87,301.15 137.7,301.11" fill="none" stroke="#a0a0a0" stroke-width="0.3" />
<polyline points="29,256.82 29.31,286.83 29.62,282.88 29.94,281.95 30.25,274.69 30.56,275.72 30.87,265.21 31.19,268.52 31.5,277.76 31.81,260.98 32.12,276.39 32.44,268.35 32.75,263.04 33.06,268.32 33.37,258.05 33.69,263.17 34,264.44 34.31,252.53 34.62,256.31 34.93,263.07 35.25,258.94 35.56,261.64 35.87,269.29 36.18,266.47 36.5,252.04 36.81,252.44 37.12,274.64 37.43,266.16 37.75,268.09 38.06,272.98 38.42,275.18 39.25,274.85 40.09,281.58 40.92,288.09 41.76,292.19 42.59,289.51 43.43,289.82 44.26,293.55 45.09,292.64 45.93,291.53 46.76,294.75 47.6,297.35 48.43,296.18 49.27,295.15 50.1,297.3 50.93,296.58 51.77,297.41 52.6,296.7 53.44,297.25 54.27,295.09 55.11,294.86 55.94,292.04 56.77,294.65 57.61,295.24 58.44,295.83 59.28,296.29 60.11,300.32 60.95,299.09 61.78,299.5 62.61,298.35 63.45,298.76 64.28,295.88 65.12,297.41 65.95,296.5 66.79,301.01 67.62,301.73 68.45,302.47 69.29,302.93 70.12,302.86 70.96,301.3 71.79,299.45 72.63,300.26 73.46,299.72 74.29,300.01 75.13,300.36 75.96,300.87 76.8,299.65 77.63,299.64 78.47,300.01 79.3,299.37 80.13,299.79 80.97,300.36 81.8,300.23 82.64,300.47 83.47,300.24 84.31,299.09 85.14,299.93 85.97,300.29 86.81,300.29 87.64,300.04 88.48,301.72 89.31,299.58 90.15,297.2 90.98,298.93 91.81,299.5 92.65,298.52 93.48,300.38 94.32,302.58 95.15,301.29 95.99,301.88 96.82,301.61 97.65,301.11 98.49,300.62 99.32,299.6 100.16,298.06 100.99,297.85 101.83,298.28 102.66,296.83 103.49,298.34 104.33,300 105.16,301.93 106,301.85 106.83,303.2 107.67,302.98 108.5,303.34 109.33,302.47 110.17,302.75 111,302.41 111.84,303.2 112.67,302.9 113.51,302.36 114.34,302.07 115.17,301.67 116.01,300.69 116.84,301.08 117.68,302.63 118.51,303.22 119.35,302.7 120.18,303.22 121.01,302.71 121.85,301.99 122.68,301.8 123.52,301.74 124.35,301.26 125.19,301.82 126.02,302.42 126.85,302.29 127.69,303.28 128.52,303.61 129.36,303 130.19,302.56 131.03,302.49 131.86,302.34 132.69,302.74 133.53,303.52 134.36,303.04 135.2,303.47 136.03,303.27 136.87,302.92 137.7,302.3" fill="none" stroke="#a0a0a0" stroke-width="0.3" />
<polyline points="29,289.36 29.31,290.58 29.62,287.63 29.94,284.46 30.25,277.53 30.56,275.02 30.87,268.1 31.19,266.83 31.5,269.14 31.81,266.36 32.12,267.3 32.44,264.43 32.75,272.91 33.06,273.57 33.37,274.41 33.69,280.05 34,274.05 34.31,278.44 34.62,275.86 34.93,274.87 35.25,260.63 35.56,270.99 35.87,256.89 36.18,273.63 36.5,266.34 36.81,256.87 37.12,264.17 37.43,267.04 37.75,275.26 38.06,277.2 38.42,278.12 39.25,278.62 40.09,279.91 40.92,278.08 41.76,280.42 42.59,279.23 43.43,285.32 44.26,287.71 45.09,287.87 45.93,289.01 46.76,288.3 47.6,287.69 48.43,285.74 49.27,288.02 50.1,286.52 50.93,289.23 51.77,292.03 52.6,293.6 53.44,294.99 54.27,296.69 55.11,295.13 55.94,293.16 56.77,292.7 57.61,293.69 58.44,293.52 59.28,295.07 60.11,295.64 60.95,296.55 61.78,296.45 62.61,297.11 63.45,298.2 64.28,299.76 65.12,299.78 65.95,299.67 66.79,299.18 67.62,298.66 68.45,299.1 69.29,298.34 70.12,296.98 70.96,298.92 71.79,299.56 72.63,297.79 73.46,298.87 74.29,301.03 75.13,299.73 75.96,299.32 76.8,299.79 77.63,299.19 78.47,298.67 79.3,299.97 80.13,299.65 80.97,299.3 81.8,300.03 82.64,298.88 83.47,298.09 84.31,297.81 85.14,299.13 85.97,299.39 86.81,299.5 87.64,300.35 88.48,301.45 89.31,300.98 90.15,301.05 90.98,302.12 91.81,302.52 92.65,301.51 93.48,301.59 94.32,300.71 95.15,300.72 95.99,299.72 96.82,300.69 97.65,300.71 98.49,302.3 99.32,301.28 100.16,301.51 100.99,301.35 101.83,301.95 102.66,300.3 103.49,301.84 104.33,300.72 105.16,301.11 106,300.8 106.83,302.01 107.67,300.49 108.5,302 109.33,302.27 110.17,302.58 111,302.07 111.84,302.51 112.67,302.48 113.51,301.86 114.34,300.57 115.17,300.49 116.01,300.62 116.84,300.84 117.68,300.27 118.51,300.82 119.35,301.97 120.18,302.54 121.01,303.31 121.85,303.74 122.68,304.43 123.52,304.08 124.35,303.32 125.19,302.81 126.02,302.7 126.85,302.32 127.69,302.73 128.52,302.82 129.36,302.02 130.19,302.78 131.03,302.45 131.86,302.27 132.69,303.24 133.53,303.58 134.36,302.95 135.2,303.81 136.03,304.1 136.87,303.49 137.7,303.91" fill="none" stroke="#a0a0a0" stroke-width="0.3" />
<polyline points="29,270.77 29.31,284.31 29.62,281.84 29.94,277.77 30.25,270.54 30.56,271.93 30.87,265.94 31.19,268.1 31.5,267.25 31.81,259.58 32.12,249.63 32.44,255.55 32.75,263.99 33.06,261.8 33.37,267.7 33.69,264.04 34,259.36 34.31,266.27 34.62,254.87 34.93,258.45 35.25,253.61 35.56,263.71 35.87,259.5 36.18,265.79 36.5,256.51 36.81,265.39 37.12,258.64 37.43,258.08 37.75,262.51 38.06,259.77 38.42,265.78 39.25,271.99 40.09,275.61 40.92,277.2 41.76,270.43 42.59,271.66 43.43,274.83 44.26,276.96 45.09,280.67 45.93,285.49 46.76,286.18 47.6,284.08 48.43,286.64 49.27,286.89 50.1,286.42 50.93,286.92 51.77,287.57 52.6,288.35 53.44,288.07 54.27,290.37 55.11,292.08 55.94,293.53 56.77,293.65 57.61,295.23 58.44,296.06 59.28,293.78 60.11,292.77 60.95,292.05 61.78,291.6 62.61,291.37 63.45,292.93 64.28,294.64 65.12,295.55 65.95,297.06 66.79,296.03 67.62,295.92 68.45,294.76 69.29,293.65 70.12,295.65 70.96,296.83 71.79,297.04 72.63,297.64 73.46,299.87 74.29,297.81 75.13,297.41 75.96,298.62 76.8,299.77 77.63,299.19 78.47,301.19 79.3,301.45 80.13,301.65 80.97,301.27 81.8,301.09 82.64,299.43 83.47,298.59 84.31,298.65 85.14,298.65 85.97,299.99 86.81,300.39 87.64,302.26 88.48,301.52 89.31,301.46 90.15,300.69 90.98,299.81 91.81,299.28 92.65,299.93 93.48,300.45 94.32,300.68 95.15,301.32 95.99,301.13 96.82,301.15 97.65,301.33 98.49,301.69 99.32,300.88 100.16,300.35 100.99,300.52 101.83,299.76 102.66,299.44 103.49,300.09 104.33,301.17 105.16,300.75 106,300.69 106.83,300.18 107.67,300.01 108.5,299.16 109.33,298.36 110.17,298.21 111,299.27 111.84,300.38 112.67,299.35 113.51,300.75 114.34,300.94 115.17,300.42 116.01,298.86 116.84,299.28 117.68,298.38 118.51,298.96 119.35,298.83 120.18,298.96 121.01,300.07 121.85,301.73 122.68,300.71 123.52,300 124.35,301.54 125.19,301.14 126.02,299.57 126.85,300.43 127.69,300.07 128.52,298.42 129.36,299.2 130.19,299.73 131.03,299.32 131.86,299.82 132.69,300.81 133.53,299.71 134.36,300.18 135.2,300.29 136.03,301.81 136.87,301.44 137.7,300.99" fill="none" stroke="#a0a0a0" stroke-width="0.3" />
<polyline points="29,278.82 29.31,284.33 29.62,281.65 29.94,279.64 30.25,277.5 30.56,273.53 30.87,273.15 31.19,282.39 31.5,271.64 31.81,274.52 32.12,276.17 32.44,268.56 32.75,271.18 33.06,265.79 33.37,271.98 33.69,265.4 34,266.63 34.31,263.77 34.62,271.02 34.93,262.95 35.25,273.56 35.56,268.46 35.87,269.91 36.18,261.94 36.5,261.48 36.81,267.28 37.12,267.46 37.43,263 37.75,267.73 38.06,274.49 38.42,275.71 39.25,277.41 40.09,283.64 40.92,287.98 41.76,289.14 42.59,284.5 43.43,282.91 44.26,280.16 45.09,279.77 45.93,278.99 46.76,282.16 47.6,284.25 48.43,285.9 49.27,287.59 50.1,291.36 50.93,291.11 51.77,292.31 52.6,292.59 53.44,291.7 54.27,292.58 55.11,294.14 55.94,295.48 56.77,295.39 57.61,296.79 58.44,296.01 59.28,297.16 60.11,297.23 60.95,298.13 61.78,297.85 62.61,297.59 63.45,297.53 64.28,296.83 65.12,297.58 65.95,299.12 66.79,301.47 67.62,302.32 68.45,302.42 69.29,301.99 70.12,300.41 70.96,300.14 71.79,299.89 72.63,300.41 73.46,301.15 74.29,302.69 75.13,302.59 75.96,302.1 76.8,302.81 77.63,301.99 78.47,300.36 79.3,299.99 80.13,300.43 80.97,299.45 81.8,300.03 82.64,299.71 83.47,298.87 84.31,298.39 85.14,298.14 85.97,298.28 86.81,299.16 87.64,300.72 88.48,301.77 89.31,301.89 90.15,302.71 90.98,302.85 91.81,302.37 92.65,302.08 93.48,302.22 94.32,301.7 95.15,300.61 95.99,301.64 96.82,301.97 97.65,302.77 98.49,302.36 99.32,302.93 100.16,301.17 100.99,301.22 101.83,299.83 102.66,300.63 103.49,301.22 104.33,301.86 105.16,302.26 106,302.68 106.83,302.6 107.67,302.44 108.5,302.4 109.33,302.43 110.17,302.44 111,302.81 111.84,303.9 112.67,304.57 113.51,304.34 114.34,304.71 115.17,304.65 116.01,303.42 116.84,302.95 117.68,302.19 118.51,300.85 119.35,300.12 120.18,299.31 121.01,299.11 121.85,299.76 122.68,301.12 123.52,301.42 124.35,302.53 125.19,302.72 126.02,302.7 126.85,302.2 127.69,302.7 128.52,303.23 129.36,303.46 130.19,303.79 131.03,304.41 131.86,304.01 132.69,304.07 133.53,303.6 134.36,303.74 135.2,303.16 136.03,303.93 136.87,303.7 137.7,303.74" fill="none" stroke="#a0a0a0" stroke-width="0.3" />
<polyline points="29,280.41 29.31,282.6 29.62,275.96 29.94,268.19 30.25,263.32 30.56,257.96 30.87,263.58 31.19,270.95 31.5,264.05 31.81,264.98 32.12,262.23 32.44,254.12 32.75,260.1 33.06,261.71 33.37,264.73 33.69,259.13 34,268.79 34.31,266.3 34.62,258.78 34.93,272.36 35.25,261.64 35.56,259.77 35.87,268.05 36.18,272.71 36.5,268.23 36.81,273.08 37.12,269.08 37.43,264.13 37.75,263.28 38.06,275.02 38.42,268.2 39.25,272.63 40.09,275.9 40.92,282.94 41.76,286.77 42.59,285.34 43.43,284.27 44.26,284.55 45.09,280.88 45.93,286.81 46.76,289.15 47.6,290.18 48.43,289.64 49.27,289.82 50.1,286.22 50.93,285.45 51.77,289.62 52.6,292.52 53.44,292.58 54.27,294.84 55.11,296.01 55.94,293.05 56.77,293.78 57.61,294.72 58.44,292.53 59.28,292.85 60.11,295.13 60.95,294.28 61.78,295.25 62.61,298.38 63.45,298.09 64.28,297.66 65.12,299.49 65.95,298.4 66.79,298.34 67.62,299.03 68.45,298.87 69.29,297.53 70.12,299.75 70.96,300.79 71.79,301.24 72.63,301.42 73.46,302.11 74.29,301.22 75.13,299 75.96,299.35 76.8,296.47 77.63,295.06 78.47,295.86 79.3,296.67 80.13,296.05 80.97,298.31 81.8,299.5 82.64,298.2 83.47,299.34 84.31,298.98 85.14,298.88 85.97,297.88 86.81,297.39 87.64,296.78 88.48,296.31 89.31,298.14 90.15,298.49 90.98,299.47 91.81,300.27 92.65,301.38 93.48,301.39 94.32,300.3 95.15,300.26 95.99,300.1 96.82,300.32 97.65,300.06 98.49,301.73 99.32,301.75 100.16,301.76 100.99,301.72 101.83,301.26 102.66,301.69 103.49,300.56 104.33,300.39 105.16,300.68 106,300.86 106.83,299.01 107.67,299.72 108.5,298.88 109.33,298.35 110.17,298.95 111,299.64 111.84,299.96 112.67,299.72 113.51,298.8 114.34,298.09 115.17,299.82 116.01,300.73 116.84,300.66 117.68,301.36 118.51,301.89 119.35,301.12 120.18,300.93 121.01,301.95 121.85,302.73 122.68,302.56 123.52,302.05 124.35,302.46 125.19,303.11 126.02,302.4 126.85,303.17 127.69,302.97 128.52,302.74 129.36,302.59 130.19,302.81 131.03,301.35 131.86,302.03 132.69,302.37 133.53,301.77 134.36,302.06 135.2,302.58 136.03,303.16 136.87,302.57 137.7,301.98" fill="none" stroke="#a0a0a0" stroke-width="0.3" />
<polyline points="29,254 29.31,285.53 29.62,279.25 29.94,283.12 30.25,275.28 30.56,267.49 30.87,268.28 31.19,266.69 31.5,268.36 31.81,268.63 32.12,263.83 32.44,265.18 32.75,264.37 33.06,266.57 33.37,256.04 33.69,261.89 34,255.01 34.31,258.61 34.62,259.79 34.93,264.34 35.25,272.76 35.56,268.28 35.87,269.18 36.18,269.46 36.5,265.24 36.81,271.2 37.12,263.22 37.43,255.06 37.75,269.51 38.06,278.01 38.42,267.81 39.25,266.95 40.09,264.05 40.92,267.41 41.76,270.95 42.59,278.46 43.43,279.75 44.26,282.99 45.09,278 45.93,278.36 46.76,282.35 47.6,283.16 48.43,284.99 49.27,288.37 50.1,285.38 50.93,284.97 51.77,290.26 52.6,289.05 53.44,290.09 54.27,293.12 55.11,291.38 55.94,285.49 56.77,289.39 57.61,287.5 58.44,287.36 59.28,285.85 60.11,289.89 60.95,288.69 61.78,291.83 62.61,291.49 63.45,294.11 64.28,295.15 65.12,296.62 65.95,296.13 66.79,297.12 67.62,298.07 68.45,297.51 69.29,296.4 70.12,297.35 70.96,298.22 71.79,298.57 72.63,298.95 73.46,298.83 74.29,299.5 75.13,297.99 75.96,297.5 76.8,298.1 77.63,299.7 78.47,298.18 79.3,299.39 80.13,298.32 80.97,296.13 81.8,296.48 82.64,298.51 83.47,299.47 84.31,300.05 85.14,301.77 85.97,301.68 86.81,301.45 87.64,299.63 88.48,299.59 89.31,298.59 90.15,299.42 90.98,299.51 91.81,300.46 92.65,300.96 93.48,301.17 94.32,299.12 95.15,298.05 95.99,297.42 96.82,297.49 97.65,298.11 98.49,299.65 99.32,300.2 100.16,301.65 100.99,301.91 101.83,301.73 102.66,301.77 103.49,301.78 104.33,301.91 105.16,301.94 106,301.98 106.83,301.15 107.67,301.1 108.5,300.18 109.33,300.24 110.17,300.27 111,301.29 111.84,300.99 112.67,301.21 113.51,300.54 114.34,300.98 115.17,301.56 116.01,302.67 116.84,302.01 117.68,302.64 118.51,302.61 119.35,300.54 120.18,300.42 121.01,301.02 121.85,301.5 122.68,301.61 123.52,302.64 124.35,302.28 125.19,301.33 126.02,301.14 126.85,301.22 127.69,302.26 128.52,302.14 129.36,303.36 130.19,303.07 131.03,303.15 131.86,302.36 132.69,302.7 133.53,302.34 134.36,302.37 135.2,302.37 136.03,302.62 136.87,302.35 137.7,302.18" fill="none" stroke="#a0a0a0" stroke-width="0.3" />
<polyline points="29,273.5 29.31,289 29.62,283.46 29.94,281.19 30.25,278.01 30.56,280.97 30.87,273.11 31.19,280.96 31.5,273.05 31.81,268.87 32.12,277.21 32.44,266.26 32.75,269.02 33.06,269.92 33.37,272.33 33.69,266.19 34,266.82 34.31,263.67 34.62,258.48 34.93,267.08 35.25,264.46 35.56,269.42 35.87,276.28 36.18,277.6 36.5,273.34 36.81,273.8 37.12,281.2 37.43,268.79 37.75,272.7 38.06,268.44 38.42,271.93 39.25,275.62 40.09,279.63 40.92,283.61 41.76,283.21 42.59,283.71 43.43,284.34 44.26,281.59 45.09,279.47 45.93,285.59 46.76,288.56 47.6,289.53 48.43,293.78 49.27,293.74 50.1,291.79 50.93,289.83 51.77,288.63 52.6,286.87 53.44,292.36 54.27,295.46 55.11,297.76 55.94,298.56 56.77,299.42 57.61,296.42 58.44,293.74 59.28,290.96 60.11,293.01 60.95,293.76 61.78,295.11 62.61,297.84 63.45,299.77 64.28,297.92 65.12,296.01 65.95,298.86 66.79,298.19 67.62,298.86 68.45,301.76 69.29,303.47 70.12,302.39 70.96,302.03 71.79,301.16 72.63,298.76 73.46,298.81 74.29,299.63 75.13,299.09 75.96,298.79 76.8,300.24 77.63,300.52 78.47,300.37 79.3,301.17 80.13,301.45 80.97,301.14 81.8,300.4 82.64,300.83 83.47,301.02 84.31,301.58 85.14,302.17 85.97,302.2 86.81,302.32 87.64,302.69 88.48,302.15 89.31,301.36 90.15,300.38 90.98,298.76 91.81,298.49 92.65,299.13 93.48,299.84 94.32,301.76 95.15,301.87 95.99,301.35 96.82,301.54 97.65,300.17 98.49,298.84 99.32,299.42 100.16,300.19 100.99,301.28 101.83,301.91 102.66,302.63 103.49,303.6 104.33,303.23 105.16,301.9 106,302.7 106.83,302.4 107.67,301.45 108.5,301.76 109.33,302.37 110.17,301.15 111,301.32 111.84,300.98 112.67,301.08 113.51,300.96 114.34,301.13 115.17,301.36 116.01,301.81 116.84,301.54 117.68,300.77 118.51,301.55 119.35,302.05 120.18,303.04 121.01,303.97 121.85,304.77 122.68,304.82 123.52,304.46 124.35,304.07 125.19,303.48 126.02,303.36 126.85,303.36 127.69,303.23 128.52,302.07 129.36,302.19 130.19,301.98 131.03,302.14 131.86,302.61 132.69,303.22 133.53,303.67 134.36,302.76 135.2,303.34 136.03,303.06 136.87,303.01 137.7,302.21" fill="none" stroke="#a0a0a0" stroke-width="0.3" />
<polyline points="29,276.38 29.31,289.29 29.62,285.63 29.94,277 30.25,277.73 30.56,271.73 30.87,263.99 31.19,264.04 31.5,266.01 31.81,268.3 32.12,273.99 32.44,271.83 32.75,281.17 33.06,274.54 33.37,264.24 33.69,264.05 34,261.55 34.31,255.58 34.62,258.6 34.93,274.17 35.25,275.21 35.56,274.71 35.87,274.56 36.18,265.95 36.5,272.93 36.81,263.9 37.12,265.96 37.43,265.23 37.75,281.04 38.06,280.08 38.42,283.23 39.25,283.51 40.09,281.48 40.92,281.66 41.76,278.71 42.59,283.27 43.43,285.52 44.26,284.57 45.09,284.95 45.93,289.33 46.76,283.66 47.6,288.39 48.43,291.96 49.27,294.19 50.1,293.29 50.93,297.97 51.77,295.6 52.6,295.38 53.44,294.12 54.27,297.15 55.11,296.87 55.94,297.82 56.77,297.44 57.61,297.03 58.44,293.36 59.28,293.81 60.11,293.15 60.95,294.94 61.78,297.33 62.61,299.66 63.45,299.18 64.28,299.64 65.12,299.26 65.95,299.57 66.79,296.92 67.62,298.82 68.45,299.41 69.29,300.44 70.12,300.3 70.96,301.42 71.79,300.37 72.63,297.42 73.46,296.53 74.29,296.13 75.13,297.02 75.96,297.6 76.8,298.05 77.63,298.98 78.47,300.88 79.3,301.28 80.13,300.79 80.97,301.42 81.8,301.14 82.64,300.46 83.47,299.88 84.31,299.53 85.14,300.93 85.97,300.64 86.81,300.85 87.64,300.79 88.48,300.98 89.31,299.91 90.15,298.93 90.98,298.94 91.81,299.86 92.65,300.11 93.48,300.72 94.32,301.7 95.15,301 95.99,300.4 96.82,299.97 97.65,299.99 98.49,300.11 99.32,301.11 100.16,300.85 100.99,301.34 101.83,300.72 102.66,300.33 103.49,300.18 104.33,300.5 105.16,300.63 106,301.43 106.83,302.46 107.67,302.16 108.5,302.27 109.33,302.81 110.17,302.66 111,301.88 111.84,302.56 112.67,303.11 113.51,302.52 114.34,302.34 115.17,302.42 116.01,302.75 116.84,302.77 117.68,302.69 118.51,303.46 119.35,303.19 120.18,301.94 121.01,301.85 121.85,302.04 122.68,301.21 123.52,301.56 124.35,302.36 125.19,302.11 126.02,302.3 126.85,301.92 127.69,301.87 128.52,301.07 129.36,300.87 130.19,300.55 131.03,301.01 131.86,301.49 132.69,302.45 133.53,302.42 134.36,302.88 135.2,303.49 136.03,303.75 136.87,304.01 137.7,304.14" fill="none" stroke="#a0a0a0" stroke-width="0.3" />
<polyline points="29,288.85 29.31,280.58 29.62,275.68 29.94,274.7 30.25,261.54 30.56,259.53 30.87,258.48 31.19,259.91 31.5,263.21 31.81,253.01 32.12,261.52 32.44,263.45 32.75,250.62 33.06,272.98 33.37,271.54 33.69,255.83 34,269.47 34.31,264.4 34.62,259.91 34.93,269.09 35.25,259.68 35.56,264.85 35.87,263.21 36.18,267.41 36.5,269.32 36.81,267.16 37.12,256.76 37.43,266.48 37.75,264.37 38.06,264.61 38.42,274.38 39.25,273.35 40.09,278.36 40.92,282.39 41.76,281.83 42.59,278.33 43.43,276.12 44.26,277.55 45.09,282.32 45.93,287.09 46.76,289.49 47.6,292.7 48.43,293.8 49.27,292.36 50.1,289.95 50.93,291.02 51.77,290.18 52.6,285.43 53.44,287 54.27,288.33 55.11,290.66 55.94,292.82 56.77,295.81 57.61,294.34 58.44,295.44 59.28,294.7 60.11,293.28 60.95,291.43 61.78,291.29 62.61,292.99 63.45,291.87 64.28,293.74 65.12,294.98 65.95,295.66 66.79,296.19 67.62,294.82 68.45,296.5 69.29,297.26 70.12,299.77 70.96,299.35 71.79,299.83 72.63,297.19 73.46,295.47 74.29,294.57 75.13,295.06 75.96,297.3 76.8,296 77.63,296.81 78.47,297.37 79.3,296.61 80.13,295.89 80.97,297.58 81.8,298.81 82.64,299.4 83.47,299.94 84.31,299.58 85.14,300.17 85.97,300.19 86.81,299.94 87.64,298.67 88.48,298.67 89.31,299.36 90.15,299.4 90.98,297.17 91.81,298.37 92.65,297.87 93.48,297.37 94.32,297.09 95.15,298.87 95.99,298.28 96.82,298.93 97.65,299.45 98.49,298.18 99.32,298.18 100.16,299.04 100.99,298.6 101.83,298.56 102.66,299.89 103.49,299.5 104.33,298.55 105.16,300.41 106,300.57 106.83,301.8 107.67,301.7 108.5,302.06 109.33,300.98 110.17,300.31 111,299.25 111.84,299.28 112.67,300.19 113.51,301.11 114.34,301.49 115.17,300.64 116.01,301.71 116.84,299.42 117.68,299.34 118.51,300.18 119.35,300.73 120.18,300.53 121.01,301.82 121.85,301.04 122.68,300.78 123.52,300.63 124.35,300.5 125.19,300.78 126.02,301.56 126.85,301.14 127.69,301.28 128.52,300.19 129.36,300.65 130.19,299.94 131.03,298.88 131.86,299.69 132.69,299.96 133.53,299.94 134.36,300.25 135.2,300.93 136.03,300.66 136.87,300.48 137.7,299.56" fill="none" stroke="#a0a0a0" stroke-width="0.3" />
<polyline points="29,276.7 29.31,285.79 29.62,281.8 29.94,271.85 30.25,266.82 30.56,267.53 30.87,270.92 31.19,264.22 31.5,274.82 31.81,268.42 32.12,271.69 32.44,274.36 32.75,273.26 33.06,267.92 33.37,264.3 33.69,269.05 34,265.86 34.31,273.64 34.62,262.08 34.93,267.63 35.25,272.26 35.56,264.43 35.87,266.72 36.18,271.87 36.5,270.37 36.81,263.52 37.12,268.34 37.43,276.04 37.75,269.85 38.06,275.46 38.42,287.68 39.25,283.73 40.09,285.38 40.92,284.4 41.76,282.52 42.59,277.53 43.43,277.5 44.26,277.52 45.09,283.83 45.93,286.78 46.76,288.42 47.6,288.15 48.43,291.21 49.27,293.18 50.1,292.1 50.93,291.23 51.77,293.65 52.6,291.77 53.44,290.61 54.27,291.52 55.11,293.91 55.94,293.81 56.77,295.58 57.61,297.29 58.44,296.49 59.28,295.55 60.11,297.44 60.95,298.74 61.78,299.19 62.61,300.16 63.45,300.27 64.28,299.69 65.12,296.65 65.95,296.22 66.79,297.68 67.62,298.51 68.45,297.89 69.29,299.4 70.12,299.16 70.96,297.18 71.79,296.08 72.63,295.45 73.46,296.39 74.29,296.87 75.13,297.73 75.96,298.42 76.8,298.19 77.63,297.48 78.47,297.41 79.3,298.48 80.13,298.79 80.97,299.7 81.8,299.94 82.64,300.82 83.47,299.77 84.31,299.64 85.14,299.32 85.97,299 86.81,297.58 87.64,298.72 88.48,299.16 89.31,299.28 90.15,297.67 90.98,297.9 91.81,296.73 92.65,296.49 93.48,295.44 94.32,297.64 95.15,298.19 95.99,298.33 96.82,298.43 97.65,299.42 98.49,299.55 99.32,299.68 100.16,300.82 100.99,301.21 101.83,301.79 102.66,302.93 103.49,303.27 104.33,302.75 105.16,302.33 106,301.14 106.83,301.1 107.67,300.8 108.5,301.08 109.33,300.97 110.17,302.26 111,301.72 111.84,301.57 112.67,301.56 113.51,300.61 114.34,300.7 115.17,300.01 116.01,299.6 116.84,299.17 117.68,300.65 118.51,300.54 119.35,300.95 120.18,301.92 121.01,302.13 121.85,301.26 122.68,300.44 123.52,300.86 124.35,299.9 125.19,300 126.02,301.07 126.85,301.99 127.69,301.15 128.52,302.08 129.36,302.52 130.19,301.92 131.03,302.65 131.86,303.26 132.69,302.74 133.53,302.42 134.36,303.11 135.2,301.48 136.03,300.51 136.87,300.6 137.7,300" fill="none" stroke="#a0a0a0" stroke-width="0.3" />
<polyline points="29,285.05 29.31,285.84 29.62,279.19 29.94,277.38 30.25,273.9 30.56,268 30.87,264.05 31.19,267.32 31.5,255.36 31.81,259.96 32.12,256.23 32.44,262.15 32.75,262.38 33.06,264.52 33.37,263.14 33.69,268.93 34,268.77 34.31,261.93 34.62,253.9 34.93,251.26 35.25,257.75 35.56,253.99 35.87,253.38 36.18,260.29 36.5,260.81 36.81,263.84 37.12,259.22 37.43,261.34 37.75,266.31 38.06,260.35 38.42,261.46 39.25,256.78 40.09,256.85 40.92,267.92 41.76,271 42.59,273.36 43.43,278.55 44.26,282.11 45.09,282.96 45.93,285.79 46.76,285.52 47.6,287.04 48.43,291 49.27,292.3 50.1,290.55 50.93,291.32 51.77,290.35 52.6,287.7 53.44,288.7 54.27,293.04 55.11,295.51 55.94,296.54 56.77,297.39 57.61,296.81 58.44,296.24 59.28,292.34 60.11,293.78 60.95,291.99 61.78,293.04 62.61,290.76 63.45,291.59 64.28,287.92 65.12,288.12 65.95,286.91 66.79,291.75 67.62,296.36 68.45,298.06 69.29,298.75 70.12,300.35 70.96,298.26 71.79,296.7 72.63,298.01 73.46,298.66 74.29,295.59 75.13,297.2 75.96,297.02 76.8,295.8 77.63,296.4 78.47,297.43 79.3,295.68 80.13,295.42 80.97,294.32 81.8,293.8 82.64,294.22 83.47,296.66 84.31,296.28 85.14,297.74 85.97,299.22 86.81,299.85 87.64,300.17 88.48,301.53 89.31,301.1 90.15,299.66 90.98,300.36 91.81,300.93 92.65,299.99 93.48,301.25 94.32,301.33 95.15,300.37 95.99,298.62 96.82,297.55 97.65,295.91 98.49,296.74 99.32,297.79 100.16,298.18 100.99,299.47 101.83,300.82 102.66,300.96 103.49,300.73 104.33,301.63 105.16,302.5 106,301.75 106.83,302.36 107.67,301.8 108.5,300.71 109.33,299.73 110.17,300.39 111,300.18 111.84,300.83 112.67,300.95 113.51,300.57 114.34,301.74 115.17,300.94 116.01,300.64 116.84,301.26 117.68,301.64 118.51,300.48 119.35,301.1 120.18,302.3 121.01,301.65 121.85,301.83 122.68,301.75 123.52,301.71 124.35,300.78 125.19,300.39 126.02,299.56 126.85,299.24 127.69,299.6 128.52,299.46 129.36,301.4 130.19,301.39 131.03,301.09 131.86,300.95 132.69,301.43 133.53,300.94 134.36,301.62 135.2,302.5 136.03,302.26 136.87,302.52 137.7,303.04" fill="none" stroke="#a0a0a0" stroke-width="0.3" />
<polyline points="29,276.74 29.31,283.9 29.62,281.19 29.94,270.39 30.25,279.25 30.56,279.06 30.87,266.22 31.19,274.97 31.5,273.99 31.81,263.18 32.12,257.41 32.44,260.15 32.75,266.58 33.06,274.73 33.37,271.56 33.69,266.52 34,259.12 34.31,267.46 34.62,248.5 34.93,257.15 35.25,262.81 35.56,253.38 35.87,259.43 36.18,268.99 36.5,269.97 36.81,267.36 37.12,266.87 37.43,271.06 37.75,263.69 38.06,268.45 38.42,268.01 39.25,262.64 40.09,268.08 40.92,271.59 41.76,272.83 42.59,274.1 43.43,279.57 44.26,278.67 45.09,278.85 45.93,283.7 46.76,289.19 47.6,292.04 48.43,293.75 49.27,297.8 50.1,296.7 50.93,296.15 51.77,296.26 52.6,296.62 53.44,295.43 54.27,297.48 55.11,297.6 55.94,297.06 56.77,297.23 57.61,293.63 58.44,295.26 59.28,295.74 60.11,292.73 60.95,293.56 61.78,293.65 62.61,288.85 63.45,287.31 64.28,292.75 65.12,292.85 65.95,295.08 66.79,295.72 67.62,295.56 68.45,291.8 69.29,295.26 70.12,297.59 70.96,299.41 71.79,300.64 72.63,302.16 73.46,301.66 74.29,299.55 75.13,299.15 75.96,298.04 76.8,298.57 77.63,298.1 78.47,299.35 79.3,300.1 80.13,300.25 80.97,301.12 81.8,301.42 82.64,301.6 83.47,300.45 84.31,300.84 85.14,300.77 85.97,300.62 86.81,300.06 87.64,300.55 88.48,299.87 89.31,298.13 90.15,297.67 90.98,296.87 91.81,297.57 92.65,297.86 93.48,298.35 94.32,298.46 95.15,299.12 95.99,299.14 96.82,299.71 97.65,299.85 98.49,301.43 99.32,301.55 100.16,300.9 100.99,300.92 101.83,301.2 102.66,300.06 103.49,299.63 104.33,300.59 105.16,299.89 106,300.58 106.83,300.85 107.67,300.66 108.5,300.72 109.33,302.08 110.17,301.23 111,301.19 111.84,302.06 112.67,301.54 113.51,301.06 114.34,301.01 115.17,300.93 116.01,300.91 116.84,301.4 117.68,301.89 118.51,302.56 119.35,302.77 120.18,302.48 121.01,302.77 121.85,302.65 122.68,302.21 123.52,301.56 124.35,301.93 125.19,301.72 126.02,302.02 126.85,301.92 127.69,301.77 128.52,301.99 129.36,301.76 130.19,301.44 131.03,302.03 131.86,302.52 132.69,302.51 133.53,302.41 134.36,301.96 135.2,301.9 136.03,302.3 136.87,302.02 137.7,302.84" fill="none" stroke="#a0a0a0" stroke-width="0.3" />
<polyline points="29,289.13 29.31,287.69 29.62,285.02 29.94,276.87 30.25,279.87 30.56,270.19 30.87,270.32 31.19,259.21 31.5,266.19 31.81,265.46 32.12,261.36 32.44,265.25 32.75,265.38 33.06,268.91 33.37,266.12 33.69,255.8 34,249.18 34.31,256.57 34.62,260.09 34.93,265.37 35.25,254.83 35.56,267.18 35.87,264.42 36.18,258.57 36.5,275.23 36.81,267.09 37.12,270.78 37.43,266.69 37.75,264.66 38.06,277.28 38.42,262.52 39.25,273.88 40.09,277.73 40.92,282.2 41.76,279.06 42.59,278.23 43.43,277.3 44.26,277.11 45.09,278.89 45.93,286.63 46.76,288.79 47.6,291.85 48.43,293.82 49.27,294.85 50.1,294.22 50.93,295.73 51.77,293.67 52.6,291.51 53.44,290.73 54.27,289.74 55.11,289.54 55.94,291.56 56.77,294.46 57.61,294.4 58.44,297.04 59.28,299.46 60.11,298.43 60.95,298.18 61.78,298.74 62.61,297.09 63.45,294.56 64.28,296.02 65.12,297.53 65.95,298.37 66.79,297.94 67.62,298.07 68.45,299.54 69.29,299.91 70.12,298.04 70.96,298.3 71.79,298.08 72.63,298.75 73.46,298.17 74.29,300.34 75.13,301.99 75.96,302.57 76.8,302.12 77.63,300.71 78.47,300.85 79.3,299.07 80.13,298.46 80.97,297.66 81.8,299.15 82.64,297.47 83.47,298.35 84.31,297.76 85.14,297.78 85.97,298.63 86.81,299.49 87.64,298.17 88.48,297.78 89.31,298.97 90.15,298.06 90.98,296.57 91.81,297.68 92.65,299.43 93.48,298.41 94.32,298.57 95.15,300.77 95.99,300.81 96.82,300.36 97.65,300.4 98.49,299.4 99.32,296.82 100.16,295.91 100.99,294.56 101.83,296.14 102.66,298.5 103.49,299.55 104.33,300.58 105.16,301.3 106,301.07 106.83,300.15 107.67,299.4 108.5,299.52 109.33,299.91 110.17,299.99 111,301.57 111.84,302.5 112.67,302.58 113.51,302.45 114.34,302.57 115.17,300.85 116.01,300.13 116.84,298.76 117.68,300.71 118.51,300.67 119.35,301.11 120.18,301.46 121.01,302.24 121.85,300.87 122.68,299.91 123.52,300.56 124.35,300.95 125.19,299.71 126.02,299.91 126.85,300 127.69,299.71 128.52,299.1 129.36,300.7 130.19,299.98 131.03,299.89 131.86,300.12 132.69,300.93 133.53,301.33 134.36,302.3 135.2,302.19 136.03,301.23 136.87,301.96 137.7,302.1" fill="none" stroke="#a0a0a0" stroke-width="0.3" />
<polyline points="29,259.36 29.31,289.63 29.62,287.21 29.94,277.13 30.25,278.36 30.56,267.86 30.87,273.65 31.19,266.51 31.5,271.74 31.81,278.69 32.12,276.27 32.44,270.25 32.75,277.56 33.06,270.33 33.37,270.23 33.69,274.23 34,274.17 34.31,278.01 34.62,268.58 34.93,279.27 35.25,278.31 35.56,270.02 35.87,265.76 36.18,275.22 36.5,275.1 36.81,271.89 37.12,270.67 37.43,268.61 37.75,270.37 38.06,266.88 38.42,261.22 39.25,270.37 40.09,276.87 40.92,280.95 41.76,284.04 42.59,286.82 43.43,289.37 44.26,292.02 45.09,292.73 45.93,293.16 46.76,292.39 47.6,294.79 48.43,293.58 49.27,294.54 50.1,292.93 50.93,294.52 51.77,291.47 52.6,290.24 53.44,291.81 54.27,295.39 55.11,296.05 55.94,297.41 56.77,298.68 57.61,299.09 58.44,297.84 59.28,298.23 60.11,299.72 60.95,299.65 61.78,299.23 62.61,300.99 63.45,301.08 64.28,300.4 65.12,301.3 65.95,302.24 66.79,301.01 67.62,300.37 68.45,300.98 69.29,300.47 70.12,300.08 70.96,300.56 71.79,302.16 72.63,302.28 73.46,302.31 74.29,302.01 75.13,302.15 75.96,301.43 76.8,300.54 77.63,301 78.47,301.45 79.3,301.8 80.13,302.23 80.97,302.65 81.8,301.83 82.64,301.78 83.47,301.37 84.31,300.72 85.14,301.19 85.97,301.98 86.81,301.82 87.64,301.3 88.48,301.25 89.31,301.7 90.15,301.53 90.98,301.8 91.81,302.22 92.65,302.12 93.48,302.55 94.32,302.84 95.15,302.39 95.99,301.56 96.82,301.75 97.65,300.31 98.49,300.18 99.32,299.94 100.16,300.84 100.99,301.08 101.83,301.14 102.66,301.15 103.49,301.9 104.33,302.11 105.16,302.18 106,303.12 106.83,303.5 107.67,303.26 108.5,302.81 109.33,302.62 110.17,301.13 111,301.81 111.84,301.36 112.67,301.34 113.51,301.92 114.34,302.5 115.17,301.9 116.01,301.93 116.84,302.7 117.68,303.16 118.51,302.9 119.35,302.49 120.18,302.49 121.01,303.21 121.85,302.22 122.68,303 123.52,302.73 124.35,303.39 125.19,302.15 126.02,302.71 126.85,302.44 127.69,303.01 128.52,303.27 129.36,303.83 130.19,303.26 131.03,302.8 131.86,302.76 132.69,301.37 133.53,301.36 134.36,302.55 135.2,303.16 136.03,303.02 136.87,303.16 137.7,303.97" fill="none" stroke="#a0a0a0" stroke-width="0.3" />
<polyline points="29,273.17 29.31,288.58 29.62,286.06 29.94,280.37 30.25,275.09 30.56,260.08 30.87,265.26 31.19,262.07 31.5,262.92 31.81,271.34 32.12,271.7 32.44,258.58 32.75,264.18 33.06,259.24 33.37,266.94 33.69,264.09 34,269.16 34.31,266.58 34.62,266.84 34.93,273.48 35.25,264.25 35.56,262.12 35.87,269.03 36.18,263.04 36.5,260.96 36.81,257.54 37.12,268.17 37.43,263.52 37.75,264.68 38.06,275.37 38.42,280.08 39.25,280.06 40.09,283.8 40.92,285.79 41.76,286.13 42.59,289.08 43.43,290.04 44.26,289.25 45.09,287.99 45.93,289.47 46.76,288.08 47.6,283.96 48.43,288 49.27,288.88 50.1,287.77 50.93,287.04 51.77,289.1 52.6,286.91 53.44,289.53 54.27,290.27 55.11,287.39 55.94,289.4 56.77,289.38 57.61,286.45 58.44,289.72 59.28,293.65 60.11,295.34 60.95,296.58 61.78,299.02 62.61,297.46 63.45,297.94 64.28,296.62 65.12,296.81 65.95,296.1 66.79,298.31 67.62,297.42 68.45,298.34 69.29,298.88 70.12,299.96 70.96,298.94 71.79,300.1 72.63,300.58 73.46,300.5 74.29,301.22 75.13,300.86 75.96,300.88 76.8,299.91 77.63,300.66 78.47,300.57 79.3,301.75 80.13,301.35 80.97,301.23 81.8,299.73 82.64,297.54 83.47,297.45 84.31,298.2 85.14,298.89 85.97,299.37 86.81,300.69 87.64,300.84 88.48,301.32 89.31,300.91 90.15,301.82 90.98,301.21 91.81,300.67 92.65,299.6 93.48,301.25 94.32,300.75 95.15,300.43 95.99,300.15 96.82,300.69 97.65,299.31 98.49,299.21 99.32,300.04 100.16,300.4 100.99,298.72 101.83,299.59 102.66,300.71 103.49,300.15 104.33,299.74 105.16,300.83 106,300.66 106.83,299.11 107.67,298.25 108.5,297.78 109.33,299.66 110.17,300.16 111,300.65 111.84,302.77 112.67,302.66 113.51,301.29 114.34,301.3 115.17,301.97 116.01,300.19 116.84,301.42 117.68,301.71 118.51,301.89 119.35,301.97 120.18,302.76 121.01,302.63 121.85,302.44 122.68,302.22 123.52,301.31 124.35,301.36 125.19,301.87 126.02,302.5 126.85,302.52 127.69,303.41 128.52,303.97 129.36,303.48 130.19,303.27 131.03,302.8 131.86,302.98 132.69,302.35 133.53,303.2 134.36,302.77 135.2,302.39 136.03,301.34 136.87,300.4 137.7,300.51" fill="none" stroke="#a0a0a0" stroke-width="0.3" />
<polyline points="29,287.78 29.31,288.85 29.62,285.37 29.94,283.54 30.25,277.24 30.56,272.14 30.87,269.7 31.19,267.28 31.5,273.85 31.81,259.89 32.12,269.68 32.44,275.06 32.75,262.33 33.06,262.63 33.37,268.33 33.69,266.46 34,272.48 34.31,263.41 34.62,274.05 34.93,275.84 35.25,279.77 35.56,276.48 35.87,279.56 36.18,271.44 36.5,272.18 36.81,271.12 37.12,268.81 37.43,268.2 37.75,269.03 38.06,279.26 38.42,281.27 39.25,286.25 40.09,283.97 40.92,286.37 41.76,280.53 42.59,279.87 43.43,278.12 44.26,279.93 45.09,285.94 45.93,289.35 46.76,289.5 47.6,292 48.43,293.46 49.27,290.73 50.1,288.29 50.93,292.07 51.77,291.25 52.6,291.4 53.44,293.52 54.27,294.1 55.11,292.85 55.94,294.89 56.77,294.56 57.61,296.04 58.44,297.27 59.28,297.43 60.11,297.19 60.95,299.42 61.78,299.87 62.61,299.98 63.45,300.84 64.28,299.26 65.12,299.34 65.95,299.47 66.79,299.59 67.62,298.21 68.45,299.01 69.29,299.14 70.12,297.94 70.96,298.42 71.79,298.7 72.63,298.54 73.46,297.41 74.29,298.07 75.13,298.12 75.96,298.66 76.8,300.01 77.63,301.22 78.47,301.29 79.3,300.96 80.13,300.66 80.97,300.96 81.8,300.21 82.64,300.12 83.47,300.29 84.31,300.22 85.14,299.29 85.97,298.92 86.81,298.31 87.64,297.98 88.48,298.63 89.31,300.11 90.15,301.88 90.98,302.34 91.81,302.85 92.65,303.47 93.48,303.41 94.32,303.45 95.15,302.94 95.99,303.8 96.82,304.03 97.65,303.33 98.49,302.01 99.32,302.85 100.16,301.56 100.99,300.07 101.83,300.77 102.66,299.72 103.49,298.98 104.33,299.02 105.16,299.39 106,298.69 106.83,300.94 107.67,301.3 108.5,301.46 109.33,301.33 110.17,301.79 111,301.21 111.84,301.48 112.67,300.84 113.51,301.67 114.34,302.23 115.17,302.4 116.01,301.86 116.84,302.8 117.68,302.3 118.51,301.65 119.35,301.51 120.18,301.14 121.01,301.46 121.85,301.9 122.68,301.95 123.52,302.29 124.35,302.84 125.19,301.6 126.02,300.9 126.85,301.18 127.69,300.6 128.52,300.47 129.36,300.29 130.19,301.23 131.03,300.84 131.86,300.72 132.69,300.63 133.53,301.64 134.36,301.52 135.2,302.17 136.03,303.1 136.87,303.39 137.7,303.33" fill="none" stroke="#a0a0a0" stroke-width="0.3" />
<polyline points="29,271.08 29.31,285.58 29.62,280.01 29.94,275.03 30.25,270.6 30.56,251.15 30.87,259.35 31.19,260.32 31.5,271.32 31.81,269.21 32.12,269.94 32.44,273.55 32.75,278.55 33.06,266.05 33.37,274.31 33.69,279.06 34,276.94 34.31,276.51 34.62,279.71 34.93,277 35.25,275.38 35.56,270.81 35.87,267.41 36.18,271.42 36.5,273.69 36.81,264.89 37.12,269.92 37.43,277.3 37.75,268.48 38.06,274.34 38.42,280.74 39.25,276.26 40.09,278.39 40.92,279.82 41.76,280.76 42.59,282.12 43.43,284.23 44.26,285.76 45.09,288.64 45.93,289.37 46.76,289.78 47.6,290.25 48.43,291.21 49.27,292.64 50.1,292.44 50.93,294.46 51.77,295.44 52.6,295.03 53.44,294.48 54.27,294.91 55.11,294.79 55.94,293.79 56.77,295.18 57.61,296.27 58.44,295.92 59.28,296.55 60.11,298.25 60.95,297.17 61.78,296.1 62.61,297.49 63.45,297.98 64.28,296.78 65.12,297.42 65.95,299.53 66.79,299.6 67.62,300.31 68.45,299.21 69.29,298.88 70.12,298.09 70.96,298.8 71.79,297.95 72.63,300.08 73.46,301.07 74.29,301.16 75.13,299.99 75.96,299.64 76.8,299.39 77.63,298.31 78.47,297.8 79.3,296.63 80.13,297.69 80.97,296.12 81.8,298.1 82.64,298.36 83.47,300.72 84.31,299.31 85.14,300.72 85.97,299.74 86.81,300.83 87.64,301.58 88.48,302.33 89.31,302.41 90.15,302.19 90.98,300.99 91.81,299.47 92.65,299.62 93.48,300.07 94.32,299.97 95.15,300.82 95.99,302.17 96.82,302.01 97.65,301.83 98.49,302.75 99.32,302.49 100.16,301.28 100.99,302.19 101.83,302.68 102.66,302.62 103.49,303.07 104.33,303.46 105.16,302.73 106,301.25 106.83,301.4 107.67,301.29 108.5,301.66 109.33,301.26 110.17,301.83 111,300.36 111.84,299.81 112.67,299.37 113.51,299.05 114.34,299.68 115.17,301.29 116.01,300.92 116.84,300.72 117.68,301.48 118.51,301.26 119.35,300.76 120.18,300.84 121.01,301.49 121.85,301.38 122.68,300.77 123.52,300.2 124.35,300.82 125.19,300.98 126.02,301.99 126.85,302.89 127.69,304.12 128.52,303.96 129.36,302.77 130.19,302.42 131.03,302.02 131.86,301.62 132.69,301.59 133.53,302.79 134.36,302.56 135.2,302.59 136.03,302.77 136.87,302.28 137.7,301.39" fill="none" stroke="#a0a0a0" stroke-width="0.3" />
<polyline points="29,281.85 29.31,287.05 29.62,280.94 29.94,277.21 30.25,271.96 30.56,266.55 30.87,264.08 31.19,259.05 31.5,270.94 31.81,262.86 32.12,266.78 32.44,268.93 32.75,263.61 33.06,274.06 33.37,257.49 33.69,266.84 34,254.76 34.31,258.22 34.62,267.47 34.93,263.71 35.25,260.96 35.56,261.22 35.87,259.19 36.18,258.82 36.5,266.47 36.81,269.26 37.12,257.78 37.43,272.01 37.75,269.81 38.06,262.02 38.42,272.39 39.25,274.37 40.09,276.51 40.92,276.46 41.76,281.2 42.59,281.6 43.43,282.49 44.26,282.1 45.09,287.07 45.93,281.6 46.76,284.14 47.6,291.73 48.43,292.45 49.27,293.34 50.1,295.24 50.93,295.54 51.77,292.67 52.6,294.27 53.44,294.89 54.27,295.84 55.11,296.24 55.94,294.29 56.77,294.18 57.61,294.79 58.44,296.03 59.28,297.07 60.11,297.76 60.95,298.47 61.78,297.84 62.61,297.83 63.45,298.38 64.28,299.23 65.12,298.73 65.95,298.71 66.79,298.28 67.62,298.71 68.45,299.61 69.29,301.41 70.12,302.64 70.96,303.22 71.79,302.26 72.63,302.15 73.46,300.18 74.29,299.77 75.13,298.89 75.96,299.55 76.8,299.19 77.63,300.4 78.47,299.96 79.3,299.53 80.13,299.65 80.97,300.36 81.8,300.58 82.64,300.68 83.47,301.7 84.31,301.96 85.14,301.7 85.97,300.46 86.81,300.28 87.64,300.3 88.48,300.56 89.31,300.52 90.15,300.04 90.98,300.41 91.81,301.48 92.65,301.27 93.48,300.92 94.32,302.38 95.15,302.23 95.99,299.8 96.82,298.87 97.65,298.52 98.49,298.94 99.32,299.29 100.16,300.68 100.99,301.35 101.83,300.88 102.66,299.21 103.49,299.18 104.33,298.76 105.16,299.44 106,300.11 106.83,301.98 107.67,301.39 108.5,302.24 109.33,300.88 110.17,300.75 111,299.88 111.84,300.72 112.67,300.79 113.51,302.25 114.34,303.24 115.17,303.49 116.01,303.17 116.84,302.95 117.68,302.21 118.51,301.95 119.35,301.5 120.18,301.66 121.01,301.39 121.85,302.37 122.68,301.76 123.52,302.44 124.35,302.42 125.19,302.32 126.02,301.97 126.85,302.47 127.69,301.8 128.52,301.03 129.36,301.15 130.19,301.37 131.03,300.81 131.86,300.27 132.69,301.37 133.53,300.96 134.36,299.72 135.2,301.55 136.03,301.83 136.87,302.15 137.7,302.99" fill="none" stroke="#a0a0a0" stroke-width="0.3" />
<polyline points="29,267.74 29.31,283.06 29.62,276.57 29.94,276.56 30.25,271.08 30.56,259.84 30.87,252.49 31.19,266.31 31.5,252.45 31.81,264.21 32.12,258.53 32.44,256.9 32.75,253.53 33.06,261.67 33.37,260.98 33.69,263.53 34,260.05 34.31,254.04 34.62,263.59 34.93,264.76 35.25,270.53 35.56,259.35 35.87,262.13 36.18,267.31 36.5,259.09 36.81,260.41 37.12,259.81 37.43,266.39 37.75,256.83 38.06,267.78 38.42,265.06 39.25,269.37 40.09,275.8 40.92,282.65 41.76,278.51 42.59,276.53 43.43,280.54 44.26,276.15 45.09,275.14 45.93,274.65 46.76,278.02 47.6,277.42 48.43,276.1 49.27,280.6 50.1,282.96 50.93,286.47 51.77,285.91 52.6,291.22 53.44,289.27 54.27,287.01 55.11,284.69 55.94,284.62 56.77,286.21 57.61,289.99 58.44,295.52 59.28,297.47 60.11,299.32 60.95,298.24 61.78,296.47 62.61,295.7 63.45,295.38 64.28,296.07 65.12,297.31 65.95,298.07 66.79,296.98 67.62,297.72 68.45,295.64 69.29,294.99 70.12,295.49 70.96,295.46 71.79,295.31 72.63,297.42 73.46,297.37 74.29,296.51 75.13,296 75.96,298.5 76.8,297.65 77.63,298.55 78.47,300.6 79.3,301.52 80.13,299.49 80.97,299.17 81.8,300.22 82.64,300.06 83.47,300.36 84.31,299.33 85.14,298.66 85.97,296.27 86.81,294.02 87.64,293.95 88.48,295.48 89.31,296.79 90.15,297.69 90.98,299.17 91.81,298.28 92.65,297.38 93.48,298.94 94.32,298.99 95.15,296.77 95.99,298.18 96.82,299.64 97.65,299.09 98.49,300.18 99.32,300.52 100.16,299.33 100.99,298.82 101.83,296.32 102.66,296.28 103.49,297.69 104.33,298.41 105.16,298.94 106,300.49 106.83,299.38 107.67,299.77 108.5,299.4 109.33,297.93 110.17,298.65 111,299.11 111.84,299.42 112.67,301.43 113.51,302.61 114.34,302.43 115.17,301.66 116.01,301.66 116.84,300.85 117.68,299.7 118.51,299.96 119.35,300.52 120.18,300.51 121.01,301.73 121.85,302.86 122.68,303.16 123.52,303.3 124.35,303.09 125.19,300.13 126.02,300.21 126.85,299.79 127.69,300.01 128.52,298.12 129.36,300.89 130.19,298.91 131.03,299.4 131.86,299.82 132.69,300.52 133.53,300.47 134.36,302.21 135.2,301.78 136.03,301.09 136.87,302.54 137.7,301.93" fill="none" stroke="#a0a0a0" stroke-width="0.3" />
<polyline points="29,273.09 29.31,285.57 29.62,281 29.94,271.49 30.25,267.6 30.56,266.33 30.87,255.56 31.19,269.55 31.5,266.04 31.81,254.43 32.12,254.93 32.44,256.19 32.75,258.86 33.06,257.23 33.37,260.72 33.69,260.7 34,264.57 34.31,265.78 34.62,258.37 34.93,262.66 35.25,270.95 35.56,256.73 35.87,251.43 36.18,260.67 36.5,255.26 36.81,258.29 37.12,267.77 37.43,265.05 37.75,266.58 38.06,266.33 38.42,263.49 39.25,265.47 40.09,276.47 40.92,276.23 41.76,282.42 42.59,283.48 43.43,281.73 44.26,283.48 45.09,289.47 45.93,291.5 46.76,292.41 47.6,295.32 48.43,295.48 49.27,295.86 50.1,295.54 50.93,295.88 51.77,294.92 52.6,294.33 53.44,292.88 54.27,294.06 55.11,293.82 55.94,295.39 56.77,296.33 57.61,295.82 58.44,294.28 59.28,292.64 60.11,291.94 60.95,290.51 61.78,294.22 62.61,294.03 63.45,294.77 64.28,296.16 65.12,297.36 65.95,295.65 66.79,297.8 67.62,299.33 68.45,299.32 69.29,299.64 70.12,300.3 70.96,300.75 71.79,300.09 72.63,299.25 73.46,299.03 74.29,298.35 75.13,296 75.96,295.82 76.8,296.47 77.63,297.29 78.47,297.5 79.3,298.23 80.13,299.28 80.97,298.88 81.8,298.99 82.64,300.24 83.47,301.18 84.31,299.9 85.14,300.23 85.97,300.54 86.81,299.38 87.64,298.66 88.48,299.43 89.31,300.26 90.15,298.93 90.98,299.69 91.81,298.81 92.65,300.24 93.48,300.1 94.32,300.87 95.15,301.22 95.99,302.3 96.82,302.07 97.65,302.21 98.49,301.87 99.32,302.16 100.16,301.75 100.99,301.25 101.83,301.61 102.66,301.48 103.49,299.68 104.33,300.43 105.16,299.4 106,297.98 106.83,298.42 107.67,298.74 108.5,299.19 109.33,299.89 110.17,300.46 111,300.57 111.84,301.09 112.67,301.3 113.51,301.66 114.34,301.8 115.17,301.85 116.01,301.94 116.84,301.94 117.68,302.42 118.51,301.28 119.35,300.41 120.18,300.57 121.01,299.64 121.85,298.73 122.68,300.55 123.52,300.97 124.35,300.87 125.19,301.25 126.02,300.88 126.85,300.09 127.69,301.55 128.52,301.91 129.36,302.13 130.19,303.13 131.03,303.56 131.86,303.3 132.69,303.39 133.53,302.45 134.36,301.97 135.2,301.19 136.03,300.25 136.87,298.82 137.7,299.86" fill="none" stroke="#a0a0a0" stroke-width="0.3" />
<polyline points="29,258.35 29.31,285.49 29.62,279.08 29.94,275.06 30.25,266.03 30.56,265.26 30.87,259.8 31.19,262.61 31.5,266.15 31.81,266.63 32.12,268.21 32.44,273.15 32.75,262.09 33.06,271.01 33.37,261.85 33.69,269.13 34,259.69 34.31,270.44 34.62,267.96 34.93,270.32 35.25,270.13 35.56,258.22 35.87,274.24 36.18,265.27 36.5,263.53 36.81,255.58 37.12,260.19 37.43,265.52 37.75,270.78 38.06,276.26 38.42,273.41 39.25,277.36 40.09,282.09 40.92,278.22 41.76,276.27 42.59,279.57 43.43,282.77 44.26,284.68 45.09,288.42 45.93,290.85 46.76,290.48 47.6,289.35 48.43,286.08 49.27,285.13 50.1,283.09 50.93,288.52 51.77,288.21 52.6,291.27 53.44,291.61 54.27,295.47 55.11,294.9 55.94,295.67 56.77,296.66 57.61,296.46 58.44,296.57 59.28,298.15 60.11,298.51 60.95,298.67 61.78,299.22 62.61,297.54 63.45,294.32 64.28,296.27 65.12,295.87 65.95,294.93 66.79,297.08 67.62,299.81 68.45,298.37 69.29,296.65 70.12,297.17 70.96,297.39 71.79,297.1 72.63,298.84 73.46,300.77 74.29,301.2 75.13,301.51 75.96,301.36 76.8,300.59 77.63,300.53 78.47,300.31 79.3,299.7 80.13,298.39 80.97,298.03 81.8,297.8 82.64,298.98 83.47,298.14 84.31,298.62 85.14,299.72 85.97,299.02 86.81,297.77 87.64,299.03 88.48,298.06 89.31,296.37 90.15,299.45 90.98,298.71 91.81,298.6 92.65,298.8 93.48,300.8 94.32,298.73 95.15,300.06 95.99,300.04 96.82,301.17 97.65,300.19 98.49,301.14 99.32,301.2 100.16,301.09 100.99,301.6 101.83,301.85 102.66,301.97 103.49,301.7 104.33,302.49 105.16,302.88 106,303.1 106.83,301.98 107.67,301.63 108.5,300.2 109.33,298.81 110.17,298.66 111,299.24 111.84,300.5 112.67,301.31 113.51,302.02 114.34,301.39 115.17,301.56 116.01,301.3 116.84,301.29 117.68,300.34 118.51,301.15 119.35,301.31 120.18,300.75 121.01,300.83 121.85,300.01 122.68,299.75 123.52,300.31 124.35,300.99 125.19,299.5 126.02,300.86 126.85,301.68 127.69,302.26 128.52,301.69 129.36,301.65 130.19,301.46 131.03,301.05 131.86,299.26 132.69,299.92 133.53,301.62 134.36,302.1 135.2,302.29 136.03,303.45 136.87,303.29 137.7,302.24" fill="none" stroke="#a0a0a0" stroke-width="0.3" />
<polyline points="29,286.21 29.31,286.8 29.62,285.75 29.94,282.94 30.25,276.11 30.56,282.55 30.87,274.11 31.19,271.05 31.5,276.02 31.81,274.68 32.12,270.39 32.44,272.12 32.75,279.33 33.06,270.23 33.37,268.2 33.69,263.15 34,267.15 34.31,272.58 34.62,266.58 34.93,264.65 35.25,270.34 35.56,275.29 35.87,276.05 36.18,279.9 36.5,281.04 36.81,273.11 37.12,277.05 37.43,278.84 37.75,274.03 38.06,277.82 38.42,283.38 39.25,281.1 40.09,282.31 40.92,285.27 41.76,287.63 42.59,289.89 43.43,287.65 44.26,289.68 45.09,288.46 45.93,291.55 46.76,289.98 47.6,291.89 48.43,291.59 49.27,292.56 50.1,290.23 50.93,290.51 51.77,291.24 52.6,293.22 53.44,291.53 54.27,292.5 55.11,291.71 55.94,293.14 56.77,292.37 57.61,292.63 58.44,294.15 59.28,296.15 60.11,297.75 60.95,296.96 61.78,297.62 62.61,295.44 63.45,296.73 64.28,295.74 65.12,297.95 65.95,298.44 66.79,300.34 67.62,300.78 68.45,299.64 69.29,298.21 70.12,297.32 70.96,295.27 71.79,292.46 72.63,294.88 73.46,295.29 74.29,297.62 75.13,298.8 75.96,300.71 76.8,300.51 77.63,300.71 78.47,301.21 79.3,300.96 80.13,299.65 80.97,300.74 81.8,300.58 82.64,300.71 83.47,300.28 84.31,299.73 85.14,298.71 85.97,299.8 86.81,299.16 87.64,299.82 88.48,301.02 89.31,301.36 90.15,301.29 90.98,301.86 91.81,301.31 92.65,300.82 93.48,300.91 94.32,301.04 95.15,299.74 95.99,301.29 96.82,300.39 97.65,299.43 98.49,300.29 99.32,301.44 100.16,299.79 100.99,300.8 101.83,301.91 102.66,300.45 103.49,300.33 104.33,301.18 105.16,301.64 106,300.83 106.83,300.73 107.67,300.14 108.5,300.95 109.33,300.96 110.17,301.84 111,300.98 111.84,301.99 112.67,301.57 113.51,302.12 114.34,301.14 115.17,303.12 116.01,302.85 116.84,302.8 117.68,302.37 118.51,302.18 119.35,301.41 120.18,300.63 121.01,300.72 121.85,300.29 122.68,300.71 123.52,300.66 124.35,301.63 125.19,302.22 126.02,301.54 126.85,302 127.69,302.05 128.52,301.48 129.36,300.12 130.19,300.97 131.03,301.74 131.86,302.57 132.69,302.88 133.53,304.1 134.36,303.88 135.2,302.94 136.03,303.31 136.87,303.54 137.7,303.36" fill="none" stroke="#a0a0a0" stroke-width="0.3" />
<polyline points="29,274.17 29.31,281.47 29.62,277.91 29.94,268.65 30.25,271.38 30.56,258.7 30.87,253.88 31.19,250.86 31.5,256.92 31.81,248.25 32.12,252.91 32.44,257.48 32.75,248.68 33.06,250.79 33.37,262.96 33.69,254.71 34,261.52 34.31,262.18 34.62,261.71 34.93,268.1 35.25,264.17 35.56,262.1 35.87,260.15 36.18,261.82 36.5,266.56 36.81,259.94 37.12,263.18 37.43,258.58 37.75,262.9 38.06,257.34 38.42,266.18 39.25,272.06 40.09,278.57 40.92,274.7 41.76,278.05 42.59,275.01 43.43,274.59 44.26,278.65 45.09,287.63 45.93,290.8 46.76,292 47.6,289.3 48.43,290.19 49.27,291.18 50.1,289.05 50.93,288.32 51.77,291.42 52.6,291.22 53.44,286.63 54.27,290.22 55.11,288.62 55.94,289.88 56.77,289.96 57.61,293.02 58.44,288.35 59.28,291.71 60.11,291.17 60.95,292.06 61.78,291.11 62.61,294.94 63.45,294.35 64.28,296.07 65.12,293.36 65.95,295.15 66.79,296.24 67.62,297.69 68.45,297.01 69.29,299.93 70.12,300.42 70.96,300.51 71.79,300.19 72.63,299.54 73.46,297.43 74.29,295.91 75.13,294.43 75.96,295.73 76.8,296.56 77.63,297.54 78.47,298.26 79.3,297.31 80.13,296.84 80.97,296.07 81.8,296.77 82.64,296.67 83.47,298.72 84.31,299.07 85.14,299.99 85.97,299.12 86.81,298.89 87.64,298.86 88.48,297.37 89.31,297.85 90.15,297.32 90.98,297.87 91.81,298.29 92.65,298.56 93.48,299.05 94.32,300.39 95.15,299.75 95.99,299.33 96.82,300.94 97.65,300.11 98.49,298.59 99.32,298.62 100.16,298.26 100.99,296.88 101.83,297.44 102.66,297.86 103.49,298.38 104.33,299.62 105.16,300.53 106,300.23 106.83,300.77 107.67,300.85 108.5,300.63 109.33,300.01 110.17,300.64 111,301.74 111.84,302.01 112.67,300.81 113.51,300.38 114.34,299.88 115.17,297.94 116.01,297.08 116.84,298.67 117.68,298.91 118.51,299.03 119.35,299.89 120.18,299.88 121.01,300.03 121.85,300.32 122.68,299.39 123.52,298.42 124.35,298.97 125.19,297.54 126.02,298.88 126.85,299.44 127.69,300.59 128.52,299.84 129.36,300.58 130.19,299.64 131.03,299.86 131.86,300.19 132.69,302.45 133.53,302.85 134.36,303.01 135.2,302.54 136.03,302.12 136.87,300.2 137.7,299.79" fill="none" stroke="#a0a0a0" stroke-width="0.3" />
<polyline points="29,283.96 29.31,285.79 29.62,282.29 29.94,279.51 30.25,284.64 30.56,268.55 30.87,268.38 31.19,271.64 31.5,262.3 31.81,260.22 32.12,262.94 32.44,269.06 32.75,274.59 33.06,266.54 33.37,271.54 33.69,275.95 34,277.02 34.31,272.53 34.62,268 34.93,273.89 35.25,275.83 35.56,263.67 35.87,277.68 36.18,268.26 36.5,269.96 36.81,266.53 37.12,261.85 37.43,272.94 37.75,269.1 38.06,277.49 38.42,280.33 39.25,282.19 40.09,284.23 40.92,283.38 41.76,287.9 42.59,290.09 43.43,287.82 44.26,283.62 45.09,290.17 45.93,286.7 46.76,288.11 47.6,290.53 48.43,292.35 49.27,289.09 50.1,293.57 50.93,294.44 51.77,294.64 52.6,295.15 53.44,294.69 54.27,291.64 55.11,288.96 55.94,288.72 56.77,289.01 57.61,293.83 58.44,292.83 59.28,294.29 60.11,296.41 60.95,297.71 61.78,297.29 62.61,299.25 63.45,300.99 64.28,300.21 65.12,300.95 65.95,299.94 66.79,300.52 67.62,298.9 68.45,298.74 69.29,297.61 70.12,298.65 70.96,298.04 71.79,298.85 72.63,300.12 73.46,298.93 74.29,299.95 75.13,300.58 75.96,300.75 76.8,300.67 77.63,301.49 78.47,300.95 79.3,299.89 80.13,300.3 80.97,300.07 81.8,300.37 82.64,300.94 83.47,301.6 84.31,301.26 85.14,301.85 85.97,302.39 86.81,301.46 87.64,301.85 88.48,301.21 89.31,300.25 90.15,299.37 90.98,299.59 91.81,300.1 92.65,300.6 93.48,300.83 94.32,300.72 95.15,300.36 95.99,298.91 96.82,299.12 97.65,299.98 98.49,300.94 99.32,301.65 100.16,302.16 100.99,301.45 101.83,301.48 102.66,301.63 103.49,302.03 104.33,300.68 105.16,301.42 106,301.83 106.83,300.53 107.67,300.34 108.5,301.58 109.33,302.02 110.17,301.06 111,301.49 111.84,301.8 112.67,301.91 113.51,302.28 114.34,301.96 115.17,302.8 116.01,302.87 116.84,303.34 117.68,303.24 118.51,303.76 119.35,303.66 120.18,303.09 121.01,302.47 121.85,301.41 122.68,300.76 123.52,300.84 124.35,301.2 125.19,301.98 126.02,302.66 126.85,303.02 127.69,302.58 128.52,302.94 129.36,302.34 130.19,302.25 131.03,302.32 131.86,303.55 132.69,303.68 133.53,303.52 134.36,304.15 135.2,304.52 136.03,303.81 136.87,303.78 137.7,304.3" fill="none" stroke="#a0a0a0" stroke-width="0.3" />
<polyline points="29,276.16 29.31,288.94 29.62,285.48 29.94,276.6 30.25,271.71 30.56,273.3 30.87,264.28 31.19,272.27 31.5,263.98 31.81,267.88 32.12,264.26 32.44,272.78 32.75,263.08 33.06,266.18 33.37,260.49 33.69,262.52 34,266.39 34.31,272.75 34.62,268.24 34.93,271.3 35.25,265.4 35.56,270.09 35.87,266.22 36.18,259.42 36.5,267.52 36.81,262.16 37.12,266.09 37.43,266.63 37.75,268.2 38.06,274.34 38.42,275.17 39.25,276.98 40.09,278.19 40.92,283.25 41.76,279.25 42.59,280.89 43.43,282.78 44.26,286.01 45.09,286.26 45.93,289.13 46.76,288.49 47.6,288.18 48.43,288.18 49.27,286.13 50.1,284.56 50.93,285.19 51.77,289.94 52.6,290.56 53.44,291.85 54.27,294.25 55.11,295.53 55.94,291.24 56.77,291.45 57.61,292.31 58.44,292.96 59.28,295.5 60.11,298.64 60.95,300.41 61.78,299.48 62.61,299.56 63.45,299.48 64.28,298.93 65.12,297.71 65.95,299.72 66.79,299.08 67.62,298.03 68.45,297.1 69.29,298 70.12,298.74 70.96,299.93 71.79,300.34 72.63,300.53 73.46,301.38 74.29,299.93 75.13,299.83 75.96,299.64 76.8,299.56 77.63,298.73 78.47,299.43 79.3,299.13 80.13,299.52 80.97,300.86 81.8,300.2 82.64,300.35 83.47,300.86 84.31,300.47 85.14,300.14 85.97,299.63 86.81,298.91 87.64,297.62 88.48,298.48 89.31,298.04 90.15,299.27 90.98,300.24 91.81,301.6 92.65,301.45 93.48,301.56 94.32,301.9 95.15,302.75 95.99,302.79 96.82,301.94 97.65,302.14 98.49,301.24 99.32,300.48 100.16,301.04 100.99,301.82 101.83,301.29 102.66,301.64 103.49,301.24 104.33,300.24 105.16,299.9 106,300.66 106.83,300.83 107.67,299.72 108.5,300.9 109.33,301.25 110.17,299.77 111,300.92 111.84,302.75 112.67,302.21 113.51,302.52 114.34,302.78 115.17,302.37 116.01,302.4 116.84,301.32 117.68,301.33 118.51,302.08 119.35,301.76 120.18,301.53 121.01,302.65 121.85,302.33 122.68,302.06 123.52,302.81 124.35,302.24 125.19,302.43 126.02,302.36 126.85,302.83 127.69,302.31 128.52,302.26 129.36,300.87 130.19,301.24 131.03,299.78 131.86,299.21 132.69,299.26 133.53,300.24 134.36,300.22 135.2,301.51 136.03,300.53 136.87,301.35 137.7,301.45" fill="none" stroke="#a0a0a0" stroke-width="0.3" />
<polyline points="29,266.15 29.31,285.24 29.62,278.03 29.94,275.71 30.25,270.22 30.56,259.99 30.87,262.87 31.19,265.71 31.5,261.77 31.81,263.06 32.12,268.35 32.44,271.71 32.75,275.57 33.06,266.01 33.37,266.66 33.69,266.19 34,268.39 34.31,266.85 34.62,257.72 34.93,273.1 35.25,272.56 35.56,265.86 35.87,273.74 36.18,270.63 36.5,266.52 36.81,267.46 37.12,268.34 37.43,270.12 37.75,273.42 38.06,267.22 38.42,279.33 39.25,279.9 40.09,276.78 40.92,280.72 41.76,285.28 42.59,280.87 43.43,282.25 44.26,283.54 45.09,284.08 45.93,283.74 46.76,284.62 47.6,282.95 48.43,279.24 49.27,281.56 50.1,280.03 50.93,284.28 51.77,285.61 52.6,291.97 53.44,292.37 54.27,294.35 55.11,295.61 55.94,296.2 56.77,294.18 57.61,293.08 58.44,292.93 59.28,294.19 60.11,294.28 60.95,296.28 61.78,296.28 62.61,297.9 63.45,296.26 64.28,299.31 65.12,297.5 65.95,298.56 66.79,297.46 67.62,298.79 68.45,297.07 69.29,299.1 70.12,298.58 70.96,299.19 71.79,299.16 72.63,299.41 73.46,300.08 74.29,300.98 75.13,301.04 75.96,301.58 76.8,300.5 77.63,300.06 78.47,299.53 79.3,299.19 80.13,299.2 80.97,299.87 81.8,299.7 82.64,299.65 83.47,300.03 84.31,299.26 85.14,299.06 85.97,298.7 86.81,298.93 87.64,297.16 88.48,297.17 89.31,297.66 90.15,297.9 90.98,297.53 91.81,299.97 92.65,299.28 93.48,298.27 94.32,298.92 95.15,298.4 95.99,296.94 96.82,298 97.65,300.08 98.49,300.38 99.32,301.01 100.16,300.41 100.99,299.66 101.83,297.67 102.66,297.35 103.49,298.01 104.33,299.59 105.16,299.4 106,300.97 106.83,300.97 107.67,300.26 108.5,300.09 109.33,301.68 110.17,300.69 111,301.42 111.84,301.97 112.67,302.03 113.51,301.77 114.34,302.36 115.17,301.15 116.01,301.58 116.84,301.36 117.68,301.35 118.51,301.51 119.35,302.14 120.18,301.7 121.01,302.07 121.85,301.9 122.68,302.27 123.52,301.99 124.35,301.98 125.19,301.06 126.02,300.79 126.85,300.45 127.69,299.96 128.52,299.54 129.36,300.7 130.19,301.23 131.03,299.94 131.86,300.41 132.69,300.61 133.53,301.07 134.36,300.93 135.2,302.74 136.03,302.77 136.87,302.74 137.7,302.93" fill="none" stroke="#a0a0a0" stroke-width="0.3" />
<polyline points="29,280.13 29.31,283.88 29.62,276.44 29.94,277.7 30.25,266.94 30.56,269.49 30.87,260.21 31.19,270.12 31.5,261.1 31.81,258.36 32.12,267.5 32.44,259.3 32.75,254.51 33.06,267.15 33.37,271.29 33.69,260.34 34,262.82 34.31,262.24 34.62,253.5 34.93,266.05 35.25,250.51 35.56,259.04 35.87,258.41 36.18,258.8 36.5,266.12 36.81,267.27 37.12,276.72 37.43,267.07 37.75,274.66 38.06,273.12 38.42,276.38 39.25,277.72 40.09,270.48 40.92,272.07 41.76,273.19 42.59,278.96 43.43,281.47 44.26,290.77 45.09,293.02 45.93,291.66 46.76,293.05 47.6,292.08 48.43,291.12 49.27,289.34 50.1,293.01 50.93,295.88 51.77,296.85 52.6,296.07 53.44,297.27 54.27,295.47 55.11,291.82 55.94,293.48 56.77,291.11 57.61,292.83 58.44,295.58 59.28,297.88 60.11,298.29 60.95,299.13 61.78,297.61 62.61,296.17 63.45,294.02 64.28,293.04 65.12,295.17 65.95,296.04 66.79,297.99 67.62,299.29 68.45,299.93 69.29,298.99 70.12,299.62 70.96,298.42 71.79,297.6 72.63,297.23 73.46,297.37 74.29,297.92 75.13,297.73 75.96,297.99 76.8,297.79 77.63,298.14 78.47,297.37 79.3,299.11 80.13,300.32 80.97,300.91 81.8,300.39 82.64,300.9 83.47,300.78 84.31,299.89 85.14,300.68 85.97,301.31 86.81,300.71 87.64,299.57 88.48,299.59 89.31,298.03 90.15,298.58 90.98,299.47 91.81,301.44 92.65,300.65 93.48,301.32 94.32,301.48 95.15,301.3 95.99,299.99 96.82,300.9 97.65,300.31 98.49,299.32 99.32,297.36 100.16,298.46 100.99,297.88 101.83,299.55 102.66,299.62 103.49,300.75 104.33,299.6 105.16,300.77 106,299.95 106.83,299.97 107.67,301.86 108.5,302.56 109.33,302.34 110.17,302.85 111,302.99 111.84,302.02 112.67,301.21 113.51,300.9 114.34,300.02 115.17,300.07 116.01,299.75 116.84,301 117.68,302.31 118.51,302.12 119.35,302.34 120.18,302.8 121.01,302.54 121.85,302.04 122.68,302.46 123.52,302.67 124.35,302.53 125.19,302.98 126.02,302.64 126.85,303.22 127.69,303.59 128.52,303.25 129.36,302.79 130.19,302.54 131.03,301.22 131.86,300.33 132.69,300.07 133.53,299.78 134.36,300.06 135.2,300.92 136.03,300.81 136.87,300.91 137.7,301.83" fill="none" stroke="#a0a0a0" stroke-width="0.3" />
<polyline points="29,261.3 29.31,287.42 29.62,284.2 29.94,275.68 30.25,276.15 30.56,272.63 30.87,267.03 31.19,273.37 31.5,275.18 31.81,261.61 32.12,265.33 32.44,266.67 32.75,259.57 33.06,252.67 33.37,260.59 33.69,263.99 34,265.46 34.31,266.59 34.62,259.68 34.93,265.25 35.25,263.78 35.56,266.24 35.87,270.51 36.18,273.71 36.5,269.77 36.81,264.8 37.12,264.01 37.43,261.92 37.75,264.64 38.06,269.24 38.42,275.28 39.25,280.96 40.09,286.77 40.92,284.03 41.76,281.12 42.59,285.96 43.43,284.99 44.26,284 45.09,281.2 45.93,282.17 46.76,284.83 47.6,289.42 48.43,289.09 49.27,292.97 50.1,292.68 50.93,291.99 51.77,290.2 52.6,289.71 53.44,291.62 54.27,294.67 55.11,297.01 55.94,297.67 56.77,296.65 57.61,295.85 58.44,293.04 59.28,290.64 60.11,291.53 60.95,294.73 61.78,293.89 62.61,296.65 63.45,298.52 64.28,297.23 65.12,297.82 65.95,298.92 66.79,298.37 67.62,298.98 68.45,299.76 69.29,300.33 70.12,300.92 70.96,299.65 71.79,297.01 72.63,298.09 73.46,298.65 74.29,298.09 75.13,300 75.96,300.84 76.8,301.23 77.63,300.31 78.47,300.67 79.3,299.2 80.13,298.55 80.97,295.96 81.8,296.4 82.64,297 83.47,298.43 84.31,299.67 85.14,301.39 85.97,301.25 86.81,300.58 87.64,300.59 88.48,300.82 89.31,300.11 90.15,301.15 90.98,301.46 91.81,301.89 92.65,301.69 93.48,301.33 94.32,300.79 95.15,300.64 95.99,299.68 96.82,298.78 97.65,300.09 98.49,299.88 99.32,300.89 100.16,300.85 100.99,301.37 101.83,301.02 102.66,301.19 103.49,301.09 104.33,300.37 105.16,301.19 106,301.5 106.83,301.69 107.67,300.97 108.5,302.93 109.33,301.47 110.17,301.64 111,301.55 111.84,301.86 112.67,301.03 113.51,301.27 114.34,299.55 115.17,298.6 116.01,300.09 116.84,299.64 117.68,300.14 118.51,301.92 119.35,301.79 120.18,300.05 121.01,301 121.85,301.82 122.68,301.62 123.52,303.05 124.35,303.88 125.19,303.08 126.02,301.94 126.85,301.09 127.69,299.74 128.52,297.23 129.36,296.55 130.19,297.85 131.03,298.93 131.86,298.89 132.69,301.41 133.53,302.82 134.36,303.29 135.2,303.39 136.03,302.89 136.87,302.08 137.7,302.19" fill="none" stroke="#a0a0a0" stroke-width="0.3" />
<polyline points="29,255.62 29.31,288.73 29.62,283.99 29.94,276.93 30.25,276.2 30.56,266.03 30.87,269.75 31.19,248.7 31.5,257.56 31.81,264.3 32.12,259.64 32.44,264.72 32.75,273.65 33.06,268.46 33.37,271.42 33.69,274.41 34,262.91 34.31,254.31 34.62,256.12 34.93,246.73 35.25,255.38 35.56,261.9 35.87,256.44 36.18,265.67 36.5,265.08 36.81,270.11 37.12,275.55 37.43,266.77 37.75,267.83 38.06,262.69 38.42,267.33 39.25,261.47 40.09,267.59 40.92,265.93 41.76,271.33 42.59,274.4 43.43,278.68 44.26,279.54 45.09,282.33 45.93,286.17 46.76,287.63 47.6,287.31 48.43,288.19 49.27,291.13 50.1,287.85 50.93,289.73 51.77,291.23 52.6,294.94 53.44,294.98 54.27,296.07 55.11,296.77 55.94,295.71 56.77,292.58 57.61,292 58.44,292.88 59.28,291.64 60.11,291.95 60.95,294.05 61.78,294.96 62.61,295.45 63.45,295.87 64.28,296.03 65.12,296.78 65.95,297.12 66.79,297.67 67.62,299 68.45,300.12 69.29,300.3 70.12,300.42 70.96,299.52 71.79,299.65 72.63,299.68 73.46,299.11 74.29,299.3 75.13,298.79 75.96,299.57 76.8,298.74 77.63,298.12 78.47,297.94 79.3,300.45 80.13,298.28 80.97,299.52 81.8,299.34 82.64,299.09 83.47,298.14 84.31,299.58 85.14,299.37 85.97,299.64 86.81,299.91 87.64,299.72 88.48,300.2 89.31,300.68 90.15,301.19 90.98,301.48 91.81,302.04 92.65,301.17 93.48,300.65 94.32,300.97 95.15,300.97 95.99,300.16 96.82,299.92 97.65,299.88 98.49,300.85 99.32,301.33 100.16,301.71 100.99,301.5 101.83,302.34 102.66,300.93 103.49,301.64 104.33,300.62 105.16,301.03 106,301.01 106.83,301.12 107.67,300.48 108.5,301.37 109.33,302.24 110.17,301.55 111,301.84 111.84,300.86 112.67,300.82 113.51,300.65 114.34,300.87 115.17,301.46 116.01,301.39 116.84,301.1 117.68,301.59 118.51,300.87 119.35,300.97 120.18,302.25 121.01,302.71 121.85,302.7 122.68,303.14 123.52,303.73 124.35,303.67 125.19,303.96 126.02,302.89 126.85,302.9 127.69,302.43 128.52,301.6 129.36,300.11 130.19,300.3 131.03,300.14 131.86,299.56 132.69,300.58 133.53,301.68 134.36,302.35 135.2,302.39 136.03,302.45 136.87,301.77 137.7,300.81" fill="none" stroke="#a0a0a0" stroke-width="0.3" />
<polyline points="29,290.15 29.31,281 29.62,271.61 29.94,267.05 30.25,264.36 30.56,250.03 30.87,253.26 31.19,258 31.5,267.37 31.81,263.42 32.12,255.17 32.44,239.88 32.75,243.83 33.06,244.39 33.37,247.44 33.69,242.54 34,252.46 34.31,249.5 34.62,255.2 34.93,253.71 35.25,252.1 35.56,249.24 35.87,257.72 36.18,269.56 36.5,261.56 36.81,264.54 37.12,249.36 37.43,264.65 37.75,262.57 38.06,266.67 38.42,254.86 39.25,264.42 40.09,263.21 40.92,265.01 41.76,277.71 42.59,280.19 43.43,282.12 44.26,287.98 45.09,285.7 45.93,283.55 46.76,284.48 47.6,281.17 48.43,282.16 49.27,283.79 50.1,283.94 50.93,282.93 51.77,285.29 52.6,283.3 53.44,284.22 54.27,285.49 55.11,290.22 55.94,292.47 56.77,294.09 57.61,295.55 58.44,295.87 59.28,294.92 60.11,293.27 60.95,293.44 61.78,294.07 62.61,294.27 63.45,294.8 64.28,296.73 65.12,295.2 65.95,294.7 66.79,293.16 67.62,292.48 68.45,292.3 69.29,292.38 70.12,293.52 70.96,294.82 71.79,293.81 72.63,292.25 73.46,294.97 74.29,294.58 75.13,294.84 75.96,296.41 76.8,297.64 77.63,297.01 78.47,298.76 79.3,297.91 80.13,296.8 80.97,295.59 81.8,294.9 82.64,294.03 83.47,295.37 84.31,293.4 85.14,295.33 85.97,294.8 86.81,294.25 87.64,296.09 88.48,298.94 89.31,297.58 90.15,299.22 90.98,298.52 91.81,296.91 92.65,295.84 93.48,297.08 94.32,296.13 95.15,296.5 95.99,296.62 96.82,297.12 97.65,297.87 98.49,298.74 99.32,298.3 100.16,297.67 100.99,297.44 101.83,295.62 102.66,294.77 103.49,296.04 104.33,296.09 105.16,296.34 106,296.98 106.83,297.43 107.67,296.94 108.5,298.99 109.33,300.15 110.17,300.42 111,301.31 111.84,301.35 112.67,301.09 113.51,300.71 114.34,300.33 115.17,300 116.01,299.92 116.84,299.68 117.68,299 118.51,298.76 119.35,296.43 120.18,295.51 121.01,295.11 121.85,297.17 122.68,297.51 123.52,297.77 124.35,299.13 125.19,299.57 126.02,299.15 126.85,299.36 127.69,300.36 128.52,300.6 129.36,301.42 130.19,301.33 131.03,301.78 131.86,301.67 132.69,301.55 133.53,300.57 134.36,300.57 135.2,300.69 136.03,300.93 136.87,300.53 137.7,301.19" fill="none" stroke="#a0a0a0" stroke-width="0.3" />
<polyline points="29,253.15 29.31,287.61 29.62,282.87 29.94,279.45 30.25,269.39 30.56,266.48 30.87,270.76 31.19,270.42 31.5,271.2 31.81,268.51 32.12,272.45 32.44,265.35 32.75,274.94 33.06,262.14 33.37,260.36 33.69,270.11 34,263.1 34.31,267.83 34.62,271.82 34.93,270.04 35.25,269.19 35.56,265.86 35.87,271.56 36.18,268.1 36.5,271.05 36.81,274.19 37.12,275.29 37.43,277.05 37.75,273.27 38.06,273.84 38.42,266.57 39.25,270.94 40.09,272.4 40.92,278.75 41.76,279.73 42.59,283.7 43.43,286.51 44.26,288.33 45.09,287.15 45.93,285.3 46.76,287.1 47.6,289.82 48.43,288.39 49.27,291.71 50.1,293.29 50.93,292.79 51.77,291.27 52.6,293.49 53.44,294.38 54.27,294.13 55.11,295.63 55.94,294.87 56.77,295.59 57.61,294.33 58.44,297.69 59.28,297.51 60.11,300.29 60.95,300.64 61.78,299.4 62.61,298.36 63.45,299.43 64.28,297.52 65.12,297.56 65.95,299.41 66.79,300.36 67.62,299.61 68.45,300.57 69.29,300.04 70.12,300.08 70.96,299.99 71.79,300.73 72.63,300.3 73.46,301.52 74.29,301.29 75.13,300.35 75.96,299.12 76.8,300.23 77.63,299.34 78.47,298.64 79.3,298.01 80.13,299.73 80.97,299.19 81.8,299.22 82.64,298.86 83.47,300.07 84.31,299.34 85.14,298.7 85.97,297.44 86.81,300.46 87.64,300.22 88.48,300.92 89.31,301.14 90.15,301.8 90.98,299.76 91.81,300.43 92.65,300.4 93.48,300.1 94.32,300.81 95.15,301.66 95.99,301.09 96.82,300.24 97.65,299.34 98.49,299.17 99.32,299.38 100.16,300.08 100.99,300.09 101.83,300.28 102.66,300.55 103.49,300.99 104.33,300.5 105.16,300.98 106,301.91 106.83,301.89 107.67,300.56 108.5,300.51 109.33,299.91 110.17,300.75 111,300.09 111.84,299.53 112.67,299.81 113.51,300.45 114.34,299.85 115.17,300.45 116.01,301.88 116.84,302.06 117.68,301.87 118.51,302.44 119.35,302.39 120.18,302.22 121.01,302.06 121.85,302.3 122.68,301.95 123.52,301.63 124.35,301.84 125.19,302.69 126.02,303.1 126.85,302.81 127.69,303.68 128.52,303.07 129.36,302.08 130.19,302.08 131.03,302.63 131.86,302.06 132.69,302.59 133.53,302.58 134.36,301.65 135.2,300.46 136.03,300.99 136.87,301.52 137.7,302.21" fill="none" stroke="#a0a0a0" stroke-width="0.3" />
<polyline points="29,265.86 29.31,285.46 29.62,283.55 29.94,276.91 30.25,277.1 30.56,262.68 30.87,263.39 31.19,263.25 31.5,259.33 31.81,272.2 32.12,265.9 32.44,266.43 32.75,266.41 33.06,270.86 33.37,264.9 33.69,265.01 34,246.76 34.31,260.89 34.62,266.13 34.93,259.83 35.25,266.23 35.56,269.44 35.87,268.45 36.18,254.94 36.5,264.72 36.81,259.2 37.12,254.03 37.43,251.38 37.75,268.91 38.06,263.53 38.42,274.67 39.25,279.43 40.09,285.12 40.92,282.57 41.76,288.79 42.59,287.71 43.43,285.22 44.26,288.72 45.09,291.58 45.93,293.23 46.76,291.4 47.6,293.06 48.43,290.5 49.27,291.89 50.1,289.81 50.93,291.65 51.77,291.07 52.6,293.16 53.44,292.7 54.27,293.03 55.11,295.67 55.94,296.13 56.77,297.03 57.61,297.01 58.44,298.28 59.28,299.19 60.11,299.23 60.95,298.7 61.78,298.85 62.61,299.56 63.45,297.62 64.28,298.09 65.12,298.53 65.95,299.8 66.79,297.9 67.62,297.47 68.45,298.89 69.29,298.88 70.12,296.84 70.96,298.9 71.79,301 72.63,300.18 73.46,300.62 74.29,301.9 75.13,301.19 75.96,300.18 76.8,300.16 77.63,299.57 78.47,299.83 79.3,300.97 80.13,300.55 80.97,300.41 81.8,301.07 82.64,300.47 83.47,298.33 84.31,297.69 85.14,297.64 85.97,297.68 86.81,296 87.64,298.17 88.48,299.39 89.31,300.46 90.15,299.73 90.98,300.58 91.81,299.11 92.65,299.32 93.48,298.42 94.32,299.67 95.15,301.09 95.99,302.44 96.82,301.8 97.65,302.52 98.49,302.81 99.32,301.84 100.16,301.04 100.99,301.52 101.83,300.09 102.66,299.62 103.49,299.69 104.33,299.42 105.16,299.97 106,300.9 106.83,301.37 107.67,301.99 108.5,302.53 109.33,303.02 110.17,303.5 111,303.56 111.84,303.82 112.67,303.72 113.51,303.18 114.34,303.61 115.17,303.57 116.01,302.76 116.84,302.3 117.68,302.98 118.51,302.14 119.35,301.68 120.18,302.46 121.01,303.19 121.85,303.03 122.68,302.82 123.52,303.45 124.35,303.24 125.19,303.03 126.02,302.15 126.85,302.77 127.69,301.89 128.52,302.31 129.36,302.77 130.19,303.19 131.03,302.73 131.86,302.62 132.69,302.4 133.53,301.2 134.36,301.41 135.2,301.42 136.03,301.37 136.87,300.5 137.7,301.35" fill="none" stroke="#a0a0a0" stroke-width="0.3" />
<polyline points="29,271.4 29.31,283.25 29.62,281.4 29.94,280.07 30.25,280.74 30.56,270.03 30.87,272.36 31.19,266.87 31.5,261.39 31.81,270.76 32.12,268.64 32.44,271.94 32.75,258.16 33.06,268.8 33.37,271.56 33.69,262.84 34,263.27 34.31,267.28 34.62,268.4 34.93,264.52 35.25,264.51 35.56,257.03 35.87,267.72 36.18,263.94 36.5,253.55 36.81,261.64 37.12,265.12 37.43,275.4 37.75,268.77 38.06,276.66 38.42,279.88 39.25,273.82 40.09,280.16 40.92,284.65 41.76,285.04 42.59,288.23 43.43,287.48 44.26,285.08 45.09,284.07 45.93,285.39 46.76,290 47.6,293.87 48.43,293.66 49.27,293.81 50.1,293.83 50.93,293.39 51.77,292.38 52.6,294.6 53.44,297.24 54.27,297.89 55.11,295.37 55.94,295.61 56.77,296.1 57.61,295.39 58.44,294.14 59.28,297.26 60.11,298.21 60.95,299.03 61.78,300.33 62.61,300.45 63.45,297.39 64.28,297.04 65.12,296.34 65.95,293.2 66.79,295.43 67.62,298.15 68.45,299.1 69.29,299.33 70.12,298.16 70.96,297.25 71.79,297.03 72.63,296.12 73.46,296.51 74.29,298.11 75.13,298.34 75.96,298.13 76.8,297.97 77.63,297.22 78.47,298.23 79.3,299.45 80.13,299.44 80.97,299.77 81.8,299.87 82.64,300.36 83.47,300.21 84.31,300.48 85.14,300.67 85.97,301.31 86.81,300.5 87.64,299.56 88.48,300.39 89.31,299.71 90.15,299.54 90.98,299.66 91.81,299.52 92.65,298.02 93.48,298.95 94.32,298.97 95.15,299.62 95.99,301.37 96.82,302.43 97.65,303.5 98.49,303.36 99.32,303.57 100.16,302.46 100.99,302.22 101.83,301.61 102.66,301.21 103.49,301.73 104.33,301.46 105.16,301.92 106,301.11 106.83,301.2 107.67,300.1 108.5,301.04 109.33,299.94 110.17,300.14 111,301.31 111.84,301.56 112.67,301.56 113.51,302.99 114.34,302.67 115.17,302.12 116.01,302.59 116.84,302.21 117.68,300.87 118.51,300.4 119.35,301.23 120.18,301.34 121.01,301.49 121.85,301.2 122.68,302.17 123.52,301.38 124.35,300.86 125.19,300.99 126.02,301.21 126.85,301.94 127.69,302.74 128.52,302.6 129.36,302.4 130.19,301.51 131.03,300.55 131.86,299.14 132.69,299.35 133.53,298.82 134.36,300.24 135.2,301.06 136.03,301.96 136.87,302.11 137.7,302.62" fill="none" stroke="#a0a0a0" stroke-width="0.3" />
<polyline points="29,259.28 29.31,284.75 29.62,277.66 29.94,265.89 30.25,265.86 30.56,261.24 30.87,266.59 31.19,260.9 31.5,264.41 31.81,272.68 32.12,267.11 32.44,261.52 32.75,262.99 33.06,255.36 33.37,265.95 33.69,253.97 34,264.83 34.31,250.23 34.62,265.41 34.93,258.32 35.25,275.89 35.56,267.97 35.87,264.12 36.18,264.74 36.5,266.67 36.81,260.22 37.12,252.45 37.43,272.23 37.75,268.4 38.06,273.58 38.42,277.18 39.25,275.99 40.09,275.87 40.92,281.69 41.76,283.84 42.59,281.58 43.43,285.19 44.26,285.07 45.09,277.26 45.93,279.96 46.76,285.52 47.6,283.89 48.43,282.19 49.27,289.75 50.1,288.28 50.93,288.45 51.77,290.65 52.6,295.51 53.44,296.07 54.27,297.08 55.11,295.94 55.94,295.74 56.77,294.31 57.61,294.05 58.44,296.74 59.28,297.55 60.11,299.01 60.95,299.3 61.78,297.21 62.61,295 63.45,296.78 64.28,296.7 65.12,296.97 65.95,298.24 66.79,299.84 67.62,299.78 68.45,299.91 69.29,300.12 70.12,299.55 70.96,298.08 71.79,296.55 72.63,296.01 73.46,296.35 74.29,298.12 75.13,298.97 75.96,298.97 76.8,299.09 77.63,298.5 78.47,298.17 79.3,296.55 80.13,298 80.97,296.75 81.8,298.22 82.64,298.78 83.47,300.61 84.31,300.77 85.14,301.86 85.97,300.43 86.81,300.52 87.64,300.16 88.48,299.73 89.31,299.19 90.15,300.62 90.98,300.1 91.81,299.68 92.65,300.48 93.48,300.91 94.32,301.18 95.15,301.02 95.99,300.71 96.82,300.11 97.65,299.23 98.49,298.51 99.32,298.77 100.16,299.1 100.99,299.81 101.83,300.59 102.66,299.85 103.49,300.83 104.33,300.74 105.16,299.96 106,299.06 106.83,298.89 107.67,298.29 108.5,299.21 109.33,298.22 110.17,298.96 111,300.48 111.84,300.35 112.67,300.65 113.51,300.65 114.34,301.38 115.17,300.77 116.01,301.54 116.84,300.41 117.68,301.37 118.51,301.52 119.35,301.6 120.18,300.79 121.01,301.46 121.85,301.22 122.68,300.83 123.52,301.24 124.35,301.11 125.19,300.96 126.02,301.6 126.85,301.78 127.69,302.02 128.52,301.66 129.36,300.21 130.19,298.66 131.03,299.27 131.86,300.46 132.69,301.47 133.53,302.9 134.36,303.46 135.2,303.02 136.03,301.72 136.87,300.79 137.7,300.81" fill="none" stroke="#a0a0a0" stroke-width="0.3" />
<polyline points="29,285.22 29.31,284.93 29.62,280.87 29.94,280.15 30.25,268.53 30.56,273.19 30.87,260.26 31.19,273.72 31.5,263.31 31.81,272.61 32.12,261.66 32.44,263.41 32.75,255.57 33.06,259.52 33.37,266.23 33.69,268.11 34,267.63 34.31,257.45 34.62,259.56 34.93,259.65 35.25,259.73 35.56,255.6 35.87,252.54 36.18,265.58 36.5,255.26 36.81,259.5 37.12,267.36 37.43,268.65 37.75,263.88 38.06,280.26 38.42,279.37 39.25,281.61 40.09,284.15 40.92,285.25 41.76,281.83 42.59,277.58 43.43,279.26 44.26,281.67 45.09,280.49 45.93,282.68 46.76,284.39 47.6,283.73 48.43,283.72 49.27,284.25 50.1,285.48 50.93,289.12 51.77,291.28 52.6,292.92 53.44,292.47 54.27,293.74 55.11,290.35 55.94,290.66 56.77,290.35 57.61,291.79 58.44,290.56 59.28,292.51 60.11,292.76 60.95,291.94 61.78,294.6 62.61,292.75 63.45,291.93 64.28,291.16 65.12,291.44 65.95,290.75 66.79,293.97 67.62,298.03 68.45,298.85 69.29,300.41 70.12,300.08 70.96,299.18 71.79,298.05 72.63,298.49 73.46,297.29 74.29,297.8 75.13,299.04 75.96,300.58 76.8,300.23 77.63,300.63 78.47,300.83 79.3,299.89 80.13,298.99 80.97,299.91 81.8,299.35 82.64,298.92 83.47,301.04 84.31,301.18 85.14,300.92 85.97,300.22 86.81,300.53 87.64,299.66 88.48,299.84 89.31,299.54 90.15,300.35 90.98,299.49 91.81,299.29 92.65,298.46 93.48,297.58 94.32,298.41 95.15,300.12 95.99,300.62 96.82,300.11 97.65,299.75 98.49,299.78 99.32,300 100.16,298.71 100.99,299.09 101.83,300.91 102.66,301.32 103.49,300.26 104.33,301.18 105.16,301.96 106,301.63 106.83,300.4 107.67,300.15 108.5,299.7 109.33,298.28 110.17,297.76 111,298.66 111.84,300.21 112.67,300.24 113.51,300.39 114.34,300.76 115.17,301.1 116.01,299.67 116.84,300.28 117.68,300.46 118.51,299.64 119.35,299.34 120.18,300.38 121.01,300.04 121.85,299.49 122.68,300.52 123.52,299.94 124.35,300.57 125.19,301.15 126.02,302.78 126.85,302.43 127.69,302.48 128.52,301.99 129.36,301.61 130.19,301.2 131.03,300.98 131.86,301.34 132.69,301.43 133.53,301.75 134.36,302.1 135.2,302.74 136.03,303.26 136.87,302.81 137.7,302.87" fill="none" stroke="#a0a0a0" stroke-width="0.3" />
<polyline points="29,273.18 29.31,284.79 29.62,279.58 29.94,274.19 30.25,272.09 30.56,264.45 30.87,258.61 31.19,267.14 31.5,272.01 31.81,269.11 32.12,270.59 32.44,264.08 32.75,265.63 33.06,267.78 33.37,262.58 33.69,271.17 34,261.34 34.31,260.22 34.62,268.38 34.93,266.55 35.25,265.88 35.56,267.9 35.87,259.47 36.18,266.47 36.5,258.12 36.81,261.86 37.12,250.65 37.43,267.34 37.75,272.75 38.06,274.02 38.42,272.94 39.25,270.13 40.09,275.19 40.92,278.1 41.76,282.33 42.59,284.1 43.43,285.53 44.26,286.33 45.09,285.42 45.93,283.65 46.76,285.38 47.6,287.88 48.43,286.78 49.27,286.8 50.1,287.89 50.93,289.66 51.77,287.84 52.6,289.48 53.44,289.91 54.27,293.48 55.11,294.56 55.94,295.95 56.77,297.65 57.61,297.68 58.44,296.82 59.28,296.67 60.11,296.84 60.95,295.24 61.78,297.45 62.61,297.42 63.45,297.04 64.28,297.09 65.12,297.47 65.95,296.16 66.79,295.65 67.62,298 68.45,298.12 69.29,298.1 70.12,299.37 70.96,300.44 71.79,300.06 72.63,301.07 73.46,301.49 74.29,300.67 75.13,300.71 75.96,300.1 76.8,298.7 77.63,299.24 78.47,300.02 79.3,298.29 80.13,299.57 80.97,300.19 81.8,300.53 82.64,300.21 83.47,301.79 84.31,300.96 85.14,301.76 85.97,301.06 86.81,300.72 87.64,299.37 88.48,299.23 89.31,299.32 90.15,300.56 90.98,301.11 91.81,302.42 92.65,301.92 93.48,301.53 94.32,301.1 95.15,301.77 95.99,301.88 96.82,301.84 97.65,301.59 98.49,301.24 99.32,301 100.16,299.96 100.99,300.47 101.83,301.15 102.66,301.26 103.49,300.99 104.33,301.57 105.16,301.95 106,301.26 106.83,301.43 107.67,300.85 108.5,299.52 109.33,300.62 110.17,300.49 111,300.36 111.84,301.92 112.67,302.99 113.51,301.87 114.34,302.31 115.17,302.1 116.01,301.34 116.84,300.78 117.68,301.12 118.51,301.13 119.35,301.96 120.18,300.6 121.01,300.45 121.85,301.05 122.68,301.7 123.52,301.41 124.35,301.66 125.19,302.21 126.02,301.62 126.85,300.02 127.69,299.4 128.52,300.99 129.36,300.92 130.19,301.32 131.03,302.89 131.86,302.58 132.69,301.72 133.53,302.45 134.36,302.36 135.2,301.73 136.03,302.05 136.87,303.39 137.7,302.98" fill="none" stroke="#a0a0a0" stroke-width="0.3" />
<polyline points="29,265.43 29.31,290.07 29.62,286.35 29.94,283.57 30.25,285.03 30.56,275.9 30.87,278.14 31.19,274.46 31.5,273.86 31.81,275.46 32.12,278.53 32.44,266.83 32.75,275.23 33.06,273.88 33.37,275.75 33.69,274.61 34,272.28 34.31,268.83 34.62,270.02 34.93,273.48 35.25,269.99 35.56,272.07 35.87,267.74 36.18,273.6 36.5,271.53 36.81,273.84 37.12,270.06 37.43,275.66 37.75,268.92 38.06,272.22 38.42,284.29 39.25,278.09 40.09,280.43 40.92,285.47 41.76,286.91 42.59,285.72 43.43,288.06 44.26,287.77 45.09,287.91 45.93,287.39 46.76,288.07 47.6,288.71 48.43,289.89 49.27,290.88 50.1,293.29 50.93,292.14 51.77,293.88 52.6,293.4 53.44,292.47 54.27,291.64 55.11,293.12 55.94,290.96 56.77,291.98 57.61,293.43 58.44,293.17 59.28,294.39 60.11,296.57 60.95,295.8 61.78,294.64 62.61,295.2 63.45,295.64 64.28,296.72 65.12,298.61 65.95,300.28 66.79,301.21 67.62,300.76 68.45,300.16 69.29,299.77 70.12,300.09 70.96,300.62 71.79,301.66 72.63,302.08 73.46,302.45 74.29,301.84 75.13,300.96 75.96,299.51 76.8,299.72 77.63,299.44 78.47,298.12 79.3,298.8 80.13,300.21 80.97,299.52 81.8,300.64 82.64,302.57 83.47,302.88 84.31,302.63 85.14,303.33 85.97,303.2 86.81,302.48 87.64,301.37 88.48,301.7 89.31,301.38 90.15,300.79 90.98,301.35 91.81,302.26 92.65,301.37 93.48,300.86 94.32,301.48 95.15,301.6 95.99,301.08 96.82,302.6 97.65,302.43 98.49,301.89 99.32,301.31 100.16,302.12 100.99,300.38 101.83,301.58 102.66,301.34 103.49,301.25 104.33,300.14 105.16,301.74 106,301.21 106.83,302.15 107.67,302.51 108.5,302.9 109.33,302.15 110.17,302.34 111,300.76 111.84,301.61 112.67,302.14 113.51,303.15 114.34,302.94 115.17,304.15 116.01,303.45 116.84,303.78 117.68,303.55 118.51,303 119.35,302.41 120.18,302.58 121.01,301.9 121.85,300.9 122.68,301.55 123.52,302.23 124.35,302.62 125.19,302.23 126.02,302.87 126.85,302.96 127.69,302.83 128.52,301.74 129.36,302.78 130.19,302.51 131.03,302.98 131.86,302.36 132.69,303.13 133.53,302.62 134.36,302.5 135.2,302.27 136.03,302.36 136.87,303.29 137.7,303.67" fill="none" stroke="#a0a0a0" stroke-width="0.3" />
<polyline points="29,254.92 29.31,287.76 29.62,284.82 29.94,287.1 30.25,270.65 30.56,272.72 30.87,265.75 31.19,270.62 31.5,272.82 31.81,263.72 32.12,272.53 32.44,272.6 32.75,271.86 33.06,271.56 33.37,276.57 33.69,278.47 34,272.2 34.31,269.21 34.62,271.72 34.93,279.41 35.25,281.79 35.56,270.03 35.87,273.76 36.18,272.05 36.5,280.68 36.81,267.66 37.12,268.99 37.43,270.89 37.75,278.05 38.06,277.24 38.42,277.21 39.25,278.84 40.09,282.36 40.92,285.81 41.76,288.5 42.59,286.97 43.43,289.85 44.26,291.81 45.09,292.08 45.93,290.89 46.76,289.73 47.6,290.08 48.43,289.33 49.27,290.53 50.1,290.35 50.93,293.16 51.77,290.98 52.6,293.04 53.44,291.66 54.27,289.82 55.11,287.32 55.94,290.44 56.77,290.85 57.61,295.28 58.44,296.43 59.28,297.28 60.11,296.73 60.95,296.63 61.78,294.19 62.61,293.02 63.45,296.65 64.28,297.57 65.12,297.77 65.95,299.56 66.79,301.42 67.62,299.6 68.45,299.13 69.29,299.2 70.12,297.26 70.96,297.75 71.79,298.65 72.63,298.5 73.46,298.64 74.29,300 75.13,300.71 75.96,300.79 76.8,300.29 77.63,299.03 78.47,299.18 79.3,298.71 80.13,298.51 80.97,299.34 81.8,297.82 82.64,298.71 83.47,298.14 84.31,298.17 85.14,299.81 85.97,301.76 86.81,301.17 87.64,301.16 88.48,301.28 89.31,301.33 90.15,301.53 90.98,301.01 91.81,301.11 92.65,299.95 93.48,299.61 94.32,299.12 95.15,300.07 95.99,299.51 96.82,300.97 97.65,299.72 98.49,299.95 99.32,299.28 100.16,301.24 100.99,300.94 101.83,301.54 102.66,301.75 103.49,302.26 104.33,300.8 105.16,301.83 106,302.31 106.83,302.05 107.67,301.55 108.5,301.57 109.33,301.51 110.17,301.58 111,301.9 111.84,302.59 112.67,303.58 113.51,303.05 114.34,302.9 115.17,302.96 116.01,302.29 116.84,302.11 117.68,302.49 118.51,302.69 119.35,302.43 120.18,302.95 121.01,302.62 121.85,302.68 122.68,303 123.52,302.87 124.35,302.71 125.19,301.95 126.02,302.02 126.85,301.78 127.69,302 128.52,302.54 129.36,303.16 130.19,303.25 131.03,303.36 131.86,303.45 132.69,303.36 133.53,303.23 134.36,302.37 135.2,301.91 136.03,303.31 136.87,304.15 137.7,304.26" fill="none" stroke="#a0a0a0" stroke-width="0.3" />
<polyline points="29,259.81 29.31,286.04 29.62,282.48 29.94,281.16 30.25,277.95 30.56,279 30.87,262.22 31.19,261.44 31.5,269.83 31.81,257.62 32.12,268.33 32.44,264.75 32.75,267.17 33.06,263.84 33.37,264.21 33.69,264.25 34,276.51 34.31,271.37 34.62,273.26 34.93,275.66 35.25,275.82 35.56,266.93 35.87,263.18 36.18,268.58 36.5,269.52 36.81,268.81 37.12,266.04 37.43,273.98 37.75,267.77 38.06,270.59 38.42,265.45 39.25,272.36 40.09,271.73 40.92,276.98 41.76,277.99 42.59,282.42 43.43,280.1 44.26,278.95 45.09,273.03 45.93,276.25 46.76,276.67 47.6,279.47 48.43,285.08 49.27,289.23 50.1,290.52 50.93,292.42 51.77,292.31 52.6,291.64 53.44,292.72 54.27,292.48 55.11,293.43 55.94,294.07 56.77,297.32 57.61,298.56 58.44,297.64 59.28,297.03 60.11,298.58 60.95,299.16 61.78,297.49 62.61,298.64 63.45,298.14 64.28,298.1 65.12,297.7 65.95,298.67 66.79,299.39 67.62,299.92 68.45,299.38 69.29,296.06 70.12,294.25 70.96,293.8 71.79,294.76 72.63,297.55 73.46,299.69 74.29,300.15 75.13,300.73 75.96,301.14 76.8,299.86 77.63,300.73 78.47,300.07 79.3,299.2 80.13,299.28 80.97,298.97 81.8,298.34 82.64,300.06 83.47,300.22 84.31,299.62 85.14,298.74 85.97,298.98 86.81,298.41 87.64,298.14 88.48,298.87 89.31,299.01 90.15,298.82 90.98,300.17 91.81,300.38 92.65,299.64 93.48,300.32 94.32,299.63 95.15,297.18 95.99,298.19 96.82,299.24 97.65,300.07 98.49,301.27 99.32,302.67 100.16,302.07 100.99,302.17 101.83,301.86 102.66,301.39 103.49,301.17 104.33,302 105.16,301.04 106,301.35 106.83,301.75 107.67,301.59 108.5,302.81 109.33,303.1 110.17,302.91 111,302.26 111.84,302.15 112.67,299.85 113.51,299.86 114.34,300.12 115.17,300.95 116.01,301.01 116.84,301.31 117.68,301.33 118.51,301.36 119.35,301.4 120.18,301.67 121.01,301.6 121.85,301.83 122.68,300.75 123.52,300.74 124.35,300.4 125.19,300.56 126.02,300.5 126.85,301.36 127.69,301.74 128.52,302.33 129.36,303.03 130.19,303.2 131.03,303.13 131.86,303.92 132.69,304.17 133.53,303.46 134.36,303.53 135.2,304.06 136.03,302.74 136.87,302.15 137.7,302.62" fill="none" stroke="#a0a0a0" stroke-width="0.3" />
<polyline points="29,265.81 29.31,285.38 29.62,280.84 29.94,277.4 30.25,268.92 30.56,269.56 30.87,274.47 31.19,271.28 31.5,271.92 31.81,274.75 32.12,273.46 32.44,269.48 32.75,267.18 33.06,270.67 33.37,255.14 33.69,276.66 34,263.5 34.31,258.15 34.62,258.98 34.93,257.06 35.25,268.19 35.56,260.69 35.87,260.11 36.18,263.1 36.5,264.69 36.81,265.58 37.12,270.09 37.43,276.29 37.75,272.44 38.06,283.39 38.42,280.33 39.25,282.26 40.09,281.94 40.92,284.65 41.76,283.67 42.59,287.25 43.43,289.07 44.26,290.19 45.09,289.7 45.93,289.29 46.76,292.07 47.6,291.57 48.43,292.74 49.27,293.27 50.1,291.49 50.93,287.55 51.77,290.35 52.6,290.81 53.44,290.3 54.27,292.13 55.11,294.4 55.94,293.48 56.77,293.52 57.61,294.72 58.44,296.52 59.28,298 60.11,298.13 60.95,298.76 61.78,299.15 62.61,299.39 63.45,298.08 64.28,297.29 65.12,297.64 65.95,298.92 66.79,300.05 67.62,300.9 68.45,301.94 69.29,301.51 70.12,299.9 70.96,298.44 71.79,296.49 72.63,296.38 73.46,297.64 74.29,299.15 75.13,299.46 75.96,300.87 76.8,301.75 77.63,300.78 78.47,299.53 79.3,299.66 80.13,299.01 80.97,298.29 81.8,299.12 82.64,301.08 83.47,301.44 84.31,302.18 85.14,301.73 85.97,301.14 86.81,300.89 87.64,299.85 88.48,297.89 89.31,298.26 90.15,299.01 90.98,298.94 91.81,300.95 92.65,301.09 93.48,301.01 94.32,300.56 95.15,299.04 95.99,297.58 96.82,298.18 97.65,298.78 98.49,299.24 99.32,300.27 100.16,300.72 100.99,301.76 101.83,302 102.66,302.11 103.49,302.02 104.33,301.45 105.16,300.92 106,300.06 106.83,299.99 107.67,300.64 108.5,301.77 109.33,302.52 110.17,302.24 111,302.46 111.84,301.39 112.67,301.04 113.51,299.81 114.34,301.43 115.17,302.2 116.01,303.52 116.84,303.53 117.68,304.3 118.51,304.07 119.35,303.75 120.18,303.44 121.01,303.85 121.85,303.35 122.68,302.98 123.52,302.79 124.35,302.22 125.19,301.65 126.02,302 126.85,302.84 127.69,302.59 128.52,302.71 129.36,302.22 130.19,302.67 131.03,301.58 131.86,301.29 132.69,301.28 133.53,301.53 134.36,300.74 135.2,301.03 136.03,301.46 136.87,301.78 137.7,302.06" fill="none" stroke="#a0a0a0" stroke-width="0.3" />
<polyline points="29,279.88 29.31,289.74 29.62,286.65 29.94,283.6 30.25,277.7 30.56,272.93 30.87,279.52 31.19,270.12 31.5,269.44 31.81,273.3 32.12,279.3 32.44,271.13 32.75,278.93 33.06,274.45 33.37,273.77 33.69,270.13 34,275.16 34.31,267.99 34.62,266.48 34.93,265.41 35.25,270.32 35.56,271.79 35.87,267.71 36.18,271.24 36.5,266.93 36.81,275.89 37.12,266.78 37.43,282.32 37.75,272.95 38.06,261.39 38.42,268.71 39.25,277.18 40.09,281.58 40.92,284.75 41.76,285.7 42.59,290.23 43.43,291.8 44.26,292.76 45.09,291.15 45.93,292.98 46.76,290.56 47.6,289.64 48.43,287.96 49.27,293.97 50.1,296.61 50.93,297.67 51.77,297.38 52.6,298.79 53.44,297.65 54.27,296.1 55.11,294.01 55.94,294.76 56.77,295.55 57.61,295.59 58.44,296.12 59.28,299.1 60.11,300.03 60.95,299.8 61.78,299.63 62.61,300.55 63.45,298.57 64.28,298.21 65.12,299.29 65.95,299.06 66.79,296.65 67.62,298.58 68.45,299.18 69.29,297.92 70.12,298.18 70.96,299.54 71.79,300.08 72.63,298.75 73.46,299.96 74.29,300.27 75.13,301.25 75.96,300.32 76.8,301.34 77.63,301.63 78.47,301.44 79.3,300.79 80.13,301.78 80.97,302.1 81.8,301.89 82.64,300.92 83.47,301.1 84.31,299.2 85.14,298.39 85.97,298.74 86.81,300.11 87.64,299.8 88.48,300.48 89.31,301.4 90.15,301.03 90.98,301.34 91.81,301.7 92.65,302.57 93.48,302.25 94.32,302.33 95.15,302.02 95.99,302.05 96.82,301.48 97.65,301.98 98.49,300.95 99.32,301.55 100.16,301.51 100.99,301.65 101.83,301.73 102.66,302.84 103.49,302.96 104.33,303.06 105.16,303.1 106,302.21 106.83,302.83 107.67,302.42 108.5,302.23 109.33,302.33 110.17,302.22 111,302.2 111.84,302.34 112.67,302.15 113.51,302.53 114.34,302.97 115.17,302.51 116.01,302.58 116.84,303.43 117.68,303.23 118.51,303.31 119.35,303.24 120.18,303.48 121.01,303.06 121.85,303.32 122.68,303.22 123.52,302.82 124.35,302.88 125.19,303.19 126.02,303.4 126.85,303.52 127.69,304.18 128.52,303.91 129.36,303.69 130.19,302.89 131.03,302.97 131.86,301.8 132.69,301.25 133.53,301.71 134.36,301.78 135.2,301.35 136.03,301.7 136.87,302.71 137.7,301.68" fill="none" stroke="#a0a0a0" stroke-width="0.3" />
<polyline points="29,280.98 29.31,289 29.62,285.8 29.94,280.26 30.25,274.81 30.56,268.78 30.87,275.43 31.19,266.32 31.5,270.05 31.81,275.64 32.12,278.76 32.44,276.48 32.75,269.38 33.06,277.09 33.37,276.4 33.69,272.7 34,271.6 34.31,275.43 34.62,275.92 34.93,279.11 35.25,271.51 35.56,271.76 35.87,275.36 36.18,277.09 36.5,278.19 36.81,273.79 37.12,266.56 37.43,268.07 37.75,263.93 38.06,254.41 38.42,262.76 39.25,273.68 40.09,271.5 40.92,277.65 41.76,280.13 42.59,279.01 43.43,285.88 44.26,285.23 45.09,284.45 45.93,288.58 46.76,290.71 47.6,289.97 48.43,291.37 49.27,291.38 50.1,291.02 50.93,292.71 51.77,290.83 52.6,291.98 53.44,294.15 54.27,295.33 55.11,294.43 55.94,295.89 56.77,295.53 57.61,293.17 58.44,293.55 59.28,296.39 60.11,297 60.95,298.29 61.78,301.04 62.61,300.83 63.45,300.61 64.28,300.89 65.12,301.7 65.95,301.92 66.79,303.36 67.62,302.95 68.45,301.87 69.29,301.03 70.12,300.02 70.96,297.98 71.79,297.82 72.63,298.04 73.46,297.4 74.29,299.17 75.13,301.49 75.96,302.21 76.8,302.87 77.63,303.07 78.47,303.62 79.3,302.11 80.13,301.54 80.97,301.35 81.8,302.09 82.64,301.11 83.47,300.49 84.31,300.9 85.14,300.99 85.97,301.12 86.81,300.04 87.64,301.09 88.48,300.21 89.31,299.93 90.15,299.54 90.98,300.59 91.81,300.03 92.65,300.6 93.48,302.23 94.32,301.58 95.15,301.46 95.99,301.81 96.82,301.88 97.65,301.53 98.49,303.53 99.32,303.81 100.16,303.85 100.99,303.18 101.83,302.46 102.66,301.35 103.49,301.22 104.33,301.69 105.16,302.09 106,302.28 106.83,300.91 107.67,301.71 108.5,301.96 109.33,302.74 110.17,302.94 111,303.88 111.84,303.69 112.67,303.28 113.51,303.65 114.34,303.37 115.17,303.45 116.01,302.69 116.84,302.35 117.68,301.44 118.51,301.56 119.35,299.78 120.18,300.68 121.01,300.28 121.85,300.31 122.68,300.5 123.52,302.33 124.35,302.07 125.19,302.7 126.02,303.01 126.85,303.39 127.69,302.91 128.52,303.24 129.36,303.82 130.19,303.74 131.03,303.61 131.86,303.96 132.69,304.18 133.53,303.61 134.36,303.41 135.2,303.27 136.03,303.99 136.87,303.37 137.7,303.02" fill="none" stroke="#a0a0a0" stroke-width="0.3" />
<polyline points="29,269.96 29.31,288.58 29.62,285.08 29.94,279.17 30.25,272.96 30.56,266.89 30.87,267.3 31.19,277.32 31.5,261.47 31.81,262.36 32.12,268.15 32.44,269.94 32.75,271.97 33.06,274.24 33.37,274.32 33.69,274.31 34,274.6 34.31,282.12 34.62,274.55 34.93,274.28 35.25,272.76 35.56,281.56 35.87,281.37 36.18,276.67 36.5,273.83 36.81,269.35 37.12,271.99 37.43,266.51 37.75,270.64 38.06,257.76 38.42,265.45 39.25,273.33 40.09,276.8 40.92,283.03 41.76,284.53 42.59,287.71 43.43,288.12 44.26,287.9 45.09,289.86 45.93,292.58 46.76,291.63 47.6,288.5 48.43,291.16 49.27,289.3 50.1,292.1 50.93,292.73 51.77,295.17 52.6,294.88 53.44,295.71 54.27,297.13 55.11,296.77 55.94,296.43 56.77,297.15 57.61,297.53 58.44,296.09 59.28,295.33 60.11,295.35 60.95,294.64 61.78,292.53 62.61,292.53 63.45,292.65 64.28,294.81 65.12,295.88 65.95,297.36 66.79,298.66 67.62,301.86 68.45,301.49 69.29,301.78 70.12,302.11 70.96,301.15 71.79,299.76 72.63,301.04 73.46,300.22 74.29,300.27 75.13,300.41 75.96,300.93 76.8,300.45 77.63,300.87 78.47,300.95 79.3,302.35 80.13,301.45 80.97,301.91 81.8,301.56 82.64,300.64 83.47,299.31 84.31,299.53 85.14,299.08 85.97,300 86.81,300.66 87.64,299.53 88.48,300.05 89.31,299.78 90.15,299.64 90.98,300.52 91.81,302.11 92.65,302.41 93.48,302.42 94.32,301.99 95.15,301.24 95.99,300.49 96.82,300.46 97.65,300.61 98.49,300.94 99.32,301.75 100.16,302.24 100.99,302.11 101.83,302.46 102.66,302.63 103.49,301.31 104.33,300.65 105.16,300.24 106,300.79 106.83,301.19 107.67,301.94 108.5,302.7 109.33,302.69 110.17,301.89 111,302.16 111.84,302.2 112.67,302.26 113.51,302.75 114.34,303.71 115.17,302.94 116.01,303.76 116.84,303.44 117.68,303.73 118.51,302.94 119.35,303.34 120.18,303.03 121.01,302.15 121.85,301.23 122.68,301.91 123.52,301.63 124.35,300.37 125.19,301.97 126.02,302.06 126.85,301.62 127.69,302.23 128.52,303.44 129.36,302.67 130.19,302.87 131.03,303.12 131.86,302.01 132.69,301.23 133.53,301.65 134.36,302.39 135.2,302.12 136.03,303.2 136.87,303.8 137.7,303.91" fill="none" stroke="#a0a0a0" stroke-width="0.3" />
<polyline points="29,262.54 29.31,286.87 29.62,285.01 29.94,276.02 30.25,281.8 30.56,274.2 30.87,265.29 31.19,265.73 31.5,261.47 31.81,266.2 32.12,268.59 32.44,266.06 32.75,271.45 33.06,270.03 33.37,266.89 33.69,259.76 34,264.6 34.31,255.92 34.62,270.16 34.93,259.96 35.25,258.65 35.56,259.46 35.87,251.5 36.18,257.97 36.5,255.54 36.81,256.22 37.12,271.98 37.43,270.43 37.75,262.89 38.06,270.22 38.42,275.12 39.25,276.57 40.09,278.67 40.92,277.77 41.76,276.09 42.59,278.88 43.43,277.17 44.26,279.03 45.09,282.01 45.93,283.75 46.76,285.79 47.6,285.82 48.43,284.16 49.27,284.22 50.1,285.96 50.93,286.97 51.77,289.31 52.6,290.26 53.44,291.58 54.27,295.79 55.11,292.88 55.94,292.13 56.77,293.79 57.61,294.33 58.44,289.45 59.28,289.41 60.11,292 60.95,295.71 61.78,295.17 62.61,296.06 63.45,297.56 64.28,298.02 65.12,294.95 65.95,296.21 66.79,297.33 67.62,299.36 68.45,298.95 69.29,300.4 70.12,299.66 70.96,299.01 71.79,298.97 72.63,298.42 73.46,298.33 74.29,299.25 75.13,299.08 75.96,298.49 76.8,298.87 77.63,298.84 78.47,299.43 79.3,300.25 80.13,299.77 80.97,299.42 81.8,298.89 82.64,298.64 83.47,298.74 84.31,298.43 85.14,297.53 85.97,296.51 86.81,296.57 87.64,295.27 88.48,296.74 89.31,296.63 90.15,299 90.98,299.2 91.81,299.3 92.65,299.29 93.48,300.35 94.32,299.36 95.15,299.12 95.99,299.96 96.82,300.3 97.65,300.16 98.49,300.83 99.32,300.1 100.16,300.16 100.99,298.9 101.83,299.12 102.66,298.97 103.49,299.04 104.33,298.79 105.16,298.09 106,298.79 106.83,298.29 107.67,298.84 108.5,298.75 109.33,299.44 110.17,299.41 111,299.62 111.84,299.87 112.67,300.96 113.51,301.42 114.34,301.35 115.17,301.66 116.01,301.76 116.84,299.97 117.68,299.82 118.51,300.13 119.35,299.88 120.18,300.14 121.01,300.74 121.85,301.11 122.68,301.27 123.52,302.07 124.35,302.75 125.19,303.58 126.02,303.53 126.85,303.91 127.69,302.94 128.52,302.04 129.36,301.75 130.19,302.6 131.03,301.62 131.86,302.25 132.69,301.29 133.53,301.33 134.36,300.41 135.2,300.02 136.03,300.71 136.87,301.92 137.7,302.38" fill="none" stroke="#a0a0a0" stroke-width="0.3" />
<polyline points="29,269.16 29.31,281.9 29.62,276.25 29.94,272.27 30.25,264.41 30.56,271.57 30.87,268.21 31.19,270.46 31.5,259.09 31.81,257.15 32.12,246.7 32.44,258.35 32.75,241.67 33.06,245.13 33.37,245.97 33.69,250.15 34,237.66 34.31,251.01 34.62,236.62 34.93,237.14 35.25,255.69 35.56,247 35.87,253.67 36.18,255.38 36.5,237.89 36.81,242.54 37.12,253.86 37.43,256.49 37.75,259.55 38.06,252.74 38.42,252.23 39.25,256.17 40.09,257.33 40.92,248.29 41.76,263.12 42.59,264.55 43.43,272.57 44.26,274.76 45.09,278.59 45.93,278.23 46.76,281.61 47.6,284.78 48.43,283.31 49.27,288.33 50.1,286.49 50.93,286.66 51.77,286.15 52.6,290.7 53.44,290.46 54.27,292.48 55.11,292.24 55.94,291.47 56.77,290.97 57.61,291.73 58.44,292.44 59.28,291.02 60.11,294.56 60.95,295.05 61.78,295.68 62.61,297.26 63.45,298.74 64.28,297.1 65.12,297.97 65.95,297.67 66.79,295.92 67.62,297.18 68.45,296.44 69.29,296.81 70.12,296.9 70.96,298.5 71.79,297.11 72.63,297.66 73.46,297.45 74.29,297.57 75.13,296.16 75.96,296.95 76.8,297.04 77.63,297.42 78.47,295.71 79.3,296.57 80.13,296.5 80.97,297.21 81.8,296.61 82.64,298.94 83.47,299.42 84.31,298.64 85.14,297.67 85.97,297.2 86.81,297.13 87.64,296.33 88.48,297.56 89.31,299.21 90.15,299.76 90.98,298.33 91.81,299.32 92.65,298.97 93.48,298.37 94.32,298.74 95.15,299.91 95.99,299.2 96.82,299.71 97.65,299.98 98.49,300.13 99.32,300.71 100.16,301.05 100.99,301.6 101.83,301.17 102.66,301.18 103.49,300.75 104.33,300.51 105.16,299.48 106,298.78 106.83,296.77 107.67,295.77 108.5,295.17 109.33,295.05 110.17,295.63 111,297.01 111.84,296.74 112.67,296.53 113.51,297.96 114.34,299.09 115.17,299.62 116.01,299.89 116.84,301.71 117.68,301.17 118.51,300.71 119.35,299.36 120.18,300.8 121.01,299.76 121.85,300.36 122.68,299.69 123.52,301 124.35,298.62 125.19,299.11 126.02,298.35 126.85,298.69 127.69,298.21 128.52,298.19 129.36,297.24 130.19,298.2 131.03,298.37 131.86,298.41 132.69,300.52 133.53,301.22 134.36,301.28 135.2,301.77 136.03,302.16 136.87,301.48 137.7,302.24" fill="none" stroke="#a0a0a0" stroke-width="0.3" />
<polyline points="29,273.48 29.31,282.15 29.62,279.94 29.94,276.69 30.25,279.06 30.56,266.07 30.87,260.78 31.19,262.74 31.5,260.72 31.81,258.51 32.12,262.87 32.44,265.9 32.75,261.2 33.06,261.63 33.37,265.05 33.69,263.51 34,263.57 34.31,264.44 34.62,263.33 34.93,255 35.25,266.04 35.56,264.04 35.87,263.14 36.18,272.11 36.5,263.42 36.81,271.45 37.12,263.76 37.43,260.04 37.75,263.22 38.06,267.93 38.42,268.67 39.25,277.02 40.09,274.52 40.92,283.36 41.76,279.64 42.59,278.96 43.43,277 44.26,287.24 45.09,279.75 45.93,280.15 46.76,279.82 47.6,281.97 48.43,279.74 49.27,282.45 50.1,283.06 50.93,287.64 51.77,289.42 52.6,288.63 53.44,293.88 54.27,295.88 55.11,296.64 55.94,298.68 56.77,300.28 57.61,298.14 58.44,298.66 59.28,299.74 60.11,299.12 60.95,298.39 61.78,299.82 62.61,298.73 63.45,298.86 64.28,298.94 65.12,300.01 65.95,299.4 66.79,299.59 67.62,296.88 68.45,298.49 69.29,297.77 70.12,297.92 70.96,298.29 71.79,297.54 72.63,295.54 73.46,295.63 74.29,295.89 75.13,297.37 75.96,300.19 76.8,301.24 77.63,301.71 78.47,301.37 79.3,300.92 80.13,300.35 80.97,298.28 81.8,298.04 82.64,298.72 83.47,299.52 84.31,299.79 85.14,301.67 85.97,302.4 86.81,302.1 87.64,300.81 88.48,300.92 89.31,300.77 90.15,300.26 90.98,300.8 91.81,300.62 92.65,299.96 93.48,298.7 94.32,297.76 95.15,297.15 95.99,296.83 96.82,296.95 97.65,298.44 98.49,298.95 99.32,300.41 100.16,301.07 100.99,300.5 101.83,300.16 102.66,300.15 103.49,298.28 104.33,299.76 105.16,300.58 106,298.56 106.83,299.37 107.67,300.93 108.5,299.98 109.33,298.76 110.17,301 111,299.71 111.84,299.71 112.67,299.36 113.51,300.85 114.34,300.58 115.17,301.54 116.01,301.44 116.84,302.32 117.68,301.85 118.51,301.55 119.35,301.54 120.18,301.34 121.01,300.47 121.85,300.4 122.68,300.31 123.52,300.81 124.35,299.41 125.19,299.53 126.02,300 126.85,301.53 127.69,300.6 128.52,302.18 129.36,302.53 130.19,302.59 131.03,301.86 131.86,301.79 132.69,302.57 133.53,303 134.36,302.24 135.2,303.01 136.03,303.58 136.87,302.62 137.7,301.78" fill="none" stroke="#a0a0a0" stroke-width="0.3" />
<polyline points="29,281.79 29.31,285.81 29.62,280.48 29.94,273.43 30.25,270.1 30.56,266.66 30.87,260.89 31.19,269.72 31.5,268.64 31.81,259.06 32.12,268.29 32.44,262.66 32.75,265.07 33.06,259.69 33.37,260.7 33.69,263.68 34,267.34 34.31,270.28 34.62,269.4 34.93,259.44 35.25,272.36 35.56,264.85 35.87,251.63 36.18,254.2 36.5,256.01 36.81,259.99 37.12,251.24 37.43,261.66 37.75,265.54 38.06,271.48 38.42,267.92 39.25,269.58 40.09,271.78 40.92,272.21 41.76,277.47 42.59,280.16 43.43,282.87 44.26,284.05 45.09,284.59 45.93,281.93 46.76,286.66 47.6,287.92 48.43,288.68 49.27,293.76 50.1,294.89 50.93,292.57 51.77,291.24 52.6,290.74 53.44,286.32 54.27,289.58 55.11,290.15 55.94,290.34 56.77,291.33 57.61,292.62 58.44,292 59.28,292.14 60.11,293.66 60.95,292.03 61.78,294.07 62.61,293.81 63.45,295.13 64.28,295.63 65.12,297.75 65.95,296.62 66.79,296.4 67.62,295.69 68.45,297.11 69.29,296.9 70.12,298.17 70.96,299.99 71.79,300.44 72.63,298.65 73.46,299.5 74.29,298.09 75.13,298.31 75.96,298.7 76.8,299.18 77.63,297.66 78.47,298.36 79.3,298.7 80.13,297.68 80.97,298.47 81.8,298.98 82.64,299.13 83.47,299.05 84.31,299.52 85.14,298.57 85.97,298.19 86.81,299.66 87.64,298.35 88.48,299.04 89.31,299.85 90.15,300.8 90.98,299.2 91.81,300.2 92.65,299.89 93.48,299.44 94.32,299.51 95.15,299.89 95.99,298.85 96.82,298.53 97.65,298.9 98.49,299.14 99.32,298.86 100.16,300.87 100.99,300.56 101.83,300.43 102.66,300.86 103.49,301.45 104.33,299.03 105.16,298.98 106,298.36 106.83,297.95 107.67,297.67 108.5,298.5 109.33,299.25 110.17,299.55 111,299.16 111.84,298.92 112.67,300.52 113.51,301.04 114.34,300.73 115.17,300.89 116.01,300.53 116.84,299.44 117.68,298.84 118.51,300.06 119.35,299.66 120.18,300.28 121.01,300.32 121.85,301.03 122.68,300.56 123.52,299.8 124.35,300.59 125.19,300.66 126.02,300.36 126.85,300.77 127.69,301.8 128.52,301.06 129.36,300.89 130.19,300.55 131.03,300.58 131.86,300.07 132.69,300.59 133.53,301.4 134.36,302.15 135.2,302.46 136.03,303.7 136.87,303.53 137.7,302.94" fill="none" stroke="#a0a0a0" stroke-width="0.3" />
<polyline points="29,281 29.31,290.04 29.62,286.36 29.94,291.58 30.25,276.49 30.56,282.01 30.87,275.56 31.19,279.51 31.5,278.04 31.81,276.76 32.12,276.54 32.44,271.19 32.75,278 33.06,277.19 33.37,273.52 33.69,273.7 34,272.49 34.31,274.07 34.62,275.87 34.93,276.77 35.25,282.56 35.56,269.68 35.87,263.78 36.18,263.26 36.5,277.41 36.81,269.34 37.12,263.66 37.43,274.54 37.75,269.78 38.06,275.03 38.42,284.75 39.25,280.6 40.09,282.46 40.92,279.31 41.76,279.78 42.59,280.03 43.43,286.74 44.26,286.89 45.09,290.85 45.93,290.56 46.76,287.06 47.6,281.64 48.43,282.09 49.27,285.55 50.1,290.32 50.93,292.26 51.77,296.64 52.6,297.86 53.44,297.46 54.27,297.54 55.11,298.95 55.94,297.91 56.77,298.74 57.61,298.94 58.44,300.01 59.28,300.05 60.11,300.57 60.95,299.9 61.78,298.72 62.61,298.05 63.45,297.83 64.28,297.13 65.12,297.59 65.95,298.62 66.79,298.09 67.62,299.28 68.45,300.05 69.29,299.76 70.12,298.59 70.96,297.52 71.79,297.9 72.63,297.31 73.46,297.21 74.29,299.63 75.13,300.44 75.96,300.44 76.8,300.81 77.63,301.29 78.47,300.6 79.3,300.28 80.13,300.52 80.97,301.25 81.8,300.89 82.64,301.22 83.47,302.1 84.31,302.82 85.14,301.95 85.97,302.17 86.81,302.07 87.64,301.59 88.48,300.99 89.31,300.63 90.15,300.86 90.98,300.71 91.81,300.49 92.65,298.53 93.48,300.46 94.32,301.51 95.15,301.65 95.99,302.45 96.82,302.89 97.65,302.35 98.49,301.33 99.32,301.56 100.16,301.58 100.99,302.57 101.83,302.77 102.66,302.3 103.49,303.55 104.33,303.46 105.16,303.36 106,302.89 106.83,303.32 107.67,302.17 108.5,302.01 109.33,300.1 110.17,300.78 111,301.26 111.84,301.2 112.67,300.95 113.51,302.3 114.34,301.42 115.17,301.66 116.01,301.58 116.84,301.91 117.68,301.89 118.51,302.97 119.35,303.14 120.18,303.13 121.01,303.08 121.85,303.49 122.68,303.37 123.52,302.72 124.35,302.17 125.19,302.32 126.02,301.4 126.85,301.54 127.69,301.38 128.52,302.55 129.36,303.54 130.19,303.84 131.03,303.11 131.86,303.34 132.69,303.11 133.53,302.4 134.36,302.82 135.2,303.72 136.03,303.63 136.87,303.36 137.7,302.09" fill="none" stroke="#a0a0a0" stroke-width="0.3" />
<polyline points="29,253.77 29.31,288.53 29.62,285.46 29.94,279.98 30.25,274.42 30.56,266.87 30.87,271.59 31.19,267.28 31.5,267.38 31.81,257.14 32.12,269.32 32.44,263.03 32.75,268.79 33.06,270.06 33.37,267.43 33.69,278.64 34,274.91 34.31,274.23 34.62,271.22 34.93,273.88 35.25,271.52 35.56,273.11 35.87,274.29 36.18,269.27 36.5,266.31 36.81,269.57 37.12,265.32 37.43,268.09 37.75,275.17 38.06,281.1 38.42,286.36 39.25,282.28 40.09,279.59 40.92,280.05 41.76,283.99 42.59,289.23 43.43,290.76 44.26,291.71 45.09,291.17 45.93,292.62 46.76,290.57 47.6,290.82 48.43,291.9 49.27,294.45 50.1,292.52 50.93,291.34 51.77,294.12 52.6,296.72 53.44,296.71 54.27,297.98 55.11,297.33 55.94,298.21 56.77,296.2 57.61,295.47 58.44,296.33 59.28,296.65 60.11,294.08 60.95,295.36 61.78,294 62.61,289.01 63.45,290.68 64.28,293.77 65.12,295.88 65.95,299.9 66.79,302.21 67.62,302.13 68.45,301.51 69.29,301.29 70.12,300.36 70.96,300.66 71.79,300.3 72.63,300.67 73.46,300.06 74.29,299.21 75.13,297.88 75.96,299.43 76.8,299.24 77.63,299.6 78.47,300.72 79.3,302.19 80.13,301.27 80.97,301.77 81.8,302.26 82.64,301.32 83.47,300.22 84.31,299.59 85.14,299.6 85.97,300.58 86.81,302.19 87.64,302.55 88.48,303.05 89.31,303.72 90.15,303.24 90.98,303.08 91.81,302.98 92.65,302.82 93.48,302.13 94.32,301.82 95.15,301.39 95.99,301.36 96.82,302.56 97.65,302.45 98.49,301.66 99.32,301.13 100.16,301.89 100.99,300.67 101.83,301.11 102.66,301.79 103.49,302.01 104.33,301.46 105.16,302.07 106,301.92 106.83,300.91 107.67,301.42 108.5,301.34 109.33,301.95 110.17,301.93 111,302.96 111.84,302.37 112.67,302.73 113.51,301.47 114.34,301.48 115.17,301.01 116.01,301.88 116.84,302 117.68,301.64 118.51,302.27 119.35,302.12 120.18,300.87 121.01,299.82 121.85,300.55 122.68,300.46 123.52,301.05 124.35,301.45 125.19,301.9 126.02,302.84 126.85,302.92 127.69,302.91 128.52,302.89 129.36,303.19 130.19,303.11 131.03,302.64 131.86,303.52 132.69,303.83 133.53,302.56 134.36,303.01 135.2,302.41 136.03,301.49 136.87,302.55 137.7,303.94" fill="none" stroke="#a0a0a0" stroke-width="0.3" />
<polyline points="29,253.91 29.31,287.64 29.62,284.48 29.94,283.43 30.25,271 30.56,272.82 30.87,276.15 31.19,272.71 31.5,283.18 31.81,267.76 32.12,276.73 32.44,269.19 32.75,266.08 33.06,273.53 33.37,268.85 33.69,265.4 34,267.32 34.31,270.93 34.62,270.17 34.93,264.21 35.25,276.83 35.56,268.68 35.87,274.02 36.18,268.71 36.5,268.73 36.81,275.15 37.12,269.79 37.43,276.21 37.75,273.14 38.06,274.91 38.42,261.53 39.25,278.08 40.09,282.76 40.92,283.03 41.76,281.76 42.59,284.3 43.43,283.02 44.26,283.28 45.09,284.94 45.93,286.63 46.76,289.17 47.6,292.26 48.43,295.31 49.27,296.55 50.1,297.76 50.93,297.5 51.77,295.03 52.6,293.3 53.44,293.63 54.27,292.73 55.11,293.11 55.94,296.36 56.77,295.85 57.61,295.86 58.44,297.85 59.28,298.58 60.11,299.3 60.95,299.77 61.78,300.13 62.61,299.04 63.45,298.88 64.28,297.12 65.12,297.19 65.95,297.61 66.79,299.43 67.62,301.38 68.45,302.23 69.29,301.92 70.12,301.89 70.96,301.26 71.79,300.12 72.63,297.74 73.46,298.9 74.29,299.44 75.13,299.7 75.96,298.78 76.8,300.29 77.63,300.65 78.47,299.87 79.3,299.22 80.13,299.88 80.97,299.86 81.8,299.68 82.64,300.28 83.47,300.39 84.31,300.95 85.14,300.65 85.97,299.84 86.81,298.15 87.64,297.31 88.48,297.37 89.31,297.88 90.15,298.02 90.98,300.15 91.81,301.39 92.65,300.69 93.48,300.09 94.32,299.92 95.15,298.97 95.99,297.55 96.82,298.39 97.65,298.81 98.49,299.54 99.32,298.28 100.16,299.68 100.99,297.93 101.83,298.99 102.66,298.72 103.49,301.67 104.33,301.06 105.16,303.22 106,302.39 106.83,302.15 107.67,301.42 108.5,301.78 109.33,301.33 110.17,302.41 111,302.77 111.84,302.12 112.67,302.05 113.51,301.76 114.34,301.35 115.17,302.14 116.01,302.51 116.84,301.65 117.68,301.37 118.51,301.52 119.35,300.58 120.18,299.46 121.01,299.84 121.85,299.27 122.68,298.89 123.52,299.23 124.35,300.61 125.19,302.35 126.02,302.15 126.85,301.74 127.69,301.92 128.52,302.38 129.36,301.97 130.19,302.9 131.03,302.66 131.86,302.18 132.69,301.63 133.53,301.74 134.36,301.99 135.2,302.52 136.03,302.91 136.87,303.17 137.7,303.04" fill="none" stroke="#a0a0a0" stroke-width="0.3" />
<polyline points="29,254.71 29.31,284.71 29.62,278.9 29.94,275.77 30.25,280.3 30.56,266.4 30.87,254.36 31.19,264.14 31.5,259.73 31.81,259.91 32.12,258.59 32.44,269.42 32.75,272.93 33.06,263.13 33.37,269.86 33.69,269.41 34,270.22 34.31,258.95 34.62,253.44 34.93,258.96 35.25,260.51 35.56,257.85 35.87,272.96 36.18,261.82 36.5,276.2 36.81,260.62 37.12,270.01 37.43,264.78 37.75,272.93 38.06,265.45 38.42,272.5 39.25,276.02 40.09,276.12 40.92,282.19 41.76,284.45 42.59,282.1 43.43,282.77 44.26,284.36 45.09,286.18 45.93,290.19 46.76,291.11 47.6,289.48 48.43,289.3 49.27,285.11 50.1,283.32 50.93,281.4 51.77,279.03 52.6,281.73 53.44,286.54 54.27,284.53 55.11,286.55 55.94,292.03 56.77,290.61 57.61,290.46 58.44,293.13 59.28,293.41 60.11,293.96 60.95,295.43 61.78,297.32 62.61,298.76 63.45,299.55 64.28,299.07 65.12,299.36 65.95,298.73 66.79,298.61 67.62,297.37 68.45,298.99 69.29,299.41 70.12,299.74 70.96,299.11 71.79,299.69 72.63,300.11 73.46,299.61 74.29,299.68 75.13,300.95 75.96,300.49 76.8,299.34 77.63,299.75 78.47,298.99 79.3,297.53 80.13,298.43 80.97,297.7 81.8,296.09 82.64,296.96 83.47,296.67 84.31,296.73 85.14,298.13 85.97,299.41 86.81,299.01 87.64,299.48 88.48,299.3 89.31,298.68 90.15,299.15 90.98,299.18 91.81,298.5 92.65,299.3 93.48,299.92 94.32,299.9 95.15,301.28 95.99,301.63 96.82,300.97 97.65,301.12 98.49,300.9 99.32,300.26 100.16,299.9 100.99,299.61 101.83,298.27 102.66,297.93 103.49,297.54 104.33,298.88 105.16,300.64 106,301.47 106.83,301.54 107.67,301.31 108.5,300.45 109.33,299.6 110.17,298.96 111,299.88 111.84,299.31 112.67,299.21 113.51,299.58 114.34,300.23 115.17,300.45 116.01,300.17 116.84,300.04 117.68,299.23 118.51,299.62 119.35,298.69 120.18,300.13 121.01,301.62 121.85,302.15 122.68,302.09 123.52,302.52 124.35,302.74 125.19,302.31 126.02,302.32 126.85,302.56 127.69,302.24 128.52,301.51 129.36,301.67 130.19,301.61 131.03,301.37 131.86,301.21 132.69,301.14 133.53,300.96 134.36,302.34 135.2,301.96 136.03,302.89 136.87,302.41 137.7,302.48" fill="none" stroke="#a0a0a0" stroke-width="0.3" />
<polyline points="29,268.47 29.31,284.05 29.62,281.21 29.94,277.79 30.25,271.19 30.56,273.19 30.87,270.33 31.19,269.32 31.5,273.05 31.81,273.05 32.12,272.75 32.44,270.31 32.75,267.34 33.06,272.72 33.37,268.21 33.69,266.88 34,264.3 34.31,261.56 34.62,269.36 34.93,275.12 35.25,273.35 35.56,270.89 35.87,269.77 36.18,264.89 36.5,272.96 36.81,257.75 37.12,264.52 37.43,257.58 37.75,271.77 38.06,269.43 38.42,276.05 39.25,276.37 40.09,278.17 40.92,282.07 41.76,282.36 42.59,279.72 43.43,283.47 44.26,286.4 45.09,284.51 45.93,284.13 46.76,286.81 47.6,285.19 48.43,281.29 49.27,285.97 50.1,287.17 50.93,288.1 51.77,286.51 52.6,290.68 53.44,292.08 54.27,292.88 55.11,294.58 55.94,298.16 56.77,297.9 57.61,296.72 58.44,299.6 59.28,297.99 60.11,297.19 60.95,299.04 61.78,298.71 62.61,297.29 63.45,298.89 64.28,299.43 65.12,298.34 65.95,298.13 66.79,299.36 67.62,298.98 68.45,300.03 69.29,299.76 70.12,300.32 70.96,299.69 71.79,300.85 72.63,300.13 73.46,299.84 74.29,299.1 75.13,299.12 75.96,297.77 76.8,298.04 77.63,298.55 78.47,300.33 79.3,299.85 80.13,300.69 80.97,300.1 81.8,300.53 82.64,298.98 83.47,299.55 84.31,300.33 85.14,299.95 85.97,299.94 86.81,300.27 87.64,299.73 88.48,298.49 89.31,299.48 90.15,298.62 90.98,299.87 91.81,299.42 92.65,299.26 93.48,299.42 94.32,300.4 95.15,299.16 95.99,299.26 96.82,299.4 97.65,299.27 98.49,298.57 99.32,298.17 100.16,299.9 100.99,300.62 101.83,300.25 102.66,301.16 103.49,301.92 104.33,301.69 105.16,302.12 106,303.24 106.83,303.22 107.67,303.54 108.5,303.32 109.33,303.34 110.17,301.78 111,302.45 111.84,301.91 112.67,302.66 113.51,301.5 114.34,302.53 115.17,301.29 116.01,301.8 116.84,300.76 117.68,302.35 118.51,302.84 119.35,303.61 120.18,302.81 121.01,303.07 121.85,302.04 122.68,300.97 123.52,300.23 124.35,301.7 125.19,302.12 126.02,301.97 126.85,301.45 127.69,301.58 128.52,300.32 129.36,299.15 130.19,298.79 131.03,300.78 131.86,300.93 132.69,301.81 133.53,302.4 134.36,303.14 135.2,302.53 136.03,302.77 136.87,302.83 137.7,303.38" fill="none" stroke="#a0a0a0" stroke-width="0.3" />
<polyline points="29,268.12 29.31,283.16 29.62,278.99 29.94,271.08 30.25,269.62 30.56,260.92 30.87,256.63 31.19,262.38 31.5,263.93 31.81,265.09 32.12,272.43 32.44,269.93 32.75,256.26 33.06,258.95 33.37,259.43 33.69,257.26 34,257.21 34.31,265 34.62,260.5 34.93,265.05 35.25,261.03 35.56,267.5 35.87,264.87 36.18,260.61 36.5,257.85 36.81,272.07 37.12,259.44 37.43,269.06 37.75,260.01 38.06,269.21 38.42,272.85 39.25,283.95 40.09,286.16 40.92,288.36 41.76,285.89 42.59,285.7 43.43,286.24 44.26,282.88 45.09,285.6 45.93,285.98 46.76,287.56 47.6,285.45 48.43,285.84 49.27,284.29 50.1,284.67 50.93,282.15 51.77,280.9 52.6,283.28 53.44,282.72 54.27,286.21 55.11,289.12 55.94,290.81 56.77,291.41 57.61,294.7 58.44,296.83 59.28,298.18 60.11,298.57 60.95,299.4 61.78,299.67 62.61,300.05 63.45,298.68 64.28,298.94 65.12,299.04 65.95,298.14 66.79,296.05 67.62,297.7 68.45,299.03 69.29,298.25 70.12,299.27 70.96,299.98 71.79,299.21 72.63,297.12 73.46,297.76 74.29,297.71 75.13,298.17 75.96,299.62 76.8,300.06 77.63,300.01 78.47,300.23 79.3,300.41 80.13,300.11 80.97,300.59 81.8,301.34 82.64,300.58 83.47,299.94 84.31,298.26 85.14,298.51 85.97,297.36 86.81,298.37 87.64,297.67 88.48,297.97 89.31,295.69 90.15,295.65 90.98,295.22 91.81,295.98 92.65,296.47 93.48,297.02 94.32,297.55 95.15,297.61 95.99,296.99 96.82,296.26 97.65,297.37 98.49,297.84 99.32,297.76 100.16,298.54 100.99,299.35 101.83,299.94 102.66,299.46 103.49,300.29 104.33,299.77 105.16,299.94 106,300.82 106.83,300.89 107.67,299.86 108.5,300.68 109.33,300.32 110.17,298.31 111,299.45 111.84,300.42 112.67,300.02 113.51,301.58 114.34,301.96 115.17,301.48 116.01,301.23 116.84,301.51 117.68,299.75 118.51,300.32 119.35,300.49 120.18,299.85 121.01,300 121.85,300.21 122.68,300.75 123.52,300.58 124.35,302.45 125.19,303.32 126.02,303.06 126.85,302.52 127.69,303.29 128.52,301.89 129.36,301.58 130.19,301.58 131.03,301.87 131.86,299.99 132.69,300.81 133.53,300.42 134.36,300.66 135.2,301.1 136.03,302.85 136.87,302.99 137.7,302.88" fill="none" stroke="#a0a0a0" stroke-width="0.3" />
<polyline points="29,253.26 29.31,285.94 29.62,280.69 29.94,278.22 30.25,266.17 30.56,267.4 30.87,258.56 31.19,268.55 31.5,262.89 31.81,259.72 32.12,275.38 32.44,267.24 32.75,273.17 33.06,264.97 33.37,274.76 33.69,265.7 34,260.32 34.31,255 34.62,260.93 34.93,264.4 35.25,265.34 35.56,269.54 35.87,269.24 36.18,278.1 36.5,261.73 36.81,254.7 37.12,273.06 37.43,266.2 37.75,265.83 38.06,268.34 38.42,275.8 39.25,277.03 40.09,278.57 40.92,278.27 41.76,284.51 42.59,283.53 43.43,285.42 44.26,289.12 45.09,287.86 45.93,288.26 46.76,291.36 47.6,291.24 48.43,287.43 49.27,292.18 50.1,293.35 50.93,292.86 51.77,293.78 52.6,298.31 53.44,298.35 54.27,297.31 55.11,297.85 55.94,298.19 56.77,297.83 57.61,297.05 58.44,298.56 59.28,297.68 60.11,298.59 60.95,298 61.78,298.77 62.61,299.47 63.45,300.91 64.28,300.05 65.12,300.5 65.95,300.64 66.79,300.62 67.62,300.31 68.45,301.31 69.29,301.4 70.12,300.85 70.96,301.17 71.79,301.02 72.63,300.94 73.46,300.04 74.29,300.13 75.13,298.34 75.96,297.25 76.8,296.37 77.63,296.65 78.47,296.31 79.3,297.81 80.13,299.86 80.97,300.05 81.8,300.45 82.64,300.89 83.47,300.5 84.31,299.69 85.14,299.65 85.97,298.95 86.81,299.22 87.64,299.37 88.48,298.58 89.31,298.29 90.15,298.16 90.98,298.9 91.81,297.46 92.65,298.45 93.48,299.32 94.32,299.8 95.15,299.61 95.99,301.11 96.82,302 97.65,302.2 98.49,302.09 99.32,301.41 100.16,301.52 100.99,300.35 101.83,298.4 102.66,299.21 103.49,300.29 104.33,299.26 105.16,298.8 106,300.9 106.83,300.43 107.67,299.17 108.5,300.37 109.33,300.69 110.17,300.05 111,300.3 111.84,301.49 112.67,300.14 113.51,301.02 114.34,300.78 115.17,302.01 116.01,301.25 116.84,302.65 117.68,302.11 118.51,301.92 119.35,302 120.18,302.3 121.01,302.43 121.85,302.57 122.68,303.11 123.52,301.59 124.35,301.32 125.19,300.6 126.02,300.57 126.85,300.67 127.69,302.17 128.52,303.22 129.36,303.28 130.19,302.1 131.03,302.24 131.86,302.17 132.69,301.64 133.53,301.72 134.36,302.99 135.2,302.36 136.03,301.65 136.87,301.07 137.7,301.51" fill="none" stroke="#a0a0a0" stroke-width="0.3" />
<polyline points="29,285.17 29.31,289.22 29.62,286.97 29.94,279.24 30.25,273.76 30.56,273.8 30.87,264.06 31.19,272.11 31.5,263.61 31.81,268.58 32.12,271.53 32.44,274.06 32.75,268.6 33.06,270.08 33.37,275.36 33.69,278.03 34,260.18 34.31,272.21 34.62,263.03 34.93,271.95 35.25,267.71 35.56,271.54 35.87,263.07 36.18,265.99 36.5,273.95 36.81,271.04 37.12,267.6 37.43,264.9 37.75,271.92 38.06,261.94 38.42,272.07 39.25,269.54 40.09,277.21 40.92,281.15 41.76,286.69 42.59,287.53 43.43,288.17 44.26,288.34 45.09,289.99 45.93,289.76 46.76,291.99 47.6,289.54 48.43,289.45 49.27,289.36 50.1,291.25 50.93,292.38 51.77,295.56 52.6,297.03 53.44,296.65 54.27,295.7 55.11,296.11 55.94,295.53 56.77,294.28 57.61,293 58.44,293.83 59.28,294 60.11,292.67 60.95,294.32 61.78,294.04 62.61,295.1 63.45,294 64.28,295.09 65.12,293.04 65.95,297.23 66.79,297.07 67.62,299.34 68.45,299.61 69.29,301.46 70.12,300.5 70.96,300.79 71.79,300.05 72.63,301.57 73.46,301.27 74.29,300.77 75.13,300.48 75.96,300.14 76.8,299.27 77.63,299.72 78.47,298.35 79.3,298.43 80.13,298.88 80.97,298.52 81.8,297.44 82.64,300.33 83.47,300.33 84.31,299.53 85.14,299.39 85.97,300.9 86.81,300.6 87.64,300.15 88.48,301.02 89.31,301.47 90.15,300.56 90.98,299.85 91.81,300.13 92.65,300.67 93.48,301.01 94.32,301.49 95.15,302.64 95.99,303.02 96.82,302.32 97.65,302.01 98.49,301.23 99.32,300.37 100.16,301.01 100.99,301.72 101.83,301.07 102.66,301.24 103.49,301.98 104.33,302.08 105.16,300.26 106,301.88 106.83,302.7 107.67,301.71 108.5,301.62 109.33,303.01 110.17,301.59 111,301.34 111.84,302.4 112.67,301.84 113.51,302.29 114.34,302.68 115.17,302.29 116.01,301.95 116.84,301.92 117.68,301.26 118.51,302.3 119.35,302.53 120.18,302.94 121.01,303.09 121.85,303.82 122.68,304.16 123.52,304.31 124.35,303.89 125.19,303.86 126.02,303.07 126.85,302.18 127.69,302.78 128.52,302.71 129.36,302.41 130.19,302.72 131.03,302.76 131.86,302.33 132.69,302.55 133.53,303.63 134.36,304.23 135.2,304.34 136.03,304.42 136.87,304.07 137.7,303.84" fill="none" stroke="#a0a0a0" stroke-width="0.3" />
<polyline points="29,289.76 29.31,285.66 29.62,281.57 29.94,277.47 30.25,273.37 30.56,269.28 30.87,266 31.19,266 31.5,266 31.81,266 32.12,266 32.44,266 32.75,266 33.06,266 33.37,266 33.69,266 34,266 34.31,266 34.62,266 34.93,266 35.25,266 35.56,266 35.87,266 36.18,266 36.5,266 36.81,266 37.12,266 37.43,267.3 37.75,268.65 38.06,269.91 38.42,271.27 39.25,274.06 40.09,276.45 40.92,278.52 41.76,280.33 42.59,281.93 43.43,283.35 44.26,284.63 45.09,285.78 45.93,286.82 46.76,287.77 47.6,288.63 48.43,289.43 49.27,290.17 50.1,290.84 50.93,291.47 51.77,292.06 52.6,292.61 53.44,293.12 54.27,293.59 55.11,294.04 55.94,294.47 56.77,294.87 57.61,295.24 58.44,295.6 59.28,295.94 60.11,296.26 60.95,296.56 61.78,296.85 62.61,297.13 63.45,297.39 64.28,297.64 65.12,297.88 65.95,298.11 66.79,298.33 67.62,298.55 68.45,298.75 69.29,298.94 70.12,299.07 70.96,299.11 71.79,299.15 72.63,299.19 73.46,299.23 74.29,299.27 75.13,299.31 75.96,299.35 76.8,299.39 77.63,299.43 78.47,299.47 79.3,299.51 80.13,299.55 80.97,299.59 81.8,299.63 82.64,299.67 83.47,299.71 84.31,299.74 85.14,299.78 85.97,299.82 86.81,299.86 87.64,299.9 88.48,299.94 89.31,299.98 90.15,300.02 90.98,300.06 91.81,300.1 92.65,300.14 93.48,300.18 94.32,300.22 95.15,300.26 95.99,300.3 96.82,300.34 97.65,300.38 98.49,300.42 99.32,300.46 100.16,300.5 100.99,300.54 101.83,300.58 102.66,300.62 103.49,300.66 104.33,300.7 105.16,300.74 106,300.78 106.83,300.82 107.67,300.86 108.5,300.9 109.33,300.94 110.17,300.98 111,301.02 111.84,301.06 112.67,301.1 113.51,301.14 114.34,301.18 115.17,301.22 116.01,301.26 116.84,301.3 117.68,301.34 118.51,301.38 119.35,301.42 120.18,301.46 121.01,301.5 121.85,301.54 122.68,301.58 123.52,301.61 124.35,301.65 125.19,301.69 126.02,301.73 126.85,301.77 127.69,301.81 128.52,301.85 129.36,301.89 130.19,301.93 131.03,301.97 131.86,302.01 132.69,302.05 133.53,302.09 134.36,302.13 135.2,302.17 136.03,302.21 136.87,302.25 137.7,302.29" fill="none" stroke="#c0392b" stroke-width="1.3" />
<polyline points="29,289.76 29.31,285.66 29.62,281.57 29.94,277.47 30.25,273.37 30.56,269.28 30.87,266 31.19,266 31.5,266 31.81,266 32.12,266 32.44,266 32.75,266 33.06,266 33.37,266 33.69,266 34,266 34.31,266 34.62,266 34.93,266 35.25,266 35.56,266 35.87,266 36.18,266 36.5,266 36.81,266 37.12,266 37.43,267.3 37.75,268.65 38.06,269.91 38.42,271.27 39.25,274.06 40.09,276.45 40.92,278.52 41.76,280.33 42.59,281.93 43.43,283.35 44.26,284.63 45.09,285.78 45.93,286.82 46.76,287.77 47.6,288.63 48.43,289.43 49.27,290.17 50.1,290.84 50.93,291.47 51.77,292.06 52.6,292.61 53.44,293.12 54.27,293.59 55.11,294.04 55.94,294.47 56.77,294.87 57.61,295.24 58.44,295.6 59.28,295.94 60.11,296.26 60.95,296.56 61.78,296.85 62.61,297.13 63.45,297.39 64.28,297.64 65.12,297.88 65.95,298.11 66.79,298.33 67.62,298.55 68.45,298.75 69.29,298.94 70.12,299.07 70.96,299.11 71.79,299.15 72.63,299.19 73.46,299.23 74.29,299.27 75.13,299.31 75.96,299.35 76.8,299.39 77.63,299.43 78.47,299.47 79.3,299.51 80.13,299.55 80.97,299.59 81.8,299.63 82.64,299.67 83.47,299.71 84.31,299.74 85.14,299.78 85.97,299.82 86.81,299.86 87.64,299.9 88.48,299.94 89.31,299.98 90.15,300.02 90.98,300.06 91.81,300.1 92.65,300.14 93.48,300.18 94.32,300.22 95.15,300.26 95.99,300.3 96.82,300.34 97.65,300.38 98.49,300.42 99.32,300.46 100.16,300.5 100.99,300.54 101.83,300.58 102.66,300.62 103.49,300.66 104.33,300.7 105.16,300.74 106,300.78 106.83,300.82 107.67,300.86 108.5,300.9 109.33,300.94 110.17,300.98 111,301.02 111.84,301.06 112.67,301.1 113.51,301.14 114.34,301.18 115.17,301.22 116.01,301.26 116.84,301.3 117.68,301.34 118.51,301.38 119.35,301.42 120.18,301.46 121.01,301.5 121.85,301.54 122.68,301.58 123.52,301.61 124.35,301.65 125.19,301.69 126.02,301.73 126.85,301.77 127.69,301.81 128.52,301.85 129.36,301.89 130.19,301.93 131.03,301.97 131.86,302.01 132.69,302.05 133.53,302.09 134.36,302.13 135.2,302.17 136.03,302.21 136.87,302.25 137.7,302.29" fill="none" stroke="#7fff00" stroke-width="1.3" stroke-dasharray="1.8 1.8"/>
<rect x="29" y="222.8" width="108.7" height="86.4" fill="none" stroke="#c4c4c4" stroke-width="0.5" />
<line x1="29" y1="309.2" x2="29" y2="307.9" stroke="#777" stroke-width="0.4" />
<text x="29" y="315.2" font-size="4.9" font-family="'Liberation Serif', serif" text-anchor="middle" fill="#444" >0</text>
<line x1="47.12" y1="309.2" x2="47.12" y2="307.9" stroke="#777" stroke-width="0.4" />
<text x="47.12" y="315.2" font-size="4.9" font-family="'Liberation Serif', serif" text-anchor="middle" fill="#444" >1</text>
<line x1="65.23" y1="309.2" x2="65.23" y2="307.9" stroke="#777" stroke-width="0.4" />
<text x="65.23" y="315.2" font-size="4.9" font-family="'Liberation Serif', serif" text-anchor="middle" fill="#444" >2</text>
<line x1="83.35" y1="309.2" x2="83.35" y2="307.9" stroke="#777" stroke-width="0.4" />
<text x="83.35" y="315.2" font-size="4.9" font-family="'Liberation Serif', serif" text-anchor="middle" fill="#444" >3</text>
<line x1="101.47" y1="309.2" x2="101.47" y2="307.9" stroke="#777" stroke-width="0.4" />
<text x="101.47" y="315.2" font-size="4.9" font-family="'Liberation Serif', serif" text-anchor="middle" fill="#444" >4</text>
<line x1="119.58" y1="309.2" x2="119.58" y2="307.9" stroke="#777" stroke-width="0.4" />
<text x="119.58" y="315.2" font-size="4.9" font-family="'Liberation Serif', serif" text-anchor="middle" fill="#444" >5</text>
<line x1="137.7" y1="309.2" x2="137.7" y2="307.9" stroke="#777" stroke-width="0.4" />
<text x="137.7" y="315.2" font-size="4.9" font-family="'Liberation Serif', serif" text-anchor="middle" fill="#444" >6</text>
<line x1="29" y1="309.2" x2="30.3" y2="309.2" stroke="#777" stroke-width="0.4" />
<text x="27.2" y="310.9" font-size="4.9" font-family="'Liberation Serif', serif" text-anchor="end" fill="#444" >0</text>
<line x1="29" y1="291.92" x2="30.3" y2="291.92" stroke="#777" stroke-width="0.4" />
<text x="27.2" y="293.62" font-size="4.9" font-family="'Liberation Serif', serif" text-anchor="end" fill="#444" >0.2</text>
<line x1="29" y1="274.64" x2="30.3" y2="274.64" stroke="#777" stroke-width="0.4" />
<text x="27.2" y="276.34" font-size="4.9" font-family="'Liberation Serif', serif" text-anchor="end" fill="#444" >0.4</text>
<line x1="29" y1="257.36" x2="30.3" y2="257.36" stroke="#777" stroke-width="0.4" />
<text x="27.2" y="259.06" font-size="4.9" font-family="'Liberation Serif', serif" text-anchor="end" fill="#444" >0.6</text>
<line x1="29" y1="240.08" x2="30.3" y2="240.08" stroke="#777" stroke-width="0.4" />
<text x="27.2" y="241.78" font-size="4.9" font-family="'Liberation Serif', serif" text-anchor="end" fill="#444" >0.8</text>
<line x1="29" y1="222.8" x2="30.3" y2="222.8" stroke="#777" stroke-width="0.4" />
<text x="27.2" y="224.5" font-size="4.9" font-family="'Liberation Serif', serif" text-anchor="end" fill="#444" >1</text>
<text x="66.6" y="323.6" font-size="5.89" font-family="'Liberation Serif', serif" textLength="21.6" lengthAdjust="spacingAndGlyphs" >Period(s)</text>
<text x="16.6" y="266.2" font-size="5.78" font-family="'Liberation Serif', serif" text-anchor="middle" textLength="55" lengthAdjust="spacingAndGlyphs" transform="rotate(-90 16.6 266.2)" >Spectral acceleration(g)</text>
<rect x="40.8" y="222.8" width="96.5" height="20.4" fill="#fff" stroke="#cccccc" stroke-width="0.4" />
<line x1="42" y1="227" x2="52.5" y2="227" stroke="#cfcfcf" stroke-width="0.7" />
<line x1="42" y1="233.4" x2="52.5" y2="233.4" stroke="#c0392b" stroke-width="1.1" />
<line x1="42" y1="239.5" x2="52.5" y2="239.5" stroke="#7fff00" stroke-width="1.1" stroke-dasharray="1.8 1.6"/>
<text x="55.1" y="228.4" font-size="4.98" font-family="'Liberation Serif', serif" fill="#111" textLength="63.6" lengthAdjust="spacingAndGlyphs" >Acceleration response spectrum</text>
<text x="55.1" y="234.8" font-size="5.1" font-family="'Liberation Serif', serif" fill="#222" textLength="51.9" lengthAdjust="spacingAndGlyphs" >Target response spectrum</text>
<text x="55.1" y="241.1" font-size="5.02" font-family="'Liberation Serif', serif" fill="#222" textLength="80.9" lengthAdjust="spacingAndGlyphs" >Mean response spectrum of acceleration</text>
<text x="50" y="343.1" font-size="7.22" font-family="'Liberation Serif', serif" stroke="#000" stroke-width="0.1" textLength="58.7" lengthAdjust="spacingAndGlyphs" >Spectrum correction</text>
<line x1="140.2" y1="271.8" x2="156.2" y2="271.8" stroke="#000" stroke-width="0.9" />
<polygon points="159.3,271.8 155.7,270.25 155.7,273.35" fill="#000"/>
<polyline points="180.4,236.51 180.52,235.8 180.64,237.86 180.76,235.51 180.89,236.74 181.01,237.35 181.13,237.4 181.25,237.7 181.37,236.92 181.49,235.84 181.62,236.07 181.74,235.97 181.86,238.73 181.98,238.66 182.1,234.67 182.22,235.38 182.35,233.62 182.47,234.92 182.59,238.26 182.71,234.67 182.83,235.68 182.95,236.34 183.08,238.13 183.2,236.7 183.32,236.97 183.44,235.02 183.56,236.46 183.68,233.57 183.8,238.27 183.93,235.73 184.05,235.65 184.17,238.57 184.29,239.3 184.41,234.42 184.53,235.51 184.66,237.08 184.78,235.76 184.9,238.34 185.02,236.11 185.14,238.23 185.26,236.22 185.39,234.12 185.51,237.6 185.63,234.4 185.75,239.54 185.87,237.51 185.99,240.57 186.12,236.99 186.24,236.47 186.36,237.29 186.48,237.51 186.6,232.59 186.72,232.27 186.84,240.54 186.97,232.94 187.09,242.29 187.21,239.12 187.33,237.28 187.45,236.32 187.57,240.29 187.7,239.21 187.82,236.43 187.94,239.17 188.06,239.01 188.18,234.27 188.3,233.25 188.43,236.92 188.55,236.63 188.67,236.78 188.79,238.46 188.91,238.71 189.03,240.82 189.16,234.1 189.28,237.04 189.4,237.26 189.52,235.87 189.64,234.47 189.76,230.67 189.88,237.87 190.01,238.44 190.13,235.82 190.25,240.44 190.37,231.01 190.49,232.52 190.61,233.54 190.74,237.25 190.86,233.26 190.98,231.77 191.1,234.33 191.22,238.04 191.34,244.84 191.47,232.08 191.59,238.44 191.71,240.89 191.83,232.22 191.95,234.98 192.07,244.03 192.2,237.22 192.32,238.13 192.44,231.37 192.56,247.01 192.68,238.82 192.8,237.47 192.93,228.69 193.05,242.89 193.17,253.69 193.29,244.79 193.41,235.14 193.53,231.86 193.65,226.21 193.78,234.25 193.9,241.66 194.02,231.17 194.14,236.77 194.26,237.98 194.38,236.59 194.51,228.38 194.63,242.65 194.75,243.52 194.87,237.15 194.99,237.15 195.11,242.29 195.24,242.8 195.36,234.06 195.48,227.24 195.6,231.61 195.72,231.76 195.84,227.64 195.97,251.32 196.09,247.89 196.21,241.98 196.33,245.72 196.45,244.23 196.57,236.16 196.69,246.65 196.82,240.17 196.94,252.81 197.06,244.45 197.18,225.91 197.3,241.09 197.42,234.06 197.55,230.92 197.67,240.71 197.79,231.96 197.91,234.94 198.03,230.97 198.15,241.93 198.28,248.56 198.4,245.13 198.52,241.29 198.64,232.26 198.76,238.39 198.88,240.01 199.01,238.19 199.13,227.54 199.25,241.5 199.37,224.07 199.49,246.97 199.61,241.66 199.73,229.52 199.86,232.35 199.98,243.9 200.1,237.62 200.22,242.69 200.34,229.5 200.46,232.13 200.59,242.75 200.71,233.33 200.83,239.82 200.95,237.31 201.07,236.15 201.19,241.52 201.32,233.06 201.44,232.75 201.56,233.04 201.68,227.2 201.8,239.04 201.92,249.49 202.05,240.93 202.17,234.96 202.29,236.51 202.41,231.68 202.53,229.69 202.65,237.72 202.77,237.66 202.9,245.32 203.02,227.67 203.14,239.01 203.26,246.2 203.38,246.49 203.5,240.35 203.63,223 203.75,229.89 203.87,251.66 203.99,237.79 204.11,234.36 204.23,231.14 204.36,233.65 204.48,242.4 204.6,233.03 204.72,241.65 204.84,254.5 204.96,243.04 205.09,242.85 205.21,228.14 205.33,227.21 205.45,246.11 205.57,235.13 205.69,235.89 205.81,249.68 205.94,254.5 206.06,237.54 206.18,235.47 206.3,242.06 206.42,254.5 206.54,236.97 206.67,241.9 206.79,244.68 206.91,239.61 207.03,246.8 207.15,231.69 207.27,236.61 207.4,241.69 207.52,234.19 207.64,236.99 207.76,250.2 207.88,237.98 208,240.76 208.13,252.12 208.25,242.47 208.37,232.93 208.49,242.17 208.61,224.29 208.73,221.74 208.85,239.4 208.98,231.84 209.1,219.21 209.22,239.61 209.34,244.57 209.46,240.39 209.58,248.71 209.71,248.47 209.83,234.88 209.95,240.33 210.07,234.56 210.19,232.46 210.31,243.33 210.44,238.38 210.56,239.03 210.68,242.48 210.8,243.92 210.92,233.98 211.04,237.91 211.17,233.84 211.29,228.1 211.41,228 211.53,246.23 211.65,244.03 211.77,238.89 211.89,235.64 212.02,228.7 212.14,244.9 212.26,240.42 212.38,234.6 212.5,226.27 212.62,225.01 212.75,245.22 212.87,238.49 212.99,243.52 213.11,229.55 213.23,232.93 213.35,239.71 213.48,241.84 213.6,234.22 213.72,228.48 213.84,243.13 213.96,239.41 214.08,235.76 214.21,236.55 214.33,233.88 214.45,245.01 214.57,241.62 214.69,253.99 214.81,236.24 214.94,227.97 215.06,253.4 215.18,241.8 215.3,229.48 215.42,237.84 215.54,251.79 215.66,227.44 215.79,247.94 215.91,225.95 216.03,241.26 216.15,242.19 216.27,236.49 216.39,236.87 216.52,232.11 216.64,232.88 216.76,237.82 216.88,226.74 217,231.35 217.12,234.66 217.25,235.7 217.37,237.4 217.49,237.27 217.61,231.85 217.73,233.26 217.85,236.41 217.98,229.41 218.1,238.57 218.22,233.6 218.34,230.63 218.46,244.54 218.58,238.55 218.7,225.1 218.83,243.32 218.95,228.78 219.07,243.94 219.19,233.94 219.31,243.89 219.43,240.84 219.56,239.21 219.68,240.34 219.8,230.04 219.92,231.23 220.04,231.02 220.16,235.45 220.29,226.15 220.41,230.11 220.53,234.63 220.65,243.34 220.77,232.39 220.89,232.62 221.02,236.11 221.14,232.3 221.26,231.98 221.38,238.52 221.5,233.28 221.62,234.61 221.74,234.83 221.87,238.73 221.99,239.43 222.11,236 222.23,228.36 222.35,223.24 222.47,238.83 222.6,242.72 222.72,238.64 222.84,241.4 222.96,239.04 223.08,234.49 223.2,241.78 223.33,233.33 223.45,232.33 223.57,228.36 223.69,226.73 223.81,231.25 223.93,224.37 224.06,239.41 224.18,235.21 224.3,235.77 224.42,234.35 224.54,231.23 224.66,238.42 224.78,227.62 224.91,229.97 225.03,234.84 225.15,234.23 225.27,241.73 225.39,249.57 225.51,237.12 225.64,235.03 225.76,235.49 225.88,242.28 226,238.95 226.12,227.77 226.24,232.98 226.37,233.56 226.49,238.2 226.61,232.97 226.73,230.27 226.85,232.9 226.97,238.64 227.1,235.25 227.22,240.93 227.34,238.12 227.46,233.78 227.58,239.21 227.7,237.75 227.82,229.8 227.95,237.43 228.07,233.01 228.19,238.05 228.31,241.96 228.43,236.61 228.55,238.3 228.68,245.93 228.8,242.17 228.92,238.56 229.04,229.9 229.16,239.24 229.28,236.78 229.41,233.8 229.53,235.33 229.65,238.14 229.77,229.09 229.89,230.72 230.01,247.36 230.14,232.43 230.26,234.27 230.38,232.39 230.5,236.25 230.62,233.09 230.74,228.4 230.86,229.35 230.99,229.06 231.11,232.2 231.23,232.76 231.35,232.7 231.47,241.28 231.59,227.24 231.72,235.66 231.84,235.31 231.96,236.15 232.08,234.72 232.2,245.19 232.32,235.71 232.45,241.7 232.57,240.56 232.69,243.99 232.81,243.4 232.93,234.35 233.05,238.55 233.18,237.05 233.3,237.31 233.42,241.1 233.54,239.36 233.66,241.44 233.78,237.83 233.91,245 234.03,238.14 234.15,233.28 234.27,232.21 234.39,232.47 234.51,234.86 234.63,240.33 234.76,233.4 234.88,234.81 235,235.73 235.12,241 235.24,235.3 235.36,231.72 235.49,234.09 235.61,237.49 235.73,234.8 235.85,236.68 235.97,236.08 236.09,233.82 236.22,235.53 236.34,236.45 236.46,235.41 236.58,239.41 236.7,239.98 236.82,235.11 236.95,238.63 237.07,234.89 237.19,242.63 237.31,232.85 237.43,237.02 237.55,231.4 237.67,244.53 237.8,241.99 237.92,232.29 238.04,236.2 238.16,235.75 238.28,236.31 238.4,236.2 238.53,235.04 238.65,239.76 238.77,237.19 238.89,232.76 239.01,236.14 239.13,238.54 239.26,236.4 239.38,233.59 239.5,237.27 239.62,237.2 239.74,235.25 239.86,234.22 239.99,232.42 240.11,237.05 240.23,235.68 240.35,233.71 240.47,242.06 240.59,236.27 240.71,235.38 240.84,236.9 240.96,239.03 241.08,235.05 241.2,233.26 241.32,236.9 241.44,237.97 241.57,237.24 241.69,232.48 241.81,233.34 241.93,236.54 242.05,239.54 242.17,239.97 242.3,237.49 242.42,237.46 242.54,235.95 242.66,239.54 242.78,236.96 242.9,235.29 243.03,240.9 243.15,230.88 243.27,235.2 243.39,235.33 243.51,239.84 243.63,239.15 243.75,234.15 243.88,234.48 244,242.49 244.12,233.86 244.24,234.89 244.36,235.15 244.48,239.23 244.61,236.02 244.73,238.03 244.85,235.32 244.97,232.4 245.09,235.16 245.21,234.31 245.34,237.32 245.46,238.9 245.58,236.58 245.7,234.32 245.82,233.39 245.94,236.74 246.07,236.06 246.19,237.46 246.31,240.27 246.43,236.42 246.55,235.87 246.67,237.47 246.79,236.96 246.92,240.31 247.04,236.49 247.16,233.8 247.28,236.65 247.4,235.42 247.52,235.73 247.65,238.1 247.77,236.2 247.89,238.2 248.01,230.99 248.13,236.22 248.25,238.68 248.38,239.5 248.5,233.83 248.62,235.48 248.74,235.89 248.86,239.1 248.98,237.63 249.11,238.79 249.23,234.66 249.35,237.54 249.47,233.25 249.59,235.72 249.71,237.18 249.83,234.34 249.96,240.17 250.08,238.02 250.2,237.29 250.32,234.87 250.44,234.87 250.56,236.05 250.69,239.47 250.81,237.47 250.93,238.36 251.05,234.68 251.17,237.31 251.29,235.73 251.42,233.79 251.54,236.74 251.66,235.57 251.78,237.21 251.9,236.56 252.02,236.57 252.15,236.61 252.27,236.53 252.39,237.22 252.51,233.84 252.63,237.6 252.75,236.27 252.87,237.08 253,239.98 253.12,235.2 253.24,236.3 253.36,238.66 253.48,237.71 253.6,239 253.73,236.23 253.85,234.37 253.97,234.88 254.09,238.52 254.21,239.13 254.33,235.89 254.46,234.23 254.58,236.58 254.7,235.15 254.82,238.64 254.94,236.81 255.06,236.03 255.19,237.24 255.31,236.98 255.43,235.7 255.55,237.54 255.67,238.05 255.79,235.62 255.92,236.33 256.04,238.05 256.16,236.07 256.28,237.44 256.4,235.79 256.52,236.68 256.64,237.06 256.77,237.72 256.89,236.4 257.01,236.73 257.13,234.12 257.25,236.73 257.37,238.48 257.5,233.9 257.62,239.39 257.74,234.48 257.86,237.82 257.98,234.84 258.1,236.92 258.23,235.96 258.35,236.64 258.47,236.82 258.59,236 258.71,237.51 258.83,236.06 258.96,238.08 259.08,237.62 259.2,237.33 259.32,236.81 259.44,235.13 259.56,237.75 259.68,237.78 259.81,238.11 259.93,237.2 260.05,235.98 260.17,237.62 260.29,237.06 260.41,237.42 260.54,236.59 260.66,239.18 260.78,235.96 260.9,235.56 261.02,237.72 261.14,236.78 261.27,237.8 261.39,235.48 261.51,235.93 261.63,233.19 261.75,236.94 261.87,237.74 262,237.26 262.12,238.19 262.24,236.44 262.36,236.32 262.48,235.6 262.6,236.21 262.72,237.17 262.85,235.17 262.97,236.01 263.09,235.72 263.21,238.03 263.33,237.64 263.45,237.41 263.58,237.12 263.7,239.17 263.82,235.31 263.94,236.91 264.06,235.71 264.18,235.8 264.31,234.99 264.43,236.02 264.55,236.24 264.67,237.48 264.79,236.52 264.91,234.72 265.04,238.59 265.16,237.42 265.28,236.35 265.4,234.89" fill="none" stroke="#0000ff" stroke-width="0.42" />
<rect x="180.4" y="218.6" width="85" height="36.2" fill="none" stroke="#666" stroke-width="0.6" />
<line x1="180.4" y1="218.6" x2="181.7" y2="218.6" stroke="#333" stroke-width="0.4" />
<line x1="265.4" y1="218.6" x2="264.1" y2="218.6" stroke="#333" stroke-width="0.4" />
<text x="178.6" y="220.6" font-size="5.6" font-family="'Liberation Serif', serif" text-anchor="end" >2</text>
<line x1="180.4" y1="236.7" x2="181.7" y2="236.7" stroke="#333" stroke-width="0.4" />
<line x1="265.4" y1="236.7" x2="264.1" y2="236.7" stroke="#333" stroke-width="0.4" />
<text x="178.6" y="238.7" font-size="5.6" font-family="'Liberation Serif', serif" text-anchor="end" >0</text>
<line x1="180.4" y1="254.8" x2="181.7" y2="254.8" stroke="#333" stroke-width="0.4" />
<line x1="265.4" y1="254.8" x2="264.1" y2="254.8" stroke="#333" stroke-width="0.4" />
<text x="178.6" y="256.8" font-size="5.6" font-family="'Liberation Serif', serif" text-anchor="end" >&#8722;2</text>
<line x1="180.4" y1="254.8" x2="180.4" y2="253.5" stroke="#333" stroke-width="0.4" />
<line x1="180.4" y1="218.6" x2="180.4" y2="219.9" stroke="#333" stroke-width="0.4" />
<text x="180.4" y="261.6" font-size="5.6" font-family="'Liberation Serif', serif" text-anchor="middle" >0</text>
<line x1="208.73" y1="254.8" x2="208.73" y2="253.5" stroke="#333" stroke-width="0.4" />
<line x1="208.73" y1="218.6" x2="208.73" y2="219.9" stroke="#333" stroke-width="0.4" />
<text x="208.73" y="261.6" font-size="5.6" font-family="'Liberation Serif', serif" text-anchor="middle" >10</text>
<line x1="237.07" y1="254.8" x2="237.07" y2="253.5" stroke="#333" stroke-width="0.4" />
<line x1="237.07" y1="218.6" x2="237.07" y2="219.9" stroke="#333" stroke-width="0.4" />
<text x="237.07" y="261.6" font-size="5.6" font-family="'Liberation Serif', serif" text-anchor="middle" >20</text>
<line x1="265.4" y1="254.8" x2="265.4" y2="253.5" stroke="#333" stroke-width="0.4" />
<line x1="265.4" y1="218.6" x2="265.4" y2="219.9" stroke="#333" stroke-width="0.4" />
<text x="265.4" y="261.6" font-size="5.6" font-family="'Liberation Serif', serif" text-anchor="middle" >30</text>
<text x="213" y="269.8" font-size="5.94" font-family="'Liberation Serif', serif" textLength="18.6" lengthAdjust="spacingAndGlyphs" >Time(s)</text>
<text x="167.6" y="236.7" font-size="6" font-family="'Liberation Serif', serif" text-anchor="middle" transform="rotate(-90 167.6 236.7)" >Acceleration(m/s<tspan font-size="3.9" dy="-2">2</tspan><tspan dy="2">)</tspan></text>
<polyline points="180.4,294.88 180.52,295.44 180.64,294.72 180.76,295.07 180.89,296.29 181.01,294.28 181.13,295.19 181.25,294.53 181.37,293.3 181.49,294.82 181.62,296.27 181.74,295.88 181.86,293.88 181.98,296.92 182.1,294.76 182.22,294.59 182.35,296.73 182.47,294.85 182.59,294.25 182.71,296.32 182.83,295.88 182.95,294.18 183.08,297.36 183.2,296.68 183.32,293.34 183.44,294.94 183.56,297.84 183.68,295.08 183.8,291.17 183.93,298.23 184.05,293.38 184.17,293.46 184.29,295.49 184.41,293.74 184.53,296.65 184.66,291.49 184.78,291 184.9,297.24 185.02,295.63 185.14,294.77 185.26,296.71 185.39,294.18 185.51,297.86 185.63,293.54 185.75,295.93 185.87,295.24 185.99,293.76 186.12,292.43 186.24,297.98 186.36,292.75 186.48,292.45 186.6,295.45 186.72,290.32 186.84,297.51 186.97,296.85 187.09,293.86 187.21,297.34 187.33,290.45 187.45,294.43 187.57,289.21 187.7,298.76 187.82,298.44 187.94,290.34 188.06,298.88 188.18,291.17 188.3,298.09 188.43,294.11 188.55,290.68 188.67,295.33 188.79,299.55 188.91,297.01 189.03,290.58 189.16,294.32 189.28,292.22 189.4,294.74 189.52,293.9 189.64,295.89 189.76,299.4 189.88,292.75 190.01,294.29 190.13,303.76 190.25,295.06 190.37,290.74 190.49,286.36 190.61,301.26 190.74,294.56 190.86,292.49 190.98,291.52 191.1,298.39 191.22,292.64 191.34,297.1 191.47,295.3 191.59,297.71 191.71,293.55 191.83,297.04 191.95,293.54 192.07,295.52 192.2,290.28 192.32,286.16 192.44,295.5 192.56,299.07 192.68,296.35 192.8,298.06 192.93,304.45 193.05,294.94 193.17,297.92 193.29,289.81 193.41,295.84 193.53,289.54 193.65,290.44 193.78,298.13 193.9,297.12 194.02,298.37 194.14,297.96 194.26,289.85 194.38,298.45 194.51,297.84 194.63,300.41 194.75,285.78 194.87,297.54 194.99,296.18 195.11,301.08 195.24,293.55 195.36,300.65 195.48,299.9 195.6,309.73 195.72,307.05 195.84,293.86 195.97,289.67 196.09,307.57 196.21,294.03 196.33,293.85 196.45,277.3 196.57,302.89 196.69,300.47 196.82,303.49 196.94,288.79 197.06,286.98 197.18,297.46 197.3,283.03 197.42,278.16 197.55,299.08 197.67,290.77 197.79,296.85 197.91,300.46 198.03,299.06 198.15,297.19 198.28,305.82 198.4,295.93 198.52,288.62 198.64,303.01 198.76,299.53 198.88,302.74 199.01,292.04 199.13,296.05 199.25,287.43 199.37,297.81 199.49,307.46 199.61,290.44 199.73,297.67 199.86,285.56 199.98,289.13 200.1,312.9 200.22,311.83 200.34,294.91 200.46,301.55 200.59,312.9 200.71,299.72 200.83,284.21 200.95,289.77 201.07,302.74 201.19,292.73 201.32,286.5 201.44,296.76 201.56,279.95 201.68,301.27 201.8,277.3 201.92,281.94 202.05,290.68 202.17,293.21 202.29,294.88 202.41,303.27 202.53,286.64 202.65,284.08 202.77,288.31 202.9,292.69 203.02,294.22 203.14,303.3 203.26,300.89 203.38,307.84 203.5,290.89 203.63,303.09 203.75,287.75 203.87,301 203.99,282.57 204.11,281.25 204.23,281.55 204.36,284.98 204.48,297.86 204.6,297.94 204.72,301.72 204.84,292.21 204.96,280.14 205.09,304.92 205.21,277.3 205.33,300.26 205.45,305.67 205.57,292.09 205.69,285.43 205.81,298.39 205.94,304.39 206.06,279.31 206.18,305.08 206.3,286.18 206.42,293.79 206.54,298.51 206.67,294.72 206.79,304.91 206.91,305.12 207.03,292.4 207.15,304.43 207.27,302.03 207.4,282.22 207.52,279.12 207.64,285.28 207.76,287.18 207.88,297.38 208,294.33 208.13,301.68 208.25,312.9 208.37,293.41 208.49,293.19 208.61,286.44 208.73,305.7 208.85,285.05 208.98,299.9 209.1,306.04 209.22,297.44 209.34,287.05 209.46,295.29 209.58,291.34 209.71,302.89 209.83,291.05 209.95,286.65 210.07,302.9 210.19,291.57 210.31,306.87 210.44,293.24 210.56,308.16 210.68,291.72 210.8,295.27 210.92,304.89 211.04,292.11 211.17,303.69 211.29,294.48 211.41,303.04 211.53,290.61 211.65,299.99 211.77,282.95 211.89,291.3 212.02,290.6 212.14,306.5 212.26,312.89 212.38,301.92 212.5,279.78 212.62,303.1 212.75,284.79 212.87,284.51 212.99,300.05 213.11,296.9 213.23,284.11 213.35,297.27 213.48,298.53 213.6,299.94 213.72,294.5 213.84,296.03 213.96,284.79 214.08,293.13 214.21,285.27 214.33,295.99 214.45,277.3 214.57,296.06 214.69,296.29 214.81,301.63 214.94,308.85 215.06,302.11 215.18,293.37 215.3,303.04 215.42,288.46 215.54,308.02 215.66,308.31 215.79,292.68 215.91,292.08 216.03,303.87 216.15,286.69 216.27,284.39 216.39,292.29 216.52,304.87 216.64,285.59 216.76,297.21 216.88,296.37 217,291.43 217.12,300.21 217.25,283.86 217.37,299.61 217.49,287.23 217.61,289.4 217.73,282.2 217.85,291.38 217.98,288.83 218.1,297.78 218.22,296.63 218.34,299.24 218.46,289.67 218.58,299.47 218.7,284.46 218.83,295.67 218.95,303.01 219.07,299.42 219.19,287.02 219.31,298.11 219.43,290.91 219.56,305.33 219.68,291.86 219.8,289.74 219.92,291.49 220.04,289.68 220.16,301.12 220.29,305.35 220.41,303.09 220.53,289.41 220.65,292.18 220.77,289.68 220.89,298.17 221.02,289.71 221.14,304.13 221.26,292.15 221.38,300.93 221.5,297.22 221.62,290.7 221.74,289.42 221.87,295.54 221.99,296.68 222.11,286.72 222.23,288.57 222.35,298.45 222.47,292.89 222.6,295.73 222.72,289.08 222.84,291.97 222.96,292.1 223.08,293.98 223.2,297.46 223.33,288.45 223.45,292.23 223.57,307.1 223.69,296.54 223.81,293.03 223.93,298.47 224.06,299.44 224.18,297.89 224.3,292.62 224.42,299.56 224.54,292.56 224.66,287.34 224.78,289.52 224.91,289.35 225.03,295.61 225.15,288.35 225.27,294.39 225.39,289.95 225.51,300.32 225.64,288.12 225.76,297.48 225.88,294.36 226,289.19 226.12,294.53 226.24,296.91 226.37,295.37 226.49,289.12 226.61,289.08 226.73,291.31 226.85,297.69 226.97,296.6 227.1,291.42 227.22,291.01 227.34,298.1 227.46,298.03 227.58,291.33 227.7,289.46 227.82,294.29 227.95,300.32 228.07,287.2 228.19,294.52 228.31,292.54 228.43,304.74 228.55,298.1 228.68,295.65 228.8,293.37 228.92,298.9 229.04,301.86 229.16,302.36 229.28,296.67 229.41,293.65 229.53,293.86 229.65,302.69 229.77,298.17 229.89,295.49 230.01,290.71 230.14,292.66 230.26,293.97 230.38,302.37 230.5,290.44 230.62,295.5 230.74,294.21 230.86,297.98 230.99,295.99 231.11,296.56 231.23,296.84 231.35,298.82 231.47,292.35 231.59,291.42 231.72,297.35 231.84,298.53 231.96,298.48 232.08,296.37 232.2,289.44 232.32,295.69 232.45,287.89 232.57,300.14 232.69,299.43 232.81,298.22 232.93,298.5 233.05,293.89 233.18,288.45 233.3,297.96 233.42,293.83 233.54,290.1 233.66,286.07 233.78,294.33 233.91,291.44 234.03,290.19 234.15,294.74 234.27,293.01 234.39,296.37 234.51,298.3 234.63,297.22 234.76,290.93 234.88,290.28 235,294.18 235.12,299.37 235.24,290.73 235.36,295.05 235.49,289.84 235.61,294.69 235.73,298.98 235.85,296 235.97,297.29 236.09,289.66 236.22,302.64 236.34,296.99 236.46,296.06 236.58,301.74 236.7,293.62 236.82,293.01 236.95,292.27 237.07,292.34 237.19,295.32 237.31,292.01 237.43,296.42 237.55,294.92 237.67,294.32 237.8,294.78 237.92,293.42 238.04,297.04 238.16,295.39 238.28,296.82 238.4,294.81 238.53,294.07 238.65,297.29 238.77,290.66 238.89,289.2 239.01,293.34 239.13,294.72 239.26,296.84 239.38,295.49 239.5,295.62 239.62,292.97 239.74,295 239.86,292.95 239.99,293.36 240.11,296.35 240.23,298.73 240.35,298.3 240.47,297.96 240.59,295.05 240.71,291.69 240.84,297.52 240.96,293.18 241.08,295.44 241.2,291.54 241.32,288.89 241.44,292.1 241.57,294.05 241.69,293.6 241.81,291.47 241.93,295.7 242.05,296.96 242.17,294.48 242.3,290.77 242.42,296.74 242.54,292.07 242.66,292.69 242.78,295.48 242.9,296.91 243.03,299.01 243.15,297.82 243.27,294.54 243.39,293.14 243.51,296.5 243.63,296.36 243.75,296.84 243.88,289.12 244,298.27 244.12,298.5 244.24,292.5 244.36,297.59 244.48,292.69 244.61,296.96 244.73,292.67 244.85,291.89 244.97,296.1 245.09,295.1 245.21,297.28 245.34,293.1 245.46,295.76 245.58,297.16 245.7,294.11 245.82,294.27 245.94,295.18 246.07,296.01 246.19,293.04 246.31,296.48 246.43,296.91 246.55,295.61 246.67,294.02 246.79,295.9 246.92,296.4 247.04,297.19 247.16,296.72 247.28,296.45 247.4,291.16 247.52,298.64 247.65,296.02 247.77,295 247.89,296.83 248.01,297.41 248.13,294.07 248.25,292.52 248.38,293.06 248.5,295.09 248.62,295.94 248.74,293.91 248.86,298.12 248.98,296.64 249.11,292.5 249.23,294.36 249.35,294.83 249.47,295.45 249.59,295.78 249.71,296.57 249.83,294.13 249.96,294.26 250.08,294.24 250.2,299.16 250.32,293 250.44,293.71 250.56,292.57 250.69,296.01 250.81,298.56 250.93,297.16 251.05,296.49 251.17,292 251.29,296.26 251.42,295.82 251.54,293.58 251.66,293.74 251.78,293.63 251.9,295.81 252.02,292.28 252.15,294.5 252.27,296.38 252.39,294.49 252.51,297.21 252.63,296.96 252.75,296.12 252.87,296.86 253,295.84 253.12,296.06 253.24,295.8 253.36,296.38 253.48,293.46 253.6,296.56 253.73,295.88 253.85,296.43 253.97,295.96 254.09,296.98 254.21,292.06 254.33,295.49 254.46,293.92 254.58,295.62 254.7,296.96 254.82,295.83 254.94,296.07 255.06,296.84 255.19,294.95 255.31,292.83 255.43,294.83 255.55,293.64 255.67,293.28 255.79,297.78 255.92,292.45 256.04,296.91 256.16,292.55 256.28,294.79 256.4,294.25 256.52,292.05 256.64,293.64 256.77,297.26 256.89,297.52 257.01,296.7 257.13,293.72 257.25,294.65 257.37,293.87 257.5,294.51 257.62,293.46 257.74,296.46 257.86,297.53 257.98,295.98 258.1,294.03 258.23,296.43 258.35,298.17 258.47,295.81 258.59,294.21 258.71,294.56 258.83,295.55 258.96,295.77 259.08,297.82 259.2,295.16 259.32,292.71 259.44,295.78 259.56,293.07 259.68,296.73 259.81,295.69 259.93,295.78 260.05,295.22 260.17,297.45 260.29,293.73 260.41,295.63 260.54,297.92 260.66,294.45 260.78,295.08 260.9,296.82 261.02,295.39 261.14,294.25 261.27,294.39 261.39,294.81 261.51,296.02 261.63,294.85 261.75,293.64 261.87,292.56 262,294.4 262.12,294.17 262.24,293.98 262.36,295.42 262.48,297.18 262.6,295.79 262.72,295.37 262.85,294.91 262.97,295.21 263.09,296.11 263.21,295.94 263.33,295.63 263.45,296.4 263.58,296.38 263.7,297.42 263.82,295.9 263.94,295.41 264.06,296.29 264.18,295.88 264.31,295.49 264.43,296.83 264.55,296.33 264.67,296.63 264.79,295.12 264.91,296.85 265.04,295.58 265.16,297.82 265.28,293.7 265.4,294.99" fill="none" stroke="#0000ff" stroke-width="0.42" />
<rect x="180.4" y="277" width="85" height="36.2" fill="none" stroke="#666" stroke-width="0.6" />
<line x1="180.4" y1="277" x2="181.7" y2="277" stroke="#333" stroke-width="0.4" />
<line x1="265.4" y1="277" x2="264.1" y2="277" stroke="#333" stroke-width="0.4" />
<text x="178.6" y="279" font-size="5.6" font-family="'Liberation Serif', serif" text-anchor="end" >2</text>
<line x1="180.4" y1="295.1" x2="181.7" y2="295.1" stroke="#333" stroke-width="0.4" />
<line x1="265.4" y1="295.1" x2="264.1" y2="295.1" stroke="#333" stroke-width="0.4" />
<text x="178.6" y="297.1" font-size="5.6" font-family="'Liberation Serif', serif" text-anchor="end" >0</text>
<line x1="180.4" y1="313.2" x2="181.7" y2="313.2" stroke="#333" stroke-width="0.4" />
<line x1="265.4" y1="313.2" x2="264.1" y2="313.2" stroke="#333" stroke-width="0.4" />
<text x="178.6" y="315.2" font-size="5.6" font-family="'Liberation Serif', serif" text-anchor="end" >&#8722;2</text>
<line x1="180.4" y1="313.2" x2="180.4" y2="311.9" stroke="#333" stroke-width="0.4" />
<line x1="180.4" y1="277" x2="180.4" y2="278.3" stroke="#333" stroke-width="0.4" />
<text x="180.4" y="320" font-size="5.6" font-family="'Liberation Serif', serif" text-anchor="middle" >0</text>
<line x1="208.73" y1="313.2" x2="208.73" y2="311.9" stroke="#333" stroke-width="0.4" />
<line x1="208.73" y1="277" x2="208.73" y2="278.3" stroke="#333" stroke-width="0.4" />
<text x="208.73" y="320" font-size="5.6" font-family="'Liberation Serif', serif" text-anchor="middle" >10</text>
<line x1="237.07" y1="313.2" x2="237.07" y2="311.9" stroke="#333" stroke-width="0.4" />
<line x1="237.07" y1="277" x2="237.07" y2="278.3" stroke="#333" stroke-width="0.4" />
<text x="237.07" y="320" font-size="5.6" font-family="'Liberation Serif', serif" text-anchor="middle" >20</text>
<line x1="265.4" y1="313.2" x2="265.4" y2="311.9" stroke="#333" stroke-width="0.4" />
<line x1="265.4" y1="277" x2="265.4" y2="278.3" stroke="#333" stroke-width="0.4" />
<text x="265.4" y="320" font-size="5.6" font-family="'Liberation Serif', serif" text-anchor="middle" >30</text>
<text x="213" y="328.2" font-size="5.94" font-family="'Liberation Serif', serif" textLength="18.6" lengthAdjust="spacingAndGlyphs" >Time(s)</text>
<text x="167.6" y="295.1" font-size="6" font-family="'Liberation Serif', serif" text-anchor="middle" transform="rotate(-90 167.6 295.1)" >Acceleration(m/s<tspan font-size="3.9" dy="-2">2</tspan><tspan dy="2">)</tspan></text>
<text x="173.6" y="343.3" font-size="7.21" font-family="'Liberation Serif', serif" stroke="#000" stroke-width="0.1" textLength="95.5" lengthAdjust="spacingAndGlyphs" >Generate artificial seismic waves</text>
<line x1="268.2" y1="272.3" x2="284.2" y2="272.3" stroke="#000" stroke-width="0.9" />
<polygon points="287.3,272.3 283.7,270.75 283.7,273.85" fill="#000"/>
<text x="303" y="343.3" font-size="7.17" font-family="'Liberation Serif', serif" stroke="#000" stroke-width="0.1" textLength="61.5" lengthAdjust="spacingAndGlyphs" >Time history analysis</text>
<line x1="373.7" y1="272.8" x2="390.4" y2="272.8" stroke="#000" stroke-width="0.9" />
<polygon points="393.5,272.8 389.9,271.25 389.9,274.35" fill="#000"/>
<polyline points="415.6,314 416.08,314 416.57,314 417.05,314 417.54,314 418.02,314 418.51,314 418.99,314 419.48,314 419.96,314 420.45,314 420.93,313.99 421.42,313.99 421.9,313.98 422.39,313.97 422.87,313.94 423.36,313.91 423.84,313.86 424.33,313.79 424.81,313.7 425.3,313.58 425.78,313.42 426.27,313.21 426.75,312.95 427.24,312.63 427.72,312.24 428.21,311.77 428.69,311.21 429.18,310.56 429.66,309.81 430.15,308.95 430.63,307.97 431.12,306.88 431.6,305.66 432.09,304.32 432.57,302.85 433.06,301.26 433.54,299.54 434.03,297.7 434.51,295.74 435,293.67 435.48,291.5 435.97,289.23 436.45,286.88 436.94,284.45 437.42,281.95 437.91,279.41 438.39,276.82 438.88,274.21 439.36,271.59 439.85,268.97 440.33,266.36 440.82,263.78 441.3,261.24 441.79,258.76 442.27,256.34 442.76,254 443.24,251.75 443.73,249.6 444.21,247.55 444.7,245.63 445.18,243.83 445.67,242.16 446.15,240.62 446.64,239.23 447.12,237.99 447.61,236.89 448.09,235.94 448.58,235.14 449.06,234.5 449.55,234 450.03,233.66 450.52,233.46 451,233.4 451.49,233.48 451.97,233.7 452.46,234.05 452.94,234.53 453.43,235.13 453.91,235.84 454.39,236.65 454.88,237.58 455.36,238.59 455.85,239.7 456.33,240.88 456.82,242.15 457.3,243.48 457.79,244.87 458.27,246.32 458.76,247.82 459.24,249.36 459.73,250.93 460.21,252.54 460.7,254.17 461.18,255.82 461.67,257.48 462.15,259.15 462.64,260.83 463.12,262.5 463.61,264.17 464.09,265.84 464.58,267.49 465.06,269.12 465.55,270.73 466.03,272.33 466.52,273.9 467,275.44 467.49,276.95 467.97,278.43 468.46,279.88 468.94,281.3 469.43,282.68 469.91,284.03 470.4,285.34 470.88,286.61 471.37,287.84 471.85,289.04 472.34,290.2 472.82,291.32 473.31,292.4 473.79,293.44 474.28,294.45 474.76,295.41 475.25,296.34 475.73,297.24 476.22,298.1 476.7,298.92 477.19,299.71 477.67,300.47 478.16,301.19 478.64,301.88 479.13,302.54 479.61,303.17 480.1,303.77 480.58,304.34 481.07,304.89 481.55,305.41 482.04,305.9 482.52,306.37 483.01,306.81 483.49,307.24 483.98,307.64 484.46,308.02 484.95,308.38 485.43,308.72 485.92,309.04 486.4,309.34 486.89,309.63 487.37,309.9 487.86,310.16 488.34,310.4 488.83,310.63 489.31,310.84 489.8,311.05 490.28,311.24 490.77,311.42 491.25,311.58 491.74,311.74 492.22,311.89 492.71,312.03 493.19,312.16 493.67,312.28 494.16,312.4 494.64,312.51 495.13,312.61 495.61,312.7 496.1,312.79 496.58,312.88 497.07,312.95 497.55,313.03 498.04,313.09 498.52,313.16 499.01,313.22 499.49,313.27 499.98,313.32 500.46,313.37 500.95,313.42 501.43,313.46 501.92,313.5 502.4,313.53 502.89,313.57 503.37,313.6 503.86,313.63 504.34,313.66 504.83,313.68 505.31,313.7 505.8,313.73 506.28,313.75 506.77,313.77 507.25,313.78 507.74,313.8 508.22,313.81 508.71,313.83 509.19,313.84 509.68,313.85 510.16,313.86 510.65,313.88 511.13,313.88 511.62,313.89 512.1,313.9 512.59,313.91 513.07,313.92 513.56,313.92 514.04,313.93 514.53,313.93 515.01,313.94 515.5,313.94 515.98,313.95 516.47,313.95 516.95,313.96 517.44,313.96 517.92,313.96 518.41,313.97 518.89,313.97 519.38,313.97 519.86,313.97 520.35,313.98 520.83,313.98 521.32,313.98 521.8,313.98 522.29,313.98 522.77,313.98 523.26,313.99 523.74,313.99 524.23,313.99 524.71,313.99 525.2,313.99 525.68,313.99 526.17,313.99 526.65,313.99 527.14,313.99 527.62,313.99 528.11,313.99 528.59,313.99 529.08,313.99 529.56,314 530.05,314 530.53,314 531.02,314 531.5,314" fill="none" stroke="#2a87ad" stroke-width="1.4"  stroke-linejoin="round"/>
<rect x="415.6" y="221" width="115.9" height="93" fill="none" stroke="#333" stroke-width="0.6" />
<line x1="415.6" y1="314" x2="417.2" y2="314" stroke="#333" stroke-width="0.6" />
<line x1="531.5" y1="314" x2="529.9" y2="314" stroke="#333" stroke-width="0.6" />
<text x="413.8" y="316.2" font-size="6.1" font-family="'Liberation Sans', sans-serif" text-anchor="end" fill="#222" >0</text>
<line x1="415.6" y1="298.5" x2="417.2" y2="298.5" stroke="#333" stroke-width="0.6" />
<line x1="531.5" y1="298.5" x2="529.9" y2="298.5" stroke="#333" stroke-width="0.6" />
<text x="413.8" y="300.7" font-size="6.1" font-family="'Liberation Sans', sans-serif" text-anchor="end" fill="#222" >10</text>
<line x1="415.6" y1="283" x2="417.2" y2="283" stroke="#333" stroke-width="0.6" />
<line x1="531.5" y1="283" x2="529.9" y2="283" stroke="#333" stroke-width="0.6" />
<text x="413.8" y="285.2" font-size="6.1" font-family="'Liberation Sans', sans-serif" text-anchor="end" fill="#222" >20</text>
<line x1="415.6" y1="267.5" x2="417.2" y2="267.5" stroke="#333" stroke-width="0.6" />
<line x1="531.5" y1="267.5" x2="529.9" y2="267.5" stroke="#333" stroke-width="0.6" />
<text x="413.8" y="269.7" font-size="6.1" font-family="'Liberation Sans', sans-serif" text-anchor="end" fill="#222" >30</text>
<line x1="415.6" y1="252" x2="417.2" y2="252" stroke="#333" stroke-width="0.6" />
<line x1="531.5" y1="252" x2="529.9" y2="252" stroke="#333" stroke-width="0.6" />
<text x="413.8" y="254.2" font-size="6.1" font-family="'Liberation Sans', sans-serif" text-anchor="end" fill="#222" >40</text>
<line x1="415.6" y1="236.5" x2="417.2" y2="236.5" stroke="#333" stroke-width="0.6" />
<line x1="531.5" y1="236.5" x2="529.9" y2="236.5" stroke="#333" stroke-width="0.6" />
<text x="413.8" y="238.7" font-size="6.1" font-family="'Liberation Sans', sans-serif" text-anchor="end" fill="#222" >50</text>
<line x1="415.6" y1="221" x2="417.2" y2="221" stroke="#333" stroke-width="0.6" />
<line x1="531.5" y1="221" x2="529.9" y2="221" stroke="#333" stroke-width="0.6" />
<text x="413.8" y="223.2" font-size="6.1" font-family="'Liberation Sans', sans-serif" text-anchor="end" fill="#222" >60</text>
<line x1="415.6" y1="314" x2="415.6" y2="312.4" stroke="#333" stroke-width="0.6" />
<line x1="415.6" y1="221" x2="415.6" y2="222.6" stroke="#333" stroke-width="0.6" />
<text x="415.6" y="321.2" font-size="6.1" font-family="'Liberation Sans', sans-serif" text-anchor="middle" fill="#222" >0</text>
<line x1="444.58" y1="314" x2="444.58" y2="312.4" stroke="#333" stroke-width="0.6" />
<line x1="444.58" y1="221" x2="444.58" y2="222.6" stroke="#333" stroke-width="0.6" />
<text x="444.58" y="321.2" font-size="6.1" font-family="'Liberation Sans', sans-serif" text-anchor="middle" fill="#222" >0.02</text>
<line x1="473.55" y1="314" x2="473.55" y2="312.4" stroke="#333" stroke-width="0.6" />
<line x1="473.55" y1="221" x2="473.55" y2="222.6" stroke="#333" stroke-width="0.6" />
<text x="473.55" y="321.2" font-size="6.1" font-family="'Liberation Sans', sans-serif" text-anchor="middle" fill="#222" >0.04</text>
<line x1="502.52" y1="314" x2="502.52" y2="312.4" stroke="#333" stroke-width="0.6" />
<line x1="502.52" y1="221" x2="502.52" y2="222.6" stroke="#333" stroke-width="0.6" />
<text x="502.52" y="321.2" font-size="6.1" font-family="'Liberation Sans', sans-serif" text-anchor="middle" fill="#222" >0.06</text>
<line x1="531.5" y1="314" x2="531.5" y2="312.4" stroke="#333" stroke-width="0.6" />
<line x1="531.5" y1="221" x2="531.5" y2="222.6" stroke="#333" stroke-width="0.6" />
<text x="531.5" y="321.2" font-size="6.1" font-family="'Liberation Sans', sans-serif" text-anchor="middle" fill="#222" >0.08</text>
<text x="450.9" y="217.8" font-size="5.93" font-family="'Liberation Serif', serif" textLength="47.8" lengthAdjust="spacingAndGlyphs" >Distribution of EDP</text>
<text x="521" y="233" font-size="6.2" font-family="'Liberation Serif', serif" stroke="#000" stroke-width="0.15" text-anchor="middle" >D</text>
<text x="466.7" y="328.5" font-size="5.4" font-family="'Liberation Serif', serif" textLength="14" lengthAdjust="spacingAndGlyphs" >MIDR</text>
<text x="401.5" y="271.9" font-size="4.4" font-family="'Liberation Serif', serif" text-anchor="middle" textLength="9.7" lengthAdjust="spacingAndGlyphs" transform="rotate(-90 401.5 271.9)" >PDF</text>
<text x="426.7" y="342.5" font-size="7.1" font-family="'Liberation Serif', serif" stroke="#000" stroke-width="0.1" textLength="88.8" lengthAdjust="spacingAndGlyphs" >Obtain the Distribution of EDP</text>
<polyline points="26.3,446.2 26.6,446.2 26.89,446.2 27.19,446.2 27.49,446.2 27.78,446.2 28.08,446.2 28.38,446.2 28.67,446.2 28.97,446.2 29.26,446.19 29.56,446.19 29.86,446.18 30.15,446.16 30.45,446.14 30.75,446.1 31.04,446.04 31.34,445.95 31.64,445.84 31.93,445.69 32.23,445.5 32.53,445.26 32.82,444.96 33.12,444.59 33.42,444.15 33.71,443.63 34.01,443.03 34.31,442.34 34.6,441.56 34.9,440.68 35.19,439.72 35.49,438.66 35.79,437.52 36.08,436.29 36.38,434.99 36.68,433.61 36.97,432.18 37.27,430.68 37.57,429.15 37.86,427.58 38.16,426 38.46,424.4 38.75,422.81 39.05,421.23 39.35,419.68 39.64,418.17 39.94,416.7 40.23,415.3 40.53,413.96 40.83,412.7 41.12,411.53 41.42,410.44 41.72,409.45 42.01,408.57 42.31,407.79 42.61,407.12 42.9,406.56 43.2,406.1 43.5,405.76 43.79,405.53 44.09,405.41 44.39,405.38 44.68,405.47 44.98,405.64 45.27,405.92 45.57,406.28 45.87,406.72 46.16,407.24 46.46,407.83 46.76,408.49 47.05,409.21 47.35,409.99 47.65,410.81 47.94,411.68 48.24,412.58 48.54,413.52 48.83,414.48 49.13,415.46 49.43,416.46 49.72,417.47 50.02,418.49 50.32,419.51 50.61,420.53 50.91,421.54 51.2,422.55 51.5,423.54 51.8,424.52 52.09,425.48 52.39,426.43 52.69,427.35 52.98,428.25 53.28,429.13 53.58,429.99 53.87,430.81 54.17,431.61 54.47,432.39 54.76,433.13 55.06,433.85 55.36,434.54 55.65,435.21 55.95,435.84 56.24,436.45 56.54,437.03 56.84,437.58 57.13,438.11 57.43,438.61 57.73,439.08 58.02,439.53 58.32,439.96 58.62,440.37 58.91,440.75 59.21,441.11 59.51,441.45 59.8,441.77 60.1,442.08 60.4,442.36 60.69,442.63 60.99,442.88 61.28,443.12 61.58,443.34 61.88,443.54 62.17,443.74 62.47,443.92 62.77,444.09 63.06,444.25 63.36,444.39 63.66,444.53 63.95,444.66 64.25,444.77 64.55,444.88 64.84,444.99 65.14,445.08 65.44,445.17 65.73,445.25 66.03,445.33 66.33,445.4 66.62,445.46 66.92,445.52 67.21,445.58 67.51,445.63 67.81,445.68 68.1,445.72 68.4,445.76 68.7,445.8 68.99,445.83 69.29,445.86 69.59,445.89 69.88,445.92 70.18,445.94 70.48,445.96 70.77,445.98 71.07,446 71.37,446.02 71.66,446.04 71.96,446.05 72.25,446.06 72.55,446.08 72.85,446.09 73.14,446.1 73.44,446.11 73.74,446.11 74.03,446.12 74.33,446.13 74.63,446.14 74.92,446.14 75.22,446.15 75.52,446.15 75.81,446.16 76.11,446.16 76.41,446.16 76.7,446.17 77,446.17 77.29,446.17 77.59,446.18 77.89,446.18 78.18,446.18 78.48,446.18 78.78,446.18 79.07,446.19 79.37,446.19 79.67,446.19 79.96,446.19 80.26,446.19 80.56,446.19 80.85,446.19 81.15,446.19 81.45,446.19 81.74,446.19 82.04,446.19 82.34,446.2 82.63,446.2 82.93,446.2 83.22,446.2 83.52,446.2 83.82,446.2 84.11,446.2 84.41,446.2 84.71,446.2 85,446.2 85.3,446.2" fill="none" stroke="#2a87ad" stroke-width="1.1"  stroke-linejoin="round"/>
<rect x="26.3" y="399.1" width="59" height="47.1" fill="none" stroke="#d4d4d4" stroke-width="0.4" />
<line x1="26.3" y1="446.2" x2="27.3" y2="446.2" stroke="#d4d4d4" stroke-width="0.4" />
<line x1="85.3" y1="446.2" x2="84.3" y2="446.2" stroke="#d4d4d4" stroke-width="0.4" />
<text x="24.8" y="447.39" font-size="3.3" font-family="'Liberation Sans', sans-serif" text-anchor="end" fill="#333" >0</text>
<line x1="26.3" y1="438.35" x2="27.3" y2="438.35" stroke="#d4d4d4" stroke-width="0.4" />
<line x1="85.3" y1="438.35" x2="84.3" y2="438.35" stroke="#d4d4d4" stroke-width="0.4" />
<text x="24.8" y="439.54" font-size="3.3" font-family="'Liberation Sans', sans-serif" text-anchor="end" fill="#333" >10</text>
<line x1="26.3" y1="430.5" x2="27.3" y2="430.5" stroke="#d4d4d4" stroke-width="0.4" />
<line x1="85.3" y1="430.5" x2="84.3" y2="430.5" stroke="#d4d4d4" stroke-width="0.4" />
<text x="24.8" y="431.69" font-size="3.3" font-family="'Liberation Sans', sans-serif" text-anchor="end" fill="#333" >20</text>
<line x1="26.3" y1="422.65" x2="27.3" y2="422.65" stroke="#d4d4d4" stroke-width="0.4" />
<line x1="85.3" y1="422.65" x2="84.3" y2="422.65" stroke="#d4d4d4" stroke-width="0.4" />
<text x="24.8" y="423.84" font-size="3.3" font-family="'Liberation Sans', sans-serif" text-anchor="end" fill="#333" >30</text>
<line x1="26.3" y1="414.8" x2="27.3" y2="414.8" stroke="#d4d4d4" stroke-width="0.4" />
<line x1="85.3" y1="414.8" x2="84.3" y2="414.8" stroke="#d4d4d4" stroke-width="0.4" />
<text x="24.8" y="415.99" font-size="3.3" font-family="'Liberation Sans', sans-serif" text-anchor="end" fill="#333" >40</text>
<line x1="26.3" y1="406.95" x2="27.3" y2="406.95" stroke="#d4d4d4" stroke-width="0.4" />
<line x1="85.3" y1="406.95" x2="84.3" y2="406.95" stroke="#d4d4d4" stroke-width="0.4" />
<text x="24.8" y="408.14" font-size="3.3" font-family="'Liberation Sans', sans-serif" text-anchor="end" fill="#333" >50</text>
<line x1="26.3" y1="399.1" x2="27.3" y2="399.1" stroke="#d4d4d4" stroke-width="0.4" />
<line x1="85.3" y1="399.1" x2="84.3" y2="399.1" stroke="#d4d4d4" stroke-width="0.4" />
<text x="24.8" y="400.29" font-size="3.3" font-family="'Liberation Sans', sans-serif" text-anchor="end" fill="#333" >60</text>
<line x1="26.3" y1="446.2" x2="26.3" y2="445.2" stroke="#d4d4d4" stroke-width="0.4" />
<line x1="26.3" y1="399.1" x2="26.3" y2="400.1" stroke="#d4d4d4" stroke-width="0.4" />
<text x="26.3" y="450.1" font-size="3.3" font-family="'Liberation Sans', sans-serif" text-anchor="middle" fill="#333" >0</text>
<line x1="41.05" y1="446.2" x2="41.05" y2="445.2" stroke="#d4d4d4" stroke-width="0.4" />
<line x1="41.05" y1="399.1" x2="41.05" y2="400.1" stroke="#d4d4d4" stroke-width="0.4" />
<text x="41.05" y="450.1" font-size="3.3" font-family="'Liberation Sans', sans-serif" text-anchor="middle" fill="#333" >0.02</text>
<line x1="55.8" y1="446.2" x2="55.8" y2="445.2" stroke="#d4d4d4" stroke-width="0.4" />
<line x1="55.8" y1="399.1" x2="55.8" y2="400.1" stroke="#d4d4d4" stroke-width="0.4" />
<text x="55.8" y="450.1" font-size="3.3" font-family="'Liberation Sans', sans-serif" text-anchor="middle" fill="#333" >0.04</text>
<line x1="70.55" y1="446.2" x2="70.55" y2="445.2" stroke="#d4d4d4" stroke-width="0.4" />
<line x1="70.55" y1="399.1" x2="70.55" y2="400.1" stroke="#d4d4d4" stroke-width="0.4" />
<text x="70.55" y="450.1" font-size="3.3" font-family="'Liberation Sans', sans-serif" text-anchor="middle" fill="#333" >0.06</text>
<line x1="85.3" y1="446.2" x2="85.3" y2="445.2" stroke="#d4d4d4" stroke-width="0.4" />
<line x1="85.3" y1="399.1" x2="85.3" y2="400.1" stroke="#d4d4d4" stroke-width="0.4" />
<text x="85.3" y="450.1" font-size="3.3" font-family="'Liberation Sans', sans-serif" text-anchor="middle" fill="#333" >0.08</text>
<text x="74.4" y="410.4" font-size="6" font-family="'Liberation Serif', serif" stroke="#000" stroke-width="0.08" text-anchor="middle" >D</text>
<text x="20.6" y="422.6" font-size="2.9" font-family="'Liberation Sans', sans-serif" text-anchor="middle" fill="#555" transform="rotate(-90 20.6 422.6)" >PDF</text>
<polyline points="26.3,514.5 26.59,514.5 26.89,514.5 27.18,514.5 27.48,514.5 27.77,514.5 28.07,514.5 28.36,514.5 28.66,514.5 28.95,514.5 29.24,514.5 29.54,514.5 29.83,514.5 30.13,514.5 30.42,514.5 30.72,514.5 31.01,514.5 31.31,514.49 31.6,514.49 31.89,514.49 32.19,514.49 32.48,514.48 32.78,514.48 33.07,514.47 33.37,514.46 33.66,514.45 33.96,514.44 34.25,514.43 34.55,514.41 34.84,514.39 35.13,514.36 35.43,514.33 35.72,514.29 36.02,514.25 36.31,514.19 36.61,514.12 36.9,514.05 37.2,513.95 37.49,513.85 37.78,513.72 38.08,513.57 38.37,513.4 38.67,513.2 38.96,512.97 39.26,512.71 39.55,512.41 39.85,512.08 40.14,511.7 40.43,511.27 40.73,510.79 41.02,510.26 41.32,509.66 41.61,509.01 41.91,508.3 42.2,507.51 42.5,506.66 42.79,505.74 43.08,504.75 43.38,503.69 43.67,502.57 43.97,501.37 44.26,500.11 44.56,498.79 44.85,497.42 45.15,496 45.44,494.54 45.74,493.05 46.03,491.54 46.32,490.01 46.62,488.49 46.91,486.98 47.21,485.49 47.5,484.04 47.8,482.64 48.09,481.31 48.39,480.06 48.68,478.9 48.97,477.84 49.27,476.9 49.56,476.08 49.86,475.4 50.15,474.86 50.45,474.47 50.74,474.23 51.04,474.15 51.33,474.22 51.62,474.45 51.92,474.84 52.21,475.37 52.51,476.05 52.8,476.86 53.1,477.79 53.39,478.85 53.69,480 53.98,481.25 54.27,482.58 54.57,483.98 54.86,485.42 55.16,486.91 55.45,488.42 55.75,489.94 56.04,491.47 56.34,492.98 56.63,494.48 56.93,495.94 57.22,497.36 57.51,498.73 57.81,500.05 58.1,501.32 58.4,502.51 58.69,503.65 58.99,504.71 59.28,505.7 59.58,506.62 59.87,507.48 60.16,508.26 60.46,508.98 60.75,509.64 61.05,510.23 61.34,510.77 61.64,511.25 61.93,511.68 62.23,512.06 62.52,512.4 62.81,512.7 63.11,512.96 63.4,513.19 63.7,513.39 63.99,513.56 64.29,513.71 64.58,513.84 64.88,513.95 65.17,514.04 65.46,514.12 65.76,514.19 66.05,514.24 66.35,514.29 66.64,514.33 66.94,514.36 67.23,514.39 67.53,514.41 67.82,514.43 68.12,514.44 68.41,514.45 68.7,514.46 69,514.47 69.29,514.48 69.59,514.48 69.88,514.49 70.18,514.49 70.47,514.49 70.77,514.49 71.06,514.49 71.35,514.5 71.65,514.5 71.94,514.5 72.24,514.5 72.53,514.5 72.83,514.5 73.12,514.5 73.42,514.5 73.71,514.5 74,514.5 74.3,514.5 74.59,514.5 74.89,514.5 75.18,514.5 75.48,514.5 75.77,514.5 76.07,514.5 76.36,514.5 76.65,514.5 76.95,514.5 77.24,514.5 77.54,514.5 77.83,514.5 78.13,514.5 78.42,514.5 78.72,514.5 79.01,514.5 79.31,514.5 79.6,514.5 79.89,514.5 80.19,514.5 80.48,514.5 80.78,514.5 81.07,514.5 81.37,514.5 81.66,514.5 81.96,514.5 82.25,514.5 82.54,514.5 82.84,514.5 83.13,514.5 83.43,514.5 83.72,514.5 84.02,514.5 84.31,514.5 84.61,514.5 84.9,514.5" fill="none" stroke="#b83a32" stroke-width="1.1" stroke-dasharray="2.2 1.6" stroke-linejoin="round"/>
<rect x="26.3" y="470.5" width="58.6" height="44" fill="none" stroke="#d4d4d4" stroke-width="0.4" />
<line x1="26.3" y1="514.5" x2="27.3" y2="514.5" stroke="#d4d4d4" stroke-width="0.4" />
<line x1="84.9" y1="514.5" x2="83.9" y2="514.5" stroke="#d4d4d4" stroke-width="0.4" />
<text x="24.8" y="515.69" font-size="3.3" font-family="'Liberation Sans', sans-serif" text-anchor="end" fill="#333" >0</text>
<line x1="26.3" y1="499.83" x2="27.3" y2="499.83" stroke="#d4d4d4" stroke-width="0.4" />
<line x1="84.9" y1="499.83" x2="83.9" y2="499.83" stroke="#d4d4d4" stroke-width="0.4" />
<text x="24.8" y="501.02" font-size="3.3" font-family="'Liberation Sans', sans-serif" text-anchor="end" fill="#333" >20</text>
<line x1="26.3" y1="485.17" x2="27.3" y2="485.17" stroke="#d4d4d4" stroke-width="0.4" />
<line x1="84.9" y1="485.17" x2="83.9" y2="485.17" stroke="#d4d4d4" stroke-width="0.4" />
<text x="24.8" y="486.35" font-size="3.3" font-family="'Liberation Sans', sans-serif" text-anchor="end" fill="#333" >40</text>
<line x1="26.3" y1="470.5" x2="27.3" y2="470.5" stroke="#d4d4d4" stroke-width="0.4" />
<line x1="84.9" y1="470.5" x2="83.9" y2="470.5" stroke="#d4d4d4" stroke-width="0.4" />
<text x="24.8" y="471.69" font-size="3.3" font-family="'Liberation Sans', sans-serif" text-anchor="end" fill="#333" >60</text>
<line x1="32.81" y1="514.5" x2="32.81" y2="513.5" stroke="#d4d4d4" stroke-width="0.4" />
<line x1="32.81" y1="470.5" x2="32.81" y2="471.5" stroke="#d4d4d4" stroke-width="0.4" />
<text x="32.81" y="518.7" font-size="3.3" font-family="'Liberation Sans', sans-serif" text-anchor="middle" fill="#333" >0.02</text>
<line x1="45.83" y1="514.5" x2="45.83" y2="513.5" stroke="#d4d4d4" stroke-width="0.4" />
<line x1="45.83" y1="470.5" x2="45.83" y2="471.5" stroke="#d4d4d4" stroke-width="0.4" />
<text x="45.83" y="518.7" font-size="3.3" font-family="'Liberation Sans', sans-serif" text-anchor="middle" fill="#333" >0.04</text>
<line x1="58.86" y1="514.5" x2="58.86" y2="513.5" stroke="#d4d4d4" stroke-width="0.4" />
<line x1="58.86" y1="470.5" x2="58.86" y2="471.5" stroke="#d4d4d4" stroke-width="0.4" />
<text x="58.86" y="518.7" font-size="3.3" font-family="'Liberation Sans', sans-serif" text-anchor="middle" fill="#333" >0.06</text>
<line x1="71.88" y1="514.5" x2="71.88" y2="513.5" stroke="#d4d4d4" stroke-width="0.4" />
<line x1="71.88" y1="470.5" x2="71.88" y2="471.5" stroke="#d4d4d4" stroke-width="0.4" />
<text x="71.88" y="518.7" font-size="3.3" font-family="'Liberation Sans', sans-serif" text-anchor="middle" fill="#333" >0.08</text>
<line x1="84.9" y1="514.5" x2="84.9" y2="513.5" stroke="#d4d4d4" stroke-width="0.4" />
<line x1="84.9" y1="470.5" x2="84.9" y2="471.5" stroke="#d4d4d4" stroke-width="0.4" />
<text x="84.9" y="518.7" font-size="3.3" font-family="'Liberation Sans', sans-serif" text-anchor="middle" fill="#333" >0.1</text>
<text x="75.3" y="480.9" font-size="6" font-family="'Liberation Serif', serif" stroke="#000" stroke-width="0.08" text-anchor="middle" >C</text>
<text x="16.8" y="493.4" font-size="2.9" font-family="'Liberation Sans', sans-serif" text-anchor="middle" fill="#555" transform="rotate(-90 16.8 493.4)" >PDF</text>
<text x="12.6" y="538.4" font-size="7.22" font-family="'Liberation Serif', serif" stroke="#000" stroke-width="0.1" textLength="103.7" lengthAdjust="spacingAndGlyphs" >Generate random variables D and C</text>
<line x1="89.4" y1="462.5" x2="107.7" y2="462.5" stroke="#000" stroke-width="0.9" />
<polygon points="110.8,462.5 107.2,460.95 107.2,464.05" fill="#000"/>
<g stroke="#111" stroke-width="0.22">
<text x="115.5" y="455.6" font-size="7.3" font-family="'Liberation Sans', sans-serif" textLength="68" lengthAdjust="spacingAndGlyphs" fill="#111"><tspan font-style="italic">Pr</tspan> = <tspan font-style="italic">P</tspan>( D &#8722; C &gt; 0|IM )</text>
<text x="125.3" y="467.6" font-size="7.3" font-family="'Liberation Sans', sans-serif" textLength="52.3" lengthAdjust="spacingAndGlyphs" fill="#111">= <tspan font-style="italic">P</tspan>( CPI &gt; 0|IM )</text>
<text x="126" y="481.8" font-size="7.3" font-family="'Liberation Sans', sans-serif" fill="#111">=</text>
<text x="133.1" y="481.8" font-size="7.3" font-family="'Liberation Sans', sans-serif" fill="#111">1</text>
<text x="137.4" y="481.8" font-size="7.3" font-family="'Liberation Sans', sans-serif" fill="#111">&#8722;</text>
<text x="143.6" y="485.6" font-size="13" font-family="'DejaVu Serif', serif" fill="#111">&#8747;</text>
<text x="150.9" y="474.2" font-size="5" font-family="'Liberation Sans', sans-serif" fill="#111" stroke="#111" stroke-width="0.15">0</text>
<text x="147.8" y="487.6" font-size="5" font-family="'Liberation Sans', sans-serif" fill="#111" stroke="#111" stroke-width="0.15" textLength="8.3" lengthAdjust="spacingAndGlyphs">&#8722;&#8734;</text>
<text x="156" y="481.8" font-size="7.3" font-family="'Liberation Sans', sans-serif" font-style="italic" fill="#111">P</text>
<text x="160.4" y="483.2" font-size="4.6" font-family="'Liberation Sans', sans-serif" fill="#111" textLength="14.3" lengthAdjust="spacingAndGlyphs">CPI|IM</text>
</g>
<rect x="214.7" y="411.9" width="127.5" height="90.1" fill="none" stroke="#dedede" stroke-width="0.5" />
<line x1="246.57" y1="411.9" x2="246.57" y2="413.1" stroke="#cfcfcf" stroke-width="0.4" />
<line x1="246.57" y1="502" x2="246.57" y2="500.8" stroke="#cfcfcf" stroke-width="0.4" />
<line x1="278.45" y1="411.9" x2="278.45" y2="413.1" stroke="#cfcfcf" stroke-width="0.4" />
<line x1="278.45" y1="502" x2="278.45" y2="500.8" stroke="#cfcfcf" stroke-width="0.4" />
<line x1="310.32" y1="411.9" x2="310.32" y2="413.1" stroke="#cfcfcf" stroke-width="0.4" />
<line x1="310.32" y1="502" x2="310.32" y2="500.8" stroke="#cfcfcf" stroke-width="0.4" />
<line x1="214.7" y1="471.97" x2="215.9" y2="471.97" stroke="#cfcfcf" stroke-width="0.4" />
<line x1="342.2" y1="471.97" x2="341" y2="471.97" stroke="#cfcfcf" stroke-width="0.4" />
<line x1="214.7" y1="441.93" x2="215.9" y2="441.93" stroke="#cfcfcf" stroke-width="0.4" />
<line x1="342.2" y1="441.93" x2="341" y2="441.93" stroke="#cfcfcf" stroke-width="0.4" />
<defs><pattern id="hat" patternUnits="userSpaceOnUse" width="3.4" height="3.4" patternTransform="rotate(45)"><line x1="0" y1="0" x2="0" y2="3.4" stroke="#9a9a9a" stroke-width="0.45"/></pattern><clipPath id="hc"><polygon points="278.45,502 278.45,453.1 279.18,457.34 279.9,461.48 280.63,465.48 281.36,469.31 282.08,472.94 282.81,476.33 283.53,479.48 284.26,482.38 284.99,485.01 285.71,487.4 286.44,489.53 287.17,491.42 287.89,493.09 288.62,494.54 289.34,495.8 290.07,496.88 290.8,497.8 291.52,498.58 292.25,499.23 292.98,499.77 293.7,500.22 294.43,500.59 295.15,500.89 295.88,501.13 296.61,501.32 297.33,501.48 298.06,501.6 298.79,501.69 299.51,501.77 300.24,501.83 300.96,501.87 301.69,501.9 302.42,501.93 303.14,501.95 303.87,501.96 304.6,501.97 305.32,501.98 306.05,501.99 306.77,501.99 307.5,501.99 308.23,502 308.95,502 309.68,502 310.41,502 311.13,502 311.86,502 312.58,502 313.31,502 314.04,502 314.76,502 315.49,502 316.22,502 316.94,502 317.67,502 318.39,502 319.12,502 319.85,502 320.57,502 321.3,502 322.03,502 322.75,502 323.48,502 324.2,502 324.93,502 325.66,502 326.38,502 327.11,502 327.84,502 328.56,502 329.29,502 330.01,502 330.74,502 331.47,502 332.19,502 332.92,502 333.65,502 334.37,502 335.1,502 335.82,502 335.82,502"/></clipPath></defs>
<rect x="278.45" y="465.96" width="40" height="36.04" fill="url(#hat)" clip-path="url(#hc)"/>
<line x1="278.45" y1="502" x2="278.45" y2="453.1" stroke="#b0b0b0" stroke-width="0.5" />
<polyline points="233.82,501.97 234.22,501.96 234.61,501.95 235.01,501.95 235.4,501.94 235.79,501.92 236.19,501.91 236.58,501.89 236.98,501.88 237.37,501.85 237.76,501.83 238.16,501.8 238.55,501.77 238.94,501.73 239.34,501.68 239.73,501.63 240.13,501.58 240.52,501.51 240.91,501.44 241.31,501.35 241.7,501.25 242.1,501.15 242.49,501.02 242.88,500.89 243.28,500.73 243.67,500.56 244.06,500.36 244.46,500.15 244.85,499.91 245.25,499.64 245.64,499.34 246.03,499.02 246.43,498.65 246.82,498.26 247.21,497.82 247.61,497.34 248,496.82 248.4,496.25 248.79,495.63 249.18,494.95 249.58,494.22 249.97,493.44 250.37,492.59 250.76,491.68 251.15,490.7 251.55,489.65 251.94,488.53 252.33,487.34 252.73,486.08 253.12,484.74 253.52,483.33 253.91,481.84 254.3,480.27 254.7,478.63 255.09,476.92 255.49,475.13 255.88,473.27 256.27,471.35 256.67,469.35 257.06,467.3 257.45,465.2 257.85,463.04 258.24,460.83 258.64,458.59 259.03,456.32 259.42,454.02 259.82,451.7 260.21,449.38 260.6,447.06 261,444.75 261.39,442.46 261.79,440.2 262.18,437.98 262.57,435.81 262.97,433.71 263.36,431.67 263.76,429.72 264.15,427.86 264.54,426.11 264.94,424.46 265.33,422.94 265.72,421.54 266.12,420.29 266.51,419.17 266.91,418.21 267.3,417.4 267.69,416.75 268.09,416.27 268.48,415.96 268.88,415.81 269.27,415.84 269.66,416.03 270.06,416.4 270.45,416.93 270.84,417.62 271.24,418.47 271.63,419.48 272.03,420.64 272.42,421.93 272.81,423.37 273.21,424.93 273.6,426.61 273.99,428.39 274.39,430.28 274.78,432.26 275.18,434.31 275.57,436.44 275.96,438.62 276.36,440.85 276.75,443.12 277.15,445.42 277.54,447.73 277.93,450.05 278.33,452.37 278.72,454.69 279.11,456.98 279.51,459.24 279.9,461.48 280.3,463.67 280.69,465.81 281.08,467.9 281.48,469.94 281.87,471.91 282.27,473.82 282.66,475.66 283.05,477.42 283.45,479.12 283.84,480.73 284.23,482.28 284.63,483.75 285.02,485.14 285.42,486.45 285.81,487.7 286.2,488.86 286.6,489.96 286.99,490.99 287.38,491.95 287.78,492.84 288.17,493.67 288.57,494.44 288.96,495.15 289.35,495.81 289.75,496.42 290.14,496.97 290.54,497.48 290.93,497.95 291.32,498.38 291.72,498.76 292.11,499.11 292.5,499.43 292.9,499.72 293.29,499.98 293.69,500.21 294.08,500.42 294.47,500.61 294.87,500.78 295.26,500.93 295.66,501.06 296.05,501.18 296.44,501.28 296.84,501.38 297.23,501.46 297.62,501.53 298.02,501.59 298.41,501.65 298.81,501.7 299.2,501.74 299.59,501.78 299.99,501.81 300.38,501.84 300.77,501.86 301.17,501.88 301.56,501.9 301.96,501.91 302.35,501.93 302.74,501.94 303.14,501.95 303.53,501.96 303.93,501.96 304.32,501.97 304.71,501.97 305.11,501.98 305.5,501.98 305.89,501.99 306.29,501.99 306.68,501.99 307.08,501.99 307.47,501.99 307.86,501.99 308.26,502 308.65,502 309.05,502 309.44,502 309.83,502 310.23,502 310.62,502 311.01,502 311.41,502 311.8,502 312.2,502 312.59,502 312.98,502 313.38,502 313.77,502 314.16,502 314.56,502 314.95,502 315.35,502 315.74,502 316.13,502 316.53,502 316.92,502 317.32,502 317.71,502 318.1,502 318.5,502 318.89,502 319.28,502 319.68,502 320.07,502 320.47,502 320.86,502 321.25,502 321.65,502 322.04,502 322.44,502 322.83,502 323.22,502 323.62,502 324.01,502 324.4,502 324.8,502 325.19,502 325.59,502 325.98,502 326.37,502 326.77,502 327.16,502 327.55,502 327.95,502 328.34,502 328.74,502 329.13,502 329.52,502 329.92,502 330.31,502 330.71,502 331.1,502 331.49,502 331.89,502 332.28,502 332.67,502 333.07,502 333.46,502 333.86,502 334.25,502 334.64,502 335.04,502 335.43,502 335.82,502" fill="none" stroke="#7b9a3e" stroke-width="0.9" />
<text x="212.5" y="504.9" font-size="7.9" font-family="'Liberation Sans', sans-serif" stroke="#111" stroke-width="0.15" text-anchor="end" fill="#111" >0</text>
<text x="212.5" y="474.87" font-size="7.9" font-family="'Liberation Sans', sans-serif" stroke="#111" stroke-width="0.15" text-anchor="end" fill="#111" >10</text>
<text x="212.5" y="444.83" font-size="7.9" font-family="'Liberation Sans', sans-serif" stroke="#111" stroke-width="0.15" text-anchor="end" fill="#111" >20</text>
<text x="212.5" y="414.8" font-size="7.9" font-family="'Liberation Sans', sans-serif" stroke="#111" stroke-width="0.15" text-anchor="end" fill="#111" >30</text>
<text x="214.7" y="512.6" font-size="7.9" font-family="'Liberation Sans', sans-serif" stroke="#111" stroke-width="0.15" text-anchor="middle" fill="#111" >&#8722;0.1</text>
<text x="246.57" y="512.6" font-size="7.9" font-family="'Liberation Sans', sans-serif" stroke="#111" stroke-width="0.15" text-anchor="middle" fill="#111" >&#8722;0.05</text>
<text x="278.45" y="512.6" font-size="7.9" font-family="'Liberation Sans', sans-serif" stroke="#111" stroke-width="0.15" text-anchor="middle" fill="#111" >0</text>
<text x="310.32" y="512.6" font-size="7.9" font-family="'Liberation Sans', sans-serif" stroke="#111" stroke-width="0.15" text-anchor="middle" fill="#111" >0.05</text>
<text x="342.2" y="512.6" font-size="7.9" font-family="'Liberation Sans', sans-serif" stroke="#111" stroke-width="0.15" text-anchor="middle" fill="#111" >0.1</text>
<text x="277.6" y="525.8" font-size="6.3" font-family="'Liberation Serif', serif" text-anchor="middle" >CPI</text>
<text x="202.3" y="461.5" font-size="6.4" font-family="'Liberation Serif', serif" text-anchor="middle" transform="rotate(-90 202.3 461.5)" >PDF</text>
<text x="247.9" y="405.1" font-size="7.13" font-family="'Liberation Serif', serif" stroke="#000" stroke-width="0.1" textLength="55.1" lengthAdjust="spacingAndGlyphs" >Distribution of CPI</text>
<text x="294.3" y="426.1" font-size="5.81" font-family="'Liberation Serif', serif" textLength="29.5" lengthAdjust="spacingAndGlyphs" >CPI = D &#8722; C</text>
<text x="309.6" y="469.2" font-size="10" font-family="'Liberation Serif', serif" font-style="italic" stroke="#000" stroke-width="0.3">P<tspan font-size="6.8" dy="1.9">f</tspan></text>
<path d="M285.2,491 C292,489 291,484 293.5,480 C296,476 300,473.5 304.5,473" fill="none" stroke="#111" stroke-width="0.6"/>
<polygon points="307.3,472.6 303.8,471.2 304.2,474.6" fill="#111"/>
<text x="231.4" y="537.8" font-size="7.08" font-family="'Liberation Serif', serif" stroke="#000" stroke-width="0.1" textLength="86.3" lengthAdjust="spacingAndGlyphs" style="white-space:pre">Calculate  collapse probability</text>
<line x1="346.9" y1="464.5" x2="367.4" y2="464.5" stroke="#000" stroke-width="0.9" />
<polygon points="370.5,464.5 366.9,462.95 366.9,466.05" fill="#000"/>
<line x1="397.5" y1="510.9" x2="397.5" y2="409.2" stroke="#000" stroke-width="0.7" />
<polygon points="397.5,406.3 395.9,409.7 399.1,409.7" fill="#000"/>
<line x1="397.5" y1="510.9" x2="507.8" y2="510.9" stroke="#000" stroke-width="0.7" />
<polygon points="510.9,510.9 507.3,509.35 507.3,512.45" fill="#000"/>
<text x="387.6" y="407.8" font-size="7" font-family="'Liberation Serif', serif" stroke="#000" stroke-width="0.1" textLength="6.6" lengthAdjust="spacingAndGlyphs" >Pf</text>
<text x="519.6" y="513.1" font-size="7" font-family="'Liberation Serif', serif" stroke="#000" stroke-width="0.1" textLength="9" lengthAdjust="spacingAndGlyphs" >IM</text>
<text x="440.7" y="407.8" font-size="7.28" font-family="'Liberation Serif', serif" stroke="#000" stroke-width="0.1" textLength="44.7" lengthAdjust="spacingAndGlyphs" >Fragility Curve</text>
<path d="M397.5,503.3 C412,502.5 423,497 428.5,488.5 C432.5,482 435,476 436.7,470 C438.2,463 439,454 441.4,448.2 C443.5,442 446,437.5 449.4,434 C455,428.5 464,425.9 477,425.9 L498.5,425.9" fill="none" stroke="#8db14e" stroke-width="0.8"/>
<line x1="397.5" y1="488.5" x2="428.5" y2="488.5" stroke="#8db14e" stroke-width="0.55" stroke-dasharray="1.5 1"/>
<circle cx="428.5" cy="488.5" r="1.35" fill="#6a9a2c"/>
<text x="384.2" y="490" font-size="5.98" font-family="'Liberation Serif', serif" textLength="8.3" lengthAdjust="spacingAndGlyphs" >Pf1</text>
<line x1="397.5" y1="470" x2="436.7" y2="470" stroke="#8db14e" stroke-width="0.55" stroke-dasharray="1.5 1"/>
<circle cx="436.7" cy="470" r="1.35" fill="#6a9a2c"/>
<text x="384.2" y="471.5" font-size="5.98" font-family="'Liberation Serif', serif" textLength="8.3" lengthAdjust="spacingAndGlyphs" >Pf2</text>
<line x1="397.5" y1="448.2" x2="441.4" y2="448.2" stroke="#8db14e" stroke-width="0.55" stroke-dasharray="1.5 1"/>
<circle cx="441.4" cy="448.2" r="1.35" fill="#6a9a2c"/>
<text x="384.2" y="449.7" font-size="5.98" font-family="'Liberation Serif', serif" textLength="8.3" lengthAdjust="spacingAndGlyphs" >Pf3</text>
<line x1="397.5" y1="434" x2="449.4" y2="434" stroke="#8db14e" stroke-width="0.55" stroke-dasharray="1.5 1"/>
<circle cx="449.4" cy="434" r="1.35" fill="#6a9a2c"/>
<text x="384.2" y="435.5" font-size="5.98" font-family="'Liberation Serif', serif" textLength="8.3" lengthAdjust="spacingAndGlyphs" >Pf4</text>
<text x="421.2" y="536.1" font-size="7.17" font-family="'Liberation Serif', serif" stroke="#000" stroke-width="0.1" textLength="76.9" lengthAdjust="spacingAndGlyphs" >Reconstruct fragility curve</text>
</svg></body></html>
